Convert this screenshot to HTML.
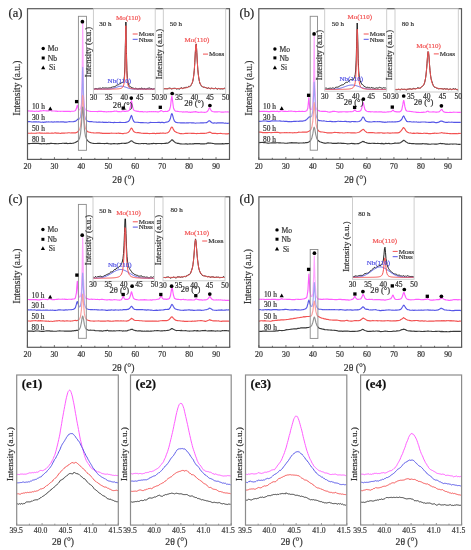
<!DOCTYPE html><html><head><meta charset="utf-8"><style>html,body{margin:0;padding:0;background:#fff;width:471px;height:550px;overflow:hidden}svg{display:block;will-change:transform}text{font-family:"Liberation Serif",serif}</style></head><body><svg width="471" height="550" viewBox="0 0 471 550"><clipPath id="ca"><rect x="27.50" y="8.70" width="202.00" height="150.70"/></clipPath><path d="M27.50 111.20 28.50 110.90 29.50 111.03 30.50 111.12 31.50 111.16 32.50 111.06 33.50 111.26 34.50 111.37 35.50 111.21 36.50 111.19 37.50 111.22 38.50 111.34 39.50 111.12 40.50 110.93 41.50 110.94 42.50 110.75 43.50 110.45 44.50 110.72 45.50 110.77 46.50 110.87 47.50 110.91 48.50 111.00 49.50 110.55 49.62 110.47 50.12 110.23 50.50 110.35 50.62 110.32 51.50 110.96 52.50 111.03 53.50 110.97 54.50 110.99 55.50 111.17 56.50 111.14 57.50 111.42 58.50 111.30 59.50 111.27 60.50 111.36 61.50 111.29 62.50 111.29 63.50 111.34 64.50 111.35 65.50 111.27 66.50 111.32 67.50 111.24 68.50 111.35 69.50 111.37 70.50 111.57 71.50 111.28 72.50 111.27 73.50 111.30 74.50 111.02 75.50 110.48 76.50 108.29 76.83 106.91 77.33 105.21 77.50 105.38 77.83 106.53 78.50 109.17 79.50 109.82 80.50 108.51 81.50 103.16 82.21 73.83 82.50 39.12 82.71 22.39 83.21 74.05 83.50 93.21 84.50 107.68 85.50 109.63 86.50 110.22 87.50 110.64 88.50 111.01 89.50 111.27 90.50 111.43 91.50 111.46 92.50 111.46 93.50 111.47 94.50 111.46 95.50 111.54 96.50 111.54 97.50 111.58 98.50 111.44 99.50 111.41 100.50 111.34 101.50 111.37 102.50 111.45 103.50 111.64 104.50 111.64 105.50 111.80 106.50 111.87 107.50 111.75 108.50 111.68 109.50 111.79 110.50 111.61 111.50 111.61 112.50 111.46 113.50 111.38 114.50 111.16 115.50 111.20 116.50 111.13 117.50 111.57 118.50 111.57 119.50 111.54 120.50 111.77 121.50 111.57 122.50 111.08 122.61 111.09 123.11 110.91 123.50 111.09 123.61 111.11 124.50 111.37 125.50 111.44 126.50 111.18 127.50 111.11 128.50 110.91 129.50 110.03 130.50 106.09 130.96 102.92 131.46 100.70 131.50 100.83 131.96 102.69 132.50 106.35 133.50 109.89 134.50 110.58 135.50 110.99 136.50 111.17 137.50 111.41 138.50 111.39 139.50 111.78 140.50 111.66 141.50 111.67 142.50 111.62 143.50 111.97 144.50 111.76 145.50 111.76 146.50 112.04 147.50 111.84 148.50 111.76 149.50 111.62 150.50 111.73 151.50 111.66 152.50 111.78 153.50 111.67 154.50 111.70 155.50 111.63 156.50 111.75 157.50 111.86 158.50 111.87 159.50 111.54 160.50 110.98 160.59 110.72 161.09 110.51 161.50 110.77 161.59 110.76 162.50 111.25 163.50 111.60 164.50 111.53 165.50 111.40 166.50 111.46 167.50 111.41 168.50 110.76 169.50 109.99 170.50 106.41 171.36 98.93 171.50 97.76 171.86 96.19 172.36 98.96 172.50 100.30 173.50 108.02 174.50 110.35 175.50 111.14 176.50 111.30 177.50 111.34 178.50 111.54 179.50 111.72 180.50 111.78 181.50 111.77 182.50 112.07 183.50 111.88 184.50 112.05 185.50 111.90 186.50 111.91 187.50 111.91 188.50 112.30 189.50 112.14 190.50 112.32 191.50 112.14 192.50 112.07 193.50 111.91 194.50 111.93 195.33 111.67 195.50 111.56 195.83 111.82 196.33 111.92 196.50 111.91 197.50 112.19 198.50 112.33 199.50 112.20 200.50 112.17 201.50 112.11 202.50 112.26 203.50 112.22 204.50 112.41 205.50 112.24 206.50 111.95 207.50 111.32 208.50 109.76 209.07 108.40 209.50 108.03 209.57 108.14 210.07 108.34 210.50 109.48 211.50 110.91 212.50 111.46 213.50 111.76 214.50 111.93 215.50 111.91 216.50 111.88 217.50 111.89 218.50 111.72 219.50 111.79 220.50 111.99 221.50 112.07 222.50 112.13 223.50 112.11 224.50 112.04 225.50 111.87 226.50 112.01 227.50 111.92 228.50 111.97 229.50 112.21" fill="none" stroke="#ff5cff" stroke-width="1.15" stroke-linejoin="round" clip-path="url(#ca)"/><path d="M27.50 121.79 28.50 121.66 29.50 121.68 30.50 121.74 31.50 121.86 32.50 121.95 33.50 121.82 34.50 121.85 35.50 121.85 36.50 121.84 37.50 121.96 38.50 121.84 39.50 122.00 40.50 122.18 41.50 122.20 42.50 122.05 43.50 122.34 44.50 122.19 45.50 122.09 46.50 121.92 47.50 121.97 48.50 121.86 49.50 121.95 50.50 122.01 51.50 121.81 52.50 122.06 53.50 122.06 54.50 121.81 55.50 121.95 56.50 121.91 57.50 121.94 58.50 121.87 59.50 122.01 60.50 121.87 61.50 121.86 62.50 121.90 63.50 121.93 64.50 122.14 65.50 122.12 66.50 122.09 67.50 121.99 68.50 121.78 69.50 121.67 70.50 121.75 71.50 121.75 72.50 121.75 73.50 121.66 74.50 121.42 75.50 121.26 76.50 120.38 77.10 119.85 77.50 119.54 77.60 119.34 78.10 119.09 78.50 119.13 79.50 118.88 80.50 116.90 81.50 108.59 82.21 85.71 82.50 71.88 82.71 67.27 83.21 85.59 83.50 97.79 84.50 115.15 85.50 118.99 86.50 120.44 87.50 121.04 88.50 121.45 89.50 121.56 90.50 121.66 91.50 121.67 92.50 121.73 93.50 121.95 94.50 121.97 95.50 122.03 96.50 122.09 97.50 122.27 98.50 122.09 99.50 122.13 100.50 122.18 101.50 122.20 102.50 122.13 103.50 122.33 104.50 122.24 105.50 122.33 106.50 122.26 107.50 122.53 108.50 122.17 109.50 122.28 110.50 122.33 111.50 122.47 112.50 122.46 113.50 122.60 114.50 122.35 115.50 122.54 116.50 122.49 117.50 122.45 118.50 122.46 119.50 122.43 120.50 122.39 121.50 122.54 122.50 122.46 123.50 122.49 124.50 122.55 125.50 122.39 126.50 122.09 127.50 121.83 128.50 121.37 129.50 120.14 130.50 117.43 130.96 116.19 131.46 115.42 131.50 115.50 131.96 116.47 132.50 118.62 133.50 121.00 134.50 122.07 135.50 122.29 136.50 122.29 137.50 122.26 138.50 122.44 139.50 122.46 140.50 122.67 141.50 122.69 142.50 122.55 143.50 122.68 144.50 122.72 145.50 122.77 146.50 122.77 147.50 122.95 148.50 122.83 149.50 122.63 150.50 122.38 151.50 122.49 152.50 122.53 153.50 122.49 154.50 122.49 155.50 122.54 156.50 122.52 157.50 122.38 158.50 122.21 159.50 122.38 160.50 122.57 161.50 122.41 162.50 122.44 163.50 122.56 164.50 122.71 165.50 122.21 166.50 122.09 167.50 121.99 168.50 121.53 169.50 120.41 170.50 117.94 171.36 114.46 171.50 114.08 171.86 113.66 172.36 114.42 172.50 114.79 173.50 118.64 174.50 121.17 175.50 122.10 176.50 122.50 177.50 122.68 178.50 122.78 179.50 122.79 180.50 122.91 181.50 122.84 182.50 122.86 183.50 122.91 184.50 122.92 185.50 122.96 186.50 122.83 187.50 122.87 188.50 122.83 189.50 122.75 190.50 122.72 191.50 122.82 192.50 122.87 193.50 122.91 194.50 122.96 195.50 123.23 196.50 123.02 197.50 122.99 198.50 122.97 199.50 122.96 200.50 122.89 201.50 122.92 202.50 122.81 203.50 122.91 204.50 122.74 205.50 122.75 206.50 122.64 207.50 122.09 208.50 121.15 209.07 120.71 209.50 120.74 209.57 120.78 210.07 121.09 210.50 121.53 211.50 122.48 212.50 122.98 213.50 123.10 214.50 122.94 215.50 123.04 216.50 123.08 217.50 122.86 218.50 122.83 219.50 122.86 220.50 122.81 221.50 122.77 222.50 122.89 223.50 122.94 224.50 123.20 225.50 123.05 226.50 123.30 227.50 123.32 228.50 123.26 229.50 122.99" fill="none" stroke="#5555e6" stroke-width="1.15" stroke-linejoin="round" clip-path="url(#ca)"/><path d="M27.50 133.11 28.50 133.29 29.50 133.20 30.50 133.25 31.50 133.16 32.50 133.21 33.50 133.20 34.50 133.21 35.50 133.22 36.50 133.12 37.50 133.04 38.50 132.95 39.50 132.88 40.50 133.06 41.50 133.11 42.50 133.13 43.50 133.26 44.50 133.19 45.50 133.24 46.50 133.12 47.50 133.19 48.50 133.06 49.50 133.28 50.50 133.22 51.50 133.07 52.50 133.09 53.50 133.21 54.50 132.93 55.50 132.93 56.50 133.16 57.50 133.09 58.50 133.11 59.50 133.25 60.50 133.48 61.50 133.14 62.50 133.12 63.50 133.14 64.50 133.09 65.50 133.02 66.50 132.96 67.50 132.90 68.50 132.78 69.50 132.80 70.50 132.98 71.50 132.91 72.50 132.84 73.50 132.93 74.50 132.91 75.50 132.85 76.50 132.42 77.50 131.99 78.50 131.00 79.50 129.64 80.50 126.33 81.50 116.53 82.21 101.99 82.50 96.81 82.71 95.25 83.21 101.88 83.50 108.56 84.50 123.33 85.50 128.52 86.50 130.44 87.50 131.59 88.50 131.93 89.50 132.30 90.50 132.44 91.50 132.70 92.50 132.73 93.50 132.83 94.50 132.97 95.50 133.04 96.50 132.93 97.50 132.87 98.50 132.87 99.50 132.90 100.50 133.14 101.50 133.08 102.50 133.40 103.50 133.37 104.50 133.34 105.50 133.23 106.50 133.39 107.50 133.34 108.50 133.38 109.50 133.39 110.50 133.29 111.50 133.13 112.50 133.20 113.50 133.27 114.50 133.28 115.50 133.26 116.50 133.43 117.50 133.27 118.50 133.17 119.50 133.33 120.50 133.38 121.50 133.49 122.50 133.68 123.50 133.56 124.50 133.22 125.50 133.29 126.50 133.08 127.50 132.69 128.50 132.20 129.50 131.05 130.50 129.31 130.96 128.41 131.46 128.12 131.50 128.09 131.96 128.52 132.50 129.42 133.50 131.27 134.50 132.01 135.50 132.49 136.50 132.70 137.50 132.62 138.50 132.67 139.50 132.88 140.50 132.94 141.50 133.25 142.50 133.27 143.50 133.36 144.50 133.27 145.50 133.36 146.50 133.32 147.50 133.40 148.50 133.51 149.50 133.56 150.50 133.46 151.50 133.54 152.50 133.44 153.50 133.39 154.50 133.33 155.50 133.74 156.50 133.38 157.50 133.32 158.50 133.41 159.50 133.39 160.50 133.10 161.50 133.31 162.50 133.11 163.50 132.98 164.50 133.21 165.50 133.32 166.50 133.02 167.50 132.85 168.50 132.21 169.50 131.14 170.50 128.86 171.36 127.33 171.50 127.21 171.86 127.10 172.36 127.42 172.50 127.62 173.50 129.65 174.50 131.18 175.50 131.83 176.50 132.39 177.50 132.73 178.50 133.03 179.50 133.37 180.50 133.64 181.50 133.57 182.50 133.75 183.50 133.75 184.50 133.46 185.50 133.32 186.50 133.40 187.50 133.41 188.50 133.29 189.50 133.30 190.50 133.25 191.50 133.32 192.50 133.39 193.50 133.22 194.50 133.43 195.50 133.52 196.50 133.64 197.50 133.44 198.50 133.46 199.50 133.48 200.50 133.29 201.50 133.33 202.50 133.34 203.50 133.33 204.50 133.44 205.50 133.30 206.50 133.08 207.50 132.80 208.50 132.70 209.07 132.17 209.50 132.16 209.57 132.39 210.07 132.20 210.50 132.33 211.50 133.00 212.50 133.42 213.50 133.35 214.50 133.36 215.50 133.36 216.50 133.56 217.50 133.62 218.50 133.45 219.50 133.49 220.50 133.28 221.50 133.46 222.50 133.71 223.50 133.71 224.50 133.80 225.50 133.86 226.50 133.79 227.50 133.85 228.50 133.63 229.50 133.72" fill="none" stroke="#f25252" stroke-width="1.15" stroke-linejoin="round" clip-path="url(#ca)"/><path d="M27.50 143.69 28.50 143.58 29.50 143.69 30.50 143.53 31.50 143.50 32.50 143.39 33.50 143.36 34.50 143.29 35.50 143.32 36.50 143.28 37.50 143.32 38.50 143.38 39.50 143.63 40.50 143.59 41.50 143.82 42.50 143.74 43.50 143.62 44.50 143.51 45.50 143.80 46.50 143.82 47.50 143.62 48.50 143.51 49.50 143.60 50.50 143.39 51.50 143.34 52.50 143.48 53.50 143.52 54.50 143.59 55.50 143.57 56.50 143.66 57.50 143.72 58.50 143.69 59.50 143.53 60.50 143.52 61.50 143.50 62.50 143.28 63.50 143.28 64.50 143.39 65.50 143.43 66.50 143.18 67.50 143.59 68.50 143.48 69.50 143.43 70.50 143.27 71.50 143.49 72.50 143.23 73.50 143.10 74.50 142.80 75.50 142.51 76.50 141.73 77.50 141.33 78.50 140.44 79.50 138.29 80.50 133.82 81.50 123.77 82.21 111.50 82.50 107.98 82.71 106.99 83.21 111.50 83.50 116.11 84.50 130.12 85.50 136.29 86.50 139.14 87.50 140.61 88.50 141.43 89.50 142.14 90.50 142.64 91.50 143.02 92.50 143.26 93.50 143.40 94.50 143.50 95.50 143.51 96.50 143.46 97.50 143.36 98.50 143.33 99.50 143.27 100.50 143.41 101.50 143.51 102.50 143.46 103.50 143.55 104.50 143.67 105.50 143.50 106.50 143.35 107.50 143.44 108.50 143.60 109.50 143.72 110.50 143.93 111.50 143.90 112.50 143.77 113.50 143.67 114.50 143.68 115.50 143.80 116.50 143.76 117.50 143.86 118.50 143.66 119.50 143.59 120.50 143.46 121.50 143.33 122.50 143.22 123.50 143.24 124.50 143.33 125.50 143.32 126.50 143.10 127.50 143.05 128.50 142.58 129.50 141.94 130.50 141.13 130.96 140.95 131.46 140.88 131.50 140.93 131.96 140.95 132.50 141.42 133.50 142.20 134.50 142.67 135.50 143.11 136.50 143.49 137.50 143.47 138.50 143.66 139.50 143.73 140.50 143.75 141.50 143.52 142.50 143.47 143.50 143.58 144.50 143.48 145.50 143.54 146.50 143.68 147.50 143.95 148.50 143.88 149.50 143.87 150.50 143.70 151.50 143.46 152.50 143.56 153.50 143.42 154.50 143.48 155.50 143.62 156.50 143.58 157.50 143.45 158.50 143.49 159.50 143.47 160.50 143.55 161.50 143.64 162.50 143.50 163.50 143.45 164.50 143.44 165.50 143.38 166.50 143.10 167.50 143.27 168.50 142.81 169.50 142.02 170.50 141.12 171.36 140.32 171.50 139.97 171.86 139.82 172.36 139.88 172.50 140.01 173.50 141.02 174.50 141.91 175.50 142.72 176.50 142.99 177.50 143.35 178.50 143.40 179.50 143.66 180.50 143.85 181.50 143.94 182.50 143.96 183.50 143.98 184.50 144.05 185.50 143.77 186.50 143.90 187.50 144.09 188.50 143.98 189.50 143.91 190.50 143.93 191.50 144.00 192.50 143.83 193.50 143.84 194.50 143.57 195.50 143.60 196.50 143.58 197.50 143.63 198.50 143.61 199.50 143.57 200.50 143.93 201.50 143.82 202.50 143.85 203.50 143.80 204.50 143.81 205.50 143.77 206.50 143.63 207.50 143.11 208.50 142.89 209.07 143.18 209.50 142.98 209.57 143.00 210.07 143.20 210.50 143.09 211.50 143.25 212.50 143.43 213.50 143.51 214.50 143.82 215.50 143.75 216.50 143.84 217.50 143.81 218.50 143.73 219.50 143.84 220.50 143.86 221.50 143.87 222.50 143.67 223.50 143.86 224.50 143.81 225.50 143.57 226.50 143.50 227.50 143.63 228.50 143.49 229.50 143.53" fill="none" stroke="#3a3a3a" stroke-width="1.15" stroke-linejoin="round" clip-path="url(#ca)"/><rect x="78.40" y="16.30" width="8.10" height="134.00" fill="#fff" fill-opacity="0.45" stroke="#8a8a8a" stroke-width="0.9"/><line x1="27.50" y1="159.40" x2="27.50" y2="157.20" stroke="#5a5a5a" stroke-width="0.9"/><text x="27.50" y="169.30" font-size="7.80" fill="#333" stroke="#333" stroke-width="0.20" text-anchor="middle" font-weight="normal" font-family="Liberation Serif">20</text><line x1="40.97" y1="159.40" x2="40.97" y2="157.90" stroke="#5a5a5a" stroke-width="0.9"/><line x1="54.43" y1="159.40" x2="54.43" y2="157.20" stroke="#5a5a5a" stroke-width="0.9"/><text x="54.43" y="169.30" font-size="7.80" fill="#333" stroke="#333" stroke-width="0.20" text-anchor="middle" font-weight="normal" font-family="Liberation Serif">30</text><line x1="67.90" y1="159.40" x2="67.90" y2="157.90" stroke="#5a5a5a" stroke-width="0.9"/><line x1="81.37" y1="159.40" x2="81.37" y2="157.20" stroke="#5a5a5a" stroke-width="0.9"/><text x="81.37" y="169.30" font-size="7.80" fill="#333" stroke="#333" stroke-width="0.20" text-anchor="middle" font-weight="normal" font-family="Liberation Serif">40</text><line x1="94.83" y1="159.40" x2="94.83" y2="157.90" stroke="#5a5a5a" stroke-width="0.9"/><line x1="108.30" y1="159.40" x2="108.30" y2="157.20" stroke="#5a5a5a" stroke-width="0.9"/><text x="108.30" y="169.30" font-size="7.80" fill="#333" stroke="#333" stroke-width="0.20" text-anchor="middle" font-weight="normal" font-family="Liberation Serif">50</text><line x1="121.77" y1="159.40" x2="121.77" y2="157.90" stroke="#5a5a5a" stroke-width="0.9"/><line x1="135.23" y1="159.40" x2="135.23" y2="157.20" stroke="#5a5a5a" stroke-width="0.9"/><text x="135.23" y="169.30" font-size="7.80" fill="#333" stroke="#333" stroke-width="0.20" text-anchor="middle" font-weight="normal" font-family="Liberation Serif">60</text><line x1="148.70" y1="159.40" x2="148.70" y2="157.90" stroke="#5a5a5a" stroke-width="0.9"/><line x1="162.17" y1="159.40" x2="162.17" y2="157.20" stroke="#5a5a5a" stroke-width="0.9"/><text x="162.17" y="169.30" font-size="7.80" fill="#333" stroke="#333" stroke-width="0.20" text-anchor="middle" font-weight="normal" font-family="Liberation Serif">70</text><line x1="175.63" y1="159.40" x2="175.63" y2="157.90" stroke="#5a5a5a" stroke-width="0.9"/><line x1="189.10" y1="159.40" x2="189.10" y2="157.20" stroke="#5a5a5a" stroke-width="0.9"/><text x="189.10" y="169.30" font-size="7.80" fill="#333" stroke="#333" stroke-width="0.20" text-anchor="middle" font-weight="normal" font-family="Liberation Serif">80</text><line x1="202.57" y1="159.40" x2="202.57" y2="157.90" stroke="#5a5a5a" stroke-width="0.9"/><line x1="216.03" y1="159.40" x2="216.03" y2="157.20" stroke="#5a5a5a" stroke-width="0.9"/><text x="216.03" y="169.30" font-size="7.80" fill="#333" stroke="#333" stroke-width="0.20" text-anchor="middle" font-weight="normal" font-family="Liberation Serif">90</text><line x1="229.50" y1="159.40" x2="229.50" y2="157.90" stroke="#5a5a5a" stroke-width="0.9"/><rect x="27.50" y="8.70" width="202.00" height="150.70" fill="none" stroke="#5a5a5a" stroke-width="1.20"/><text x="8.60" y="16.50" font-size="12.50" fill="#222" stroke="#222" stroke-width="0.20" text-anchor="start" font-weight="normal" font-family="Liberation Serif">(a)</text><text x="123.40" y="182.90" font-size="9.70" fill="#333" stroke="#333" stroke-width="0.20" text-anchor="middle" font-weight="normal" font-family="Liberation Serif">2θ (°)</text><text x="19.50" y="88.00" font-size="9.40" fill="#333" stroke="#333" stroke-width="0.20" text-anchor="middle" font-weight="normal" font-family="Liberation Serif" transform="rotate(-90 19.50 88.00)">Intensity (a.u.)</text><circle cx="43.20" cy="48.50" r="1.70" fill="#000"/><text x="47.80" y="51.10" font-size="7.60" fill="#333" stroke="#333" stroke-width="0.20" text-anchor="start" font-weight="normal" font-family="Liberation Serif">Mo</text><rect x="41.70" y="56.50" width="3.00" height="3.00" fill="#000"/><text x="47.80" y="60.60" font-size="7.60" fill="#333" stroke="#333" stroke-width="0.20" text-anchor="start" font-weight="normal" font-family="Liberation Serif">Nb</text><path d="M43.20 65.44L45.29 69.22L41.11 69.22Z" fill="#000"/><text x="49.10" y="70.20" font-size="7.60" fill="#333" stroke="#333" stroke-width="0.20" text-anchor="start" font-weight="normal" font-family="Liberation Serif">Si</text><text x="31.90" y="109.20" font-size="7.40" fill="#333" stroke="#333" stroke-width="0.20" text-anchor="start" font-weight="normal" font-family="Liberation Serif">10 h</text><text x="31.90" y="120.00" font-size="7.40" fill="#333" stroke="#333" stroke-width="0.20" text-anchor="start" font-weight="normal" font-family="Liberation Serif">30 h</text><text x="31.90" y="130.90" font-size="7.40" fill="#333" stroke="#333" stroke-width="0.20" text-anchor="start" font-weight="normal" font-family="Liberation Serif">50 h</text><text x="31.90" y="141.70" font-size="7.40" fill="#333" stroke="#333" stroke-width="0.20" text-anchor="start" font-weight="normal" font-family="Liberation Serif">80 h</text><rect x="93.40" y="8.80" width="61.80" height="85.20" fill="#fff"/><clipPath id="ia1"><rect x="93.40" y="8.80" width="61.80" height="85.20"/></clipPath><path d="M93.40 88.40 93.90 88.51 94.40 89.00 94.90 88.96 95.40 88.61 95.90 88.45 96.40 88.55 96.90 88.80 97.40 88.96 97.90 88.72 98.40 88.39 98.90 88.41 99.40 88.25 99.90 88.30 100.40 88.23 100.90 88.19 101.40 88.48 101.90 88.24 102.40 87.90 102.90 87.67 103.40 87.90 103.90 88.20 104.40 88.08 104.90 88.10 105.40 88.01 105.90 87.87 106.40 87.99 106.90 87.97 107.40 88.14 107.90 88.07 108.40 87.88 108.90 88.26 109.40 87.89 109.90 87.97 110.40 87.81 110.90 87.73 111.40 87.35 111.90 87.49 112.40 86.96 112.90 86.82 113.40 86.82 113.90 86.79 114.40 86.81 114.90 86.77 115.40 86.16 115.90 85.95 116.40 85.39 116.90 84.96 117.40 84.94 117.90 84.90 118.40 84.71 118.90 84.36 119.40 83.91 119.90 83.82 120.40 83.64 120.90 83.48 121.40 82.75 121.90 82.87 122.40 82.34 122.90 82.14 123.40 81.58 123.90 79.88 124.40 76.34 124.90 66.92 125.40 43.17 125.90 22.01 126.40 49.72 126.90 70.52 127.40 78.52 127.90 82.01 128.40 83.74 128.90 85.36 129.40 86.23 129.90 86.50 130.40 86.73 130.90 86.77 131.40 87.21 131.90 87.92 132.40 87.92 132.90 88.11 133.40 88.23 133.90 88.37 134.40 88.61 134.90 88.48 135.40 88.25 135.90 88.38 136.40 88.62 136.90 88.49 137.40 88.97 137.90 88.73 138.40 88.83 138.90 88.55 139.40 88.41 139.90 88.80 140.40 88.76 140.90 88.86 141.40 88.05 141.90 87.82 142.40 88.65 142.90 88.92 143.40 89.02 143.90 88.46 144.40 88.55 144.90 88.58 145.40 89.07 145.90 88.79 146.40 88.96 146.90 88.53 147.40 88.47 147.90 88.26 148.40 88.22 148.90 88.13 149.40 88.00 149.90 88.33 150.40 88.78 150.90 88.29 151.40 88.54 151.90 88.52 152.40 89.25 152.90 89.21 153.40 88.97 153.90 88.71 154.40 88.47 154.90 88.78" fill="none" stroke="#151515" stroke-width="0.95" clip-path="url(#ia1)"/><path d="M93.40 89.20 93.90 89.20 94.40 89.20 94.90 89.20 95.40 89.20 95.90 89.20 96.40 89.20 96.90 89.20 97.40 89.20 97.90 89.20 98.40 89.20 98.90 89.20 99.40 89.20 99.90 89.20 100.40 89.20 100.90 89.20 101.40 89.20 101.90 89.20 102.40 89.20 102.90 89.20 103.40 89.19 103.90 89.19 104.40 89.19 104.90 89.19 105.40 89.18 105.90 89.17 106.40 89.16 106.90 89.15 107.40 89.14 107.90 89.11 108.40 89.09 108.90 89.06 109.40 89.02 109.90 88.97 110.40 88.91 110.90 88.85 111.40 88.77 111.90 88.67 112.40 88.57 112.90 88.45 113.40 88.32 113.90 88.18 114.40 88.02 114.90 87.85 115.40 87.68 115.90 87.50 116.40 87.32 116.90 87.14 117.40 86.96 117.90 86.79 118.40 86.64 118.90 86.51 119.40 86.39 119.90 86.30 120.40 86.24 120.90 86.21 121.40 86.20 121.90 86.23 122.40 86.28 122.90 86.37 123.40 86.48 123.90 86.61 124.40 86.76 124.90 86.92 125.40 87.09 125.90 87.27 126.40 87.45 126.90 87.64 127.40 87.81 127.90 87.98 128.40 88.14 128.90 88.29 129.40 88.42 129.90 88.54 130.40 88.65 130.90 88.75 131.40 88.83 131.90 88.90 132.40 88.96 132.90 89.01 133.40 89.05 133.90 89.08 134.40 89.11 134.90 89.13 135.40 89.15 135.90 89.16 136.40 89.17 136.90 89.18 137.40 89.18 137.90 89.19 138.40 89.19 138.90 89.19 139.40 89.20 139.90 89.20 140.40 89.20 140.90 89.20 141.40 89.20 141.90 89.20 142.40 89.20 142.90 89.20 143.40 89.20 143.90 89.20 144.40 89.20 144.90 89.20 145.40 89.20 145.90 89.20 146.40 89.20 146.90 89.20 147.40 89.20 147.90 89.20 148.40 89.20 148.90 89.20 149.40 89.20 149.90 89.20 150.40 89.20 150.90 89.20 151.40 89.20 151.90 89.20 152.40 89.20 152.90 89.20 153.40 89.20 153.90 89.20 154.40 89.20 154.90 89.20" fill="none" stroke="#5555e6" stroke-width="0.9" clip-path="url(#ia1)"/><path d="M93.40 89.18 93.90 89.18 94.40 89.18 94.90 89.18 95.40 89.18 95.90 89.18 96.40 89.18 96.90 89.18 97.40 89.17 97.90 89.17 98.40 89.17 98.90 89.17 99.40 89.17 99.90 89.17 100.40 89.17 100.90 89.17 101.40 89.17 101.90 89.16 102.40 89.16 102.90 89.16 103.40 89.16 103.90 89.16 104.40 89.15 104.90 89.15 105.40 89.15 105.90 89.15 106.40 89.15 106.90 89.14 107.40 89.14 107.90 89.14 108.40 89.13 108.90 89.13 109.40 89.12 109.90 89.12 110.40 89.11 110.90 89.11 111.40 89.10 111.90 89.09 112.40 89.09 112.90 89.08 113.40 89.07 113.90 89.05 114.40 89.04 114.90 89.03 115.40 89.01 115.90 88.99 116.40 88.97 116.90 88.94 117.40 88.91 117.90 88.87 118.40 88.83 118.90 88.77 119.40 88.70 119.90 88.62 120.40 88.51 120.90 88.36 121.40 88.17 121.90 87.90 122.40 87.50 122.90 86.91 123.40 85.93 123.90 84.20 124.40 80.57 124.90 71.01 125.40 46.67 125.90 25.68 126.40 53.60 126.90 74.03 127.40 81.66 127.90 84.68 128.40 86.19 128.90 87.06 129.40 87.60 129.90 87.97 130.40 88.22 130.90 88.40 131.40 88.53 131.90 88.64 132.40 88.72 132.90 88.79 133.40 88.84 133.90 88.88 134.40 88.92 134.90 88.95 135.40 88.97 135.90 89.00 136.40 89.01 136.90 89.03 137.40 89.04 137.90 89.06 138.40 89.07 138.90 89.08 139.40 89.09 139.90 89.10 140.40 89.10 140.90 89.11 141.40 89.11 141.90 89.12 142.40 89.12 142.90 89.13 143.40 89.13 143.90 89.14 144.40 89.14 144.90 89.14 145.40 89.15 145.90 89.15 146.40 89.15 146.90 89.15 147.40 89.16 147.90 89.16 148.40 89.16 148.90 89.16 149.40 89.16 149.90 89.16 150.40 89.17 150.90 89.17 151.40 89.17 151.90 89.17 152.40 89.17 152.90 89.17 153.40 89.17 153.90 89.17 154.40 89.17 154.90 89.18" fill="none" stroke="#f25252" stroke-width="1.0" clip-path="url(#ia1)"/><rect x="93.40" y="8.80" width="61.80" height="85.20" fill="none" stroke="#c8c8c8" stroke-width="0.90"/><text x="93.40" y="99.80" font-size="7.50" fill="#333" stroke="#333" stroke-width="0.20" text-anchor="middle" font-weight="normal" font-family="Liberation Serif">30</text><text x="108.85" y="99.80" font-size="7.50" fill="#333" stroke="#333" stroke-width="0.20" text-anchor="middle" font-weight="normal" font-family="Liberation Serif">35</text><text x="124.30" y="99.80" font-size="7.50" fill="#333" stroke="#333" stroke-width="0.20" text-anchor="middle" font-weight="normal" font-family="Liberation Serif">40</text><text x="139.75" y="99.80" font-size="7.50" fill="#333" stroke="#333" stroke-width="0.20" text-anchor="middle" font-weight="normal" font-family="Liberation Serif">45</text><text x="155.20" y="99.80" font-size="7.50" fill="#333" stroke="#333" stroke-width="0.20" text-anchor="middle" font-weight="normal" font-family="Liberation Serif">50</text><text x="122.70" y="108.30" font-size="8.60" fill="#333" stroke="#333" stroke-width="0.20" text-anchor="middle" font-weight="normal" font-family="Liberation Serif">2θ (°)</text><text x="90.80" y="52.00" font-size="8.60" fill="#333" stroke="#333" stroke-width="0.20" text-anchor="middle" font-weight="normal" font-family="Liberation Serif" transform="rotate(-90 90.80 52.00)">Intensity (a.u.)</text><text x="99.20" y="26.30" font-size="7.00" fill="#333" stroke="#333" stroke-width="0.20" text-anchor="start" font-weight="normal" font-family="Liberation Serif">30 h</text><text x="116.00" y="20.40" font-size="7.00" fill="#f25252" stroke="#f25252" stroke-width="0.20" text-anchor="start" font-weight="normal" font-family="Liberation Serif">Mo(110)</text><line x1="132.70" y1="34.00" x2="137.70" y2="34.00" stroke="#f25252" stroke-width="1"/><text x="138.70" y="36.30" font-size="7.00" fill="#333" stroke="#333" stroke-width="0.20" text-anchor="start" font-weight="normal" font-family="Liberation Serif">Moss</text><line x1="132.70" y1="39.30" x2="137.70" y2="39.30" stroke="#5555e6" stroke-width="1"/><text x="138.70" y="41.60" font-size="7.00" fill="#333" stroke="#333" stroke-width="0.20" text-anchor="start" font-weight="normal" font-family="Liberation Serif">Nbss</text><text x="107.60" y="83.30" font-size="7.00" fill="#5555e6" stroke="#5555e6" stroke-width="0.20" text-anchor="start" font-weight="normal" font-family="Liberation Serif">Nb(110)</text><rect x="163.30" y="8.80" width="62.40" height="85.20" fill="#fff"/><clipPath id="ia2"><rect x="163.30" y="8.80" width="62.40" height="85.20"/></clipPath><path d="M163.30 89.21 163.80 88.94 164.30 88.86 164.80 88.60 165.30 88.79 165.80 88.64 166.30 88.71 166.80 88.92 167.30 88.96 167.80 88.64 168.30 88.03 168.80 88.48 169.30 88.10 169.80 88.18 170.30 88.26 170.80 88.53 171.30 88.95 171.80 88.90 172.30 88.97 172.80 88.35 173.30 88.43 173.80 88.29 174.30 88.28 174.80 88.31 175.30 88.35 175.80 88.56 176.30 88.89 176.80 89.19 177.30 88.93 177.80 88.70 178.30 88.94 178.80 88.74 179.30 89.11 179.80 88.80 180.30 88.59 180.80 87.82 181.30 87.76 181.80 87.91 182.30 88.40 182.80 88.57 183.30 88.25 183.80 87.94 184.30 87.79 184.80 87.56 185.30 87.72 185.80 87.21 186.30 87.40 186.80 87.23 187.30 87.50 187.80 86.91 188.30 86.43 188.80 86.68 189.30 86.34 189.80 86.80 190.30 86.37 190.80 85.63 191.30 84.63 191.80 83.73 192.30 82.77 192.80 81.21 193.30 78.52 193.80 74.80 194.30 70.12 194.80 62.62 195.30 53.01 195.80 45.06 196.30 44.12 196.80 52.52 197.30 61.93 197.80 69.29 198.30 74.18 198.80 77.92 199.30 80.89 199.80 82.96 200.30 84.32 200.80 84.83 201.30 85.91 201.80 86.16 202.30 86.82 202.80 86.87 203.30 87.12 203.80 87.33 204.30 87.22 204.80 87.33 205.30 87.49 205.80 87.52 206.30 88.06 206.80 88.00 207.30 88.33 207.80 88.30 208.30 87.78 208.80 87.96 209.30 88.33 209.80 88.70 210.30 88.94 210.80 88.52 211.30 88.42 211.80 87.97 212.30 88.42 212.80 88.21 213.30 88.72 213.80 88.82 214.30 88.79 214.80 88.39 215.30 88.20 215.80 87.87 216.30 88.37 216.80 89.11 217.30 89.14 217.80 88.91 218.30 88.47 218.80 88.61 219.30 88.65 219.80 88.89 220.30 88.71 220.80 89.17 221.30 88.79 221.80 88.90 222.30 88.89 222.80 89.03 223.30 88.84 223.80 88.52 224.30 88.13 224.80 88.32 225.30 88.82" fill="none" stroke="#151515" stroke-width="0.95" clip-path="url(#ia2)"/><path d="M163.30 88.71 163.80 88.70 164.30 88.70 164.80 88.70 165.30 88.69 165.80 88.69 166.30 88.69 166.80 88.68 167.30 88.68 167.80 88.67 168.30 88.67 168.80 88.66 169.30 88.66 169.80 88.65 170.30 88.65 170.80 88.64 171.30 88.63 171.80 88.63 172.30 88.62 172.80 88.61 173.30 88.60 173.80 88.59 174.30 88.59 174.80 88.58 175.30 88.56 175.80 88.55 176.30 88.54 176.80 88.53 177.30 88.51 177.80 88.50 178.30 88.48 178.80 88.46 179.30 88.44 179.80 88.42 180.30 88.39 180.80 88.37 181.30 88.34 181.80 88.30 182.30 88.27 182.80 88.23 183.30 88.18 183.80 88.13 184.30 88.07 184.80 88.01 185.30 87.94 185.80 87.85 186.30 87.75 186.80 87.64 187.30 87.51 187.80 87.35 188.30 87.17 188.80 86.94 189.30 86.67 189.80 86.34 190.30 85.92 190.80 85.39 191.30 84.70 191.80 83.80 192.30 82.57 192.80 80.87 193.30 78.45 193.80 74.92 194.30 69.69 194.80 62.16 195.30 52.62 195.80 44.63 196.30 44.44 196.80 52.23 197.30 61.81 197.80 69.44 198.30 74.74 198.80 78.33 199.30 80.79 199.80 82.51 200.30 83.75 200.80 84.67 201.30 85.36 201.80 85.90 202.30 86.32 202.80 86.66 203.30 86.93 203.80 87.16 204.30 87.35 204.80 87.50 205.30 87.64 205.80 87.75 206.30 87.85 206.80 87.93 207.30 88.01 207.80 88.07 208.30 88.13 208.80 88.18 209.30 88.23 209.80 88.27 210.30 88.30 210.80 88.34 211.30 88.36 211.80 88.39 212.30 88.42 212.80 88.44 213.30 88.46 213.80 88.48 214.30 88.50 214.80 88.51 215.30 88.53 215.80 88.54 216.30 88.55 216.80 88.56 217.30 88.57 217.80 88.59 218.30 88.59 218.80 88.60 219.30 88.61 219.80 88.62 220.30 88.63 220.80 88.63 221.30 88.64 221.80 88.65 222.30 88.65 222.80 88.66 223.30 88.66 223.80 88.67 224.30 88.67 224.80 88.68 225.30 88.68" fill="none" stroke="#f25252" stroke-width="1.0" clip-path="url(#ia2)"/><rect x="163.30" y="8.80" width="62.40" height="85.20" fill="none" stroke="#c8c8c8" stroke-width="0.90"/><text x="163.30" y="99.80" font-size="7.50" fill="#333" stroke="#333" stroke-width="0.20" text-anchor="middle" font-weight="normal" font-family="Liberation Serif">30</text><text x="178.90" y="99.80" font-size="7.50" fill="#333" stroke="#333" stroke-width="0.20" text-anchor="middle" font-weight="normal" font-family="Liberation Serif">35</text><text x="194.50" y="99.80" font-size="7.50" fill="#333" stroke="#333" stroke-width="0.20" text-anchor="middle" font-weight="normal" font-family="Liberation Serif">40</text><text x="210.10" y="99.80" font-size="7.50" fill="#333" stroke="#333" stroke-width="0.20" text-anchor="middle" font-weight="normal" font-family="Liberation Serif">45</text><text x="225.70" y="99.80" font-size="7.50" fill="#333" stroke="#333" stroke-width="0.20" text-anchor="middle" font-weight="normal" font-family="Liberation Serif">50</text><text x="194.00" y="106.00" font-size="8.60" fill="#333" stroke="#333" stroke-width="0.20" text-anchor="middle" font-weight="normal" font-family="Liberation Serif">2θ (°)</text><text x="161.50" y="54.00" font-size="8.60" fill="#333" stroke="#333" stroke-width="0.20" text-anchor="middle" font-weight="normal" font-family="Liberation Serif" transform="rotate(-90 161.50 54.00)">Intensity (a.u.)</text><text x="169.70" y="25.80" font-size="7.00" fill="#333" stroke="#333" stroke-width="0.20" text-anchor="start" font-weight="normal" font-family="Liberation Serif">50 h</text><text x="184.60" y="41.70" font-size="7.00" fill="#f25252" stroke="#f25252" stroke-width="0.20" text-anchor="start" font-weight="normal" font-family="Liberation Serif">Mo(110)</text><line x1="203.00" y1="54.10" x2="208.00" y2="54.10" stroke="#f25252" stroke-width="1"/><text x="209.00" y="56.40" font-size="7.00" fill="#333" stroke="#333" stroke-width="0.20" text-anchor="start" font-weight="normal" font-family="Liberation Serif">Moss</text><circle cx="82.40" cy="21.70" r="1.85" fill="#000"/><circle cx="131.30" cy="98.10" r="1.85" fill="#000"/><circle cx="172.20" cy="93.50" r="1.85" fill="#000"/><circle cx="209.90" cy="105.50" r="1.85" fill="#000"/><rect x="74.95" y="99.95" width="3.30" height="3.30" fill="#000"/><rect x="121.55" y="106.45" width="3.30" height="3.30" fill="#000"/><rect x="158.65" y="105.65" width="3.30" height="3.30" fill="#000"/><path d="M50.30 106.54L52.39 110.32L48.21 110.32Z" fill="#000"/><clipPath id="cb"><rect x="258.80" y="8.70" width="202.70" height="150.60"/></clipPath><path d="M258.80 111.31 259.80 111.26 260.80 111.47 261.80 111.43 262.80 111.44 263.80 111.20 264.80 111.34 265.80 111.50 266.80 111.32 267.80 111.63 268.80 111.45 269.80 111.63 270.80 111.43 271.80 111.36 272.80 111.31 273.80 111.36 274.80 111.39 275.80 111.52 276.80 111.33 277.80 111.39 278.80 111.73 279.80 111.41 280.80 111.10 281.00 111.06 281.50 110.72 281.80 110.73 282.00 110.89 282.80 111.19 283.80 111.36 284.80 111.39 285.80 111.34 286.80 111.47 287.80 111.47 288.80 111.14 289.80 111.22 290.80 110.99 291.80 111.14 292.80 111.23 293.80 111.51 294.80 111.38 295.80 111.61 296.80 111.52 297.80 111.48 298.80 111.35 299.80 111.25 300.80 111.45 301.80 111.42 302.80 111.42 303.80 111.50 304.80 111.39 305.80 111.09 306.80 110.69 307.80 108.27 308.30 103.30 308.80 97.70 308.80 97.76 309.30 103.23 309.80 107.88 310.80 109.74 311.80 109.04 312.80 105.20 313.70 74.90 313.80 66.39 314.20 36.10 314.70 75.02 314.80 82.04 315.80 106.72 316.80 109.67 317.80 110.38 318.80 110.64 319.80 111.11 320.80 111.23 321.80 111.33 322.80 111.40 323.80 111.43 324.80 111.21 325.80 111.39 326.80 111.49 327.80 111.86 328.80 112.06 329.80 112.10 330.80 111.86 331.80 111.62 332.80 111.33 333.80 111.22 334.80 111.43 335.80 111.50 336.80 111.74 337.80 111.84 338.80 112.09 339.80 111.93 340.80 111.91 341.80 111.86 342.80 111.74 343.80 111.70 344.80 111.75 345.80 111.92 346.80 111.90 347.80 111.93 348.80 111.75 349.80 111.77 350.80 111.68 351.80 111.72 352.80 111.45 353.80 110.96 354.24 110.42 354.74 110.08 354.80 109.90 355.24 110.34 355.80 110.94 356.80 111.35 357.80 111.55 358.80 111.44 359.80 111.12 360.80 110.58 361.80 108.11 362.62 103.90 362.80 103.12 363.12 102.35 363.62 103.89 363.80 104.81 364.80 109.15 365.80 110.60 366.80 111.22 367.80 111.57 368.80 111.65 369.80 111.65 370.80 111.92 371.80 111.73 372.80 111.73 373.80 112.02 374.80 111.93 375.80 111.90 376.80 111.88 377.80 111.98 378.80 111.87 379.80 111.91 380.80 111.75 381.80 111.86 382.80 112.22 383.80 112.18 384.80 112.16 385.80 112.23 386.80 111.98 387.80 111.73 388.80 111.82 389.80 111.80 390.80 111.61 391.80 111.18 392.35 110.55 392.80 110.22 392.85 110.08 393.35 110.33 393.80 110.92 394.80 111.63 395.80 111.63 396.80 111.85 397.80 111.93 398.80 111.94 399.80 111.81 400.80 111.18 401.80 109.66 402.80 104.68 403.16 102.23 403.66 100.43 403.80 100.47 404.16 102.10 404.80 106.38 405.80 110.01 406.80 111.00 407.80 111.24 408.80 111.28 409.80 111.36 410.80 111.53 411.80 111.58 412.80 111.75 413.80 112.03 414.80 112.00 415.80 112.12 416.80 112.42 417.80 112.40 418.80 112.40 419.80 112.49 420.80 112.40 421.80 112.25 422.80 112.35 423.80 112.09 424.80 112.22 425.80 112.01 426.80 111.60 427.22 111.24 427.72 111.09 427.80 111.06 428.22 111.39 428.80 111.84 429.80 111.96 430.80 111.99 431.80 112.01 432.80 111.89 433.80 111.90 434.80 112.05 435.80 112.06 436.80 112.14 437.80 111.96 438.80 112.00 439.80 111.08 440.80 110.08 441.00 109.67 441.50 109.48 441.80 109.44 442.00 109.70 442.80 110.85 443.80 111.84 444.80 112.11 445.80 112.47 446.80 112.39 447.80 112.51 448.80 112.48 449.80 112.32 450.80 112.23 451.80 112.45 452.80 112.21 453.80 112.15 454.80 112.21 455.80 112.23 456.80 112.29 457.80 112.39 458.80 112.40 459.80 112.39 460.80 112.42" fill="none" stroke="#ff5cff" stroke-width="1.15" stroke-linejoin="round" clip-path="url(#cb)"/><path d="M258.80 121.38 259.80 121.39 260.80 121.28 261.80 121.22 262.80 121.00 263.80 120.91 264.80 120.96 265.80 121.05 266.80 121.07 267.80 121.34 268.80 121.36 269.80 121.33 270.80 121.11 271.80 120.93 272.80 120.84 273.80 120.97 274.80 120.93 275.80 120.90 276.80 120.97 277.80 121.00 278.80 120.97 279.80 120.92 280.80 121.10 281.80 121.29 282.80 121.20 283.80 121.19 284.80 121.42 285.80 121.35 286.80 121.29 287.80 121.59 288.80 121.68 289.80 121.44 290.80 121.69 291.80 121.63 292.80 121.49 293.80 121.28 294.80 121.44 295.80 121.43 296.80 121.20 297.80 121.26 298.80 121.32 299.80 121.17 300.80 121.17 301.80 121.07 302.80 121.09 303.80 120.78 304.80 120.62 305.80 120.12 306.80 119.44 307.80 118.25 308.57 117.61 308.80 117.31 309.07 117.09 309.57 116.77 309.80 117.03 310.80 116.94 311.80 115.94 312.80 111.16 313.70 92.65 313.80 89.77 314.20 82.15 314.70 92.93 314.80 95.88 315.80 113.66 316.80 117.79 317.80 119.69 318.80 120.62 319.80 120.69 320.80 120.77 321.80 120.92 322.80 120.95 323.80 120.71 324.80 120.99 325.80 121.21 326.80 121.36 327.80 121.45 328.80 121.45 329.80 121.35 330.80 121.36 331.80 121.60 332.80 121.67 333.80 121.73 334.80 121.67 335.80 121.63 336.80 121.47 337.80 121.26 338.80 121.20 339.80 121.51 340.80 121.40 341.80 121.55 342.80 121.48 343.80 121.47 344.80 121.40 345.80 121.37 346.80 121.57 347.80 121.75 348.80 121.66 349.80 121.83 350.80 121.87 351.80 121.53 352.80 121.45 353.80 121.64 354.80 121.55 355.80 121.69 356.80 121.77 357.80 121.74 358.80 121.54 359.80 121.10 360.80 120.46 361.80 118.85 362.62 117.27 362.80 117.04 363.12 117.03 363.62 117.36 363.80 117.46 364.80 119.57 365.80 120.91 366.80 121.35 367.80 121.69 368.80 121.92 369.80 121.89 370.80 122.01 371.80 122.00 372.80 121.80 373.80 121.69 374.80 121.68 375.80 121.71 376.80 121.72 377.80 121.68 378.80 121.73 379.80 121.48 380.80 121.83 381.80 121.85 382.80 122.17 383.80 122.07 384.80 122.37 385.80 122.17 386.80 122.24 387.80 121.91 388.80 122.02 389.80 121.91 390.80 122.01 391.80 121.93 392.80 121.86 393.80 121.97 394.80 121.88 395.80 121.91 396.80 121.73 397.80 121.58 398.80 121.53 399.80 121.01 400.80 120.25 401.80 119.25 402.80 117.03 403.16 116.39 403.66 115.96 403.80 116.19 404.16 116.64 404.80 118.10 405.80 119.83 406.80 121.39 407.80 121.61 408.80 121.74 409.80 121.67 410.80 121.79 411.80 121.99 412.80 122.02 413.80 121.90 414.80 122.04 415.80 121.96 416.80 121.94 417.80 122.22 418.80 122.09 419.80 122.22 420.80 122.07 421.80 121.97 422.80 122.03 423.80 122.03 424.80 122.04 425.80 122.08 426.80 122.28 427.80 122.30 428.80 122.40 429.80 122.35 430.80 122.37 431.80 122.16 432.80 122.19 433.80 122.17 434.80 122.42 435.80 122.56 436.80 122.57 437.80 122.44 438.80 122.14 439.80 121.53 440.80 121.10 441.00 121.19 441.50 121.04 441.80 121.06 442.00 121.13 442.80 121.45 443.80 121.84 444.80 122.26 445.80 122.33 446.80 122.30 447.80 122.30 448.80 122.13 449.80 122.22 450.80 122.20 451.80 122.10 452.80 122.25 453.80 122.33 454.80 122.27 455.80 122.37 456.80 122.26 457.80 122.40 458.80 122.21 459.80 122.35 460.80 122.32" fill="none" stroke="#5555e6" stroke-width="1.15" stroke-linejoin="round" clip-path="url(#cb)"/><path d="M258.80 132.19 259.80 132.03 260.80 132.11 261.80 132.34 262.80 132.63 263.80 132.59 264.80 132.63 265.80 132.61 266.80 132.45 267.80 132.56 268.80 132.50 269.80 132.47 270.80 132.76 271.80 132.62 272.80 132.55 273.80 132.53 274.80 132.41 275.80 132.39 276.80 132.31 277.80 132.35 278.80 132.53 279.80 132.86 280.80 132.83 281.80 132.76 282.80 132.80 283.80 132.73 284.80 132.54 285.80 132.77 286.80 132.55 287.80 132.72 288.80 132.74 289.80 132.69 290.80 132.80 291.80 132.77 292.80 132.82 293.80 132.78 294.80 132.68 295.80 132.75 296.80 132.66 297.80 132.48 298.80 132.11 299.80 132.29 300.80 132.20 301.80 132.15 302.80 132.07 303.80 132.15 304.80 132.09 305.80 132.01 306.80 132.17 307.80 131.68 308.80 131.28 309.80 130.80 310.80 129.71 311.80 127.33 312.80 121.47 313.70 108.04 313.80 106.43 314.20 102.66 314.70 107.80 314.80 109.37 315.80 122.83 316.80 127.89 317.80 129.99 318.80 130.98 319.80 131.63 320.80 131.94 321.80 131.97 322.80 132.03 323.80 132.24 324.80 132.40 325.80 132.46 326.80 132.82 327.80 132.85 328.80 132.83 329.80 132.78 330.80 132.89 331.80 132.85 332.80 132.79 333.80 132.51 334.80 132.33 335.80 132.54 336.80 132.51 337.80 132.58 338.80 132.50 339.80 132.91 340.80 132.76 341.80 132.77 342.80 132.89 343.80 132.98 344.80 132.90 345.80 132.70 346.80 132.79 347.80 132.68 348.80 132.71 349.80 132.79 350.80 132.87 351.80 132.94 352.80 132.77 353.80 132.93 354.80 132.73 355.80 132.97 356.80 132.79 357.80 132.56 358.80 132.26 359.80 131.90 360.80 131.05 361.80 130.23 362.62 129.64 362.80 129.51 363.12 129.39 363.62 129.55 363.80 129.68 364.80 130.83 365.80 131.66 366.80 132.47 367.80 132.72 368.80 132.65 369.80 132.56 370.80 132.45 371.80 132.59 372.80 132.51 373.80 132.72 374.80 132.91 375.80 133.04 376.80 132.96 377.80 132.85 378.80 132.84 379.80 132.90 380.80 132.76 381.80 132.80 382.80 133.12 383.80 133.05 384.80 133.10 385.80 132.98 386.80 132.97 387.80 132.76 388.80 133.06 389.80 133.11 390.80 133.07 391.80 132.96 392.80 132.94 393.80 133.04 394.80 132.91 395.80 132.93 396.80 132.94 397.80 132.88 398.80 132.65 399.80 132.13 400.80 131.17 401.80 129.94 402.80 128.39 403.16 127.86 403.66 127.59 403.80 127.69 404.16 128.15 404.80 128.81 405.80 130.60 406.80 131.74 407.80 132.36 408.80 132.78 409.80 133.04 410.80 132.93 411.80 133.24 412.80 133.31 413.80 133.18 414.80 133.36 415.80 133.25 416.80 133.06 417.80 133.14 418.80 133.42 419.80 133.41 420.80 133.44 421.80 133.54 422.80 133.53 423.80 133.18 424.80 133.29 425.80 133.33 426.80 133.36 427.80 133.44 428.80 133.64 429.80 133.62 430.80 133.59 431.80 133.49 432.80 133.34 433.80 133.39 434.80 133.12 435.80 133.20 436.80 133.36 437.80 133.26 438.80 133.23 439.80 133.05 440.80 132.87 441.00 132.79 441.50 132.77 441.80 132.61 442.00 132.65 442.80 133.04 443.80 133.17 444.80 133.14 445.80 133.27 446.80 133.32 447.80 133.42 448.80 133.47 449.80 133.63 450.80 133.49 451.80 133.77 452.80 133.60 453.80 133.66 454.80 133.48 455.80 133.56 456.80 133.48 457.80 133.69 458.80 133.38 459.80 133.53 460.80 133.40" fill="none" stroke="#f25252" stroke-width="1.15" stroke-linejoin="round" clip-path="url(#cb)"/><path d="M258.80 142.42 259.80 142.64 260.80 142.44 261.80 142.52 262.80 142.44 263.80 142.64 264.80 142.57 265.80 142.75 266.80 143.03 267.80 143.10 268.80 143.20 269.80 143.05 270.80 143.00 271.80 142.89 272.80 142.83 273.80 142.77 274.80 142.83 275.80 142.93 276.80 142.79 277.80 142.76 278.80 142.88 279.80 142.76 280.80 142.93 281.80 142.97 282.80 142.97 283.80 143.05 284.80 143.25 285.80 143.26 286.80 143.26 287.80 143.07 288.80 142.99 289.80 142.87 290.80 142.86 291.80 142.67 292.80 142.82 293.80 142.75 294.80 142.87 295.80 142.91 296.80 142.89 297.80 142.99 298.80 143.17 299.80 142.98 300.80 143.04 301.80 142.96 302.80 142.93 303.80 142.87 304.80 142.97 305.80 142.55 306.80 142.66 307.80 142.36 308.80 141.99 309.80 141.31 310.80 140.31 311.80 138.01 312.80 133.92 313.70 128.24 313.80 127.94 314.20 127.15 314.70 128.56 314.80 129.10 315.80 134.87 316.80 138.59 317.80 140.20 318.80 141.02 319.80 141.71 320.80 142.06 321.80 142.55 322.80 142.67 323.80 143.09 324.80 143.12 325.80 143.31 326.80 142.93 327.80 142.78 328.80 142.89 329.80 142.97 330.80 142.95 331.80 143.16 332.80 143.34 333.80 143.33 334.80 143.25 335.80 143.31 336.80 143.38 337.80 143.18 338.80 143.18 339.80 143.23 340.80 143.12 341.80 143.32 342.80 143.33 343.80 143.25 344.80 143.45 345.80 143.52 346.80 143.72 347.80 143.85 348.80 143.71 349.80 143.64 350.80 143.47 351.80 143.44 352.80 143.57 353.80 143.45 354.80 143.85 355.80 143.77 356.80 143.73 357.80 143.55 358.80 143.55 359.80 142.98 360.80 142.49 361.80 141.99 362.62 141.58 362.80 141.38 363.12 141.37 363.62 141.77 363.80 141.49 364.80 142.17 365.80 142.53 366.80 142.87 367.80 143.14 368.80 143.34 369.80 143.30 370.80 143.45 371.80 143.28 372.80 143.28 373.80 143.39 374.80 143.39 375.80 143.45 376.80 143.53 377.80 143.29 378.80 143.47 379.80 143.51 380.80 143.56 381.80 143.43 382.80 143.64 383.80 143.86 384.80 143.63 385.80 143.34 386.80 143.56 387.80 143.52 388.80 143.39 389.80 143.64 390.80 143.72 391.80 143.71 392.80 143.48 393.80 143.37 394.80 143.08 395.80 143.13 396.80 143.25 397.80 143.16 398.80 143.17 399.80 142.95 400.80 142.45 401.80 141.64 402.80 141.02 403.16 140.58 403.66 140.40 403.80 140.41 404.16 140.41 404.80 140.85 405.80 141.77 406.80 142.38 407.80 143.04 408.80 143.32 409.80 143.39 410.80 143.46 411.80 143.60 412.80 143.54 413.80 143.61 414.80 143.72 415.80 143.82 416.80 143.85 417.80 143.80 418.80 143.83 419.80 143.83 420.80 143.82 421.80 143.87 422.80 143.67 423.80 143.75 424.80 143.82 425.80 143.73 426.80 143.91 427.80 144.17 428.80 144.18 429.80 144.25 430.80 144.16 431.80 144.04 432.80 143.99 433.80 144.03 434.80 144.14 435.80 144.14 436.80 144.06 437.80 144.01 438.80 143.75 439.80 143.49 440.80 143.44 441.00 143.69 441.50 143.58 441.80 143.48 442.00 143.61 442.80 143.63 443.80 143.70 444.80 143.88 445.80 144.19 446.80 144.16 447.80 144.13 448.80 144.21 449.80 144.11 450.80 144.04 451.80 144.02 452.80 144.10 453.80 144.00 454.80 143.98 455.80 144.01 456.80 144.18 457.80 144.29 458.80 144.42 459.80 144.41 460.80 144.30" fill="none" stroke="#3a3a3a" stroke-width="1.15" stroke-linejoin="round" clip-path="url(#cb)"/><rect x="310.20" y="16.30" width="7.30" height="133.90" fill="#fff" fill-opacity="0.45" stroke="#8a8a8a" stroke-width="0.9"/><line x1="258.80" y1="159.30" x2="258.80" y2="157.10" stroke="#5a5a5a" stroke-width="0.9"/><text x="258.80" y="169.20" font-size="7.80" fill="#333" stroke="#333" stroke-width="0.20" text-anchor="middle" font-weight="normal" font-family="Liberation Serif">20</text><line x1="272.31" y1="159.30" x2="272.31" y2="157.80" stroke="#5a5a5a" stroke-width="0.9"/><line x1="285.83" y1="159.30" x2="285.83" y2="157.10" stroke="#5a5a5a" stroke-width="0.9"/><text x="285.83" y="169.20" font-size="7.80" fill="#333" stroke="#333" stroke-width="0.20" text-anchor="middle" font-weight="normal" font-family="Liberation Serif">30</text><line x1="299.34" y1="159.30" x2="299.34" y2="157.80" stroke="#5a5a5a" stroke-width="0.9"/><line x1="312.85" y1="159.30" x2="312.85" y2="157.10" stroke="#5a5a5a" stroke-width="0.9"/><text x="312.85" y="169.20" font-size="7.80" fill="#333" stroke="#333" stroke-width="0.20" text-anchor="middle" font-weight="normal" font-family="Liberation Serif">40</text><line x1="326.37" y1="159.30" x2="326.37" y2="157.80" stroke="#5a5a5a" stroke-width="0.9"/><line x1="339.88" y1="159.30" x2="339.88" y2="157.10" stroke="#5a5a5a" stroke-width="0.9"/><text x="339.88" y="169.20" font-size="7.80" fill="#333" stroke="#333" stroke-width="0.20" text-anchor="middle" font-weight="normal" font-family="Liberation Serif">50</text><line x1="353.39" y1="159.30" x2="353.39" y2="157.80" stroke="#5a5a5a" stroke-width="0.9"/><line x1="366.91" y1="159.30" x2="366.91" y2="157.10" stroke="#5a5a5a" stroke-width="0.9"/><text x="366.91" y="169.20" font-size="7.80" fill="#333" stroke="#333" stroke-width="0.20" text-anchor="middle" font-weight="normal" font-family="Liberation Serif">60</text><line x1="380.42" y1="159.30" x2="380.42" y2="157.80" stroke="#5a5a5a" stroke-width="0.9"/><line x1="393.93" y1="159.30" x2="393.93" y2="157.10" stroke="#5a5a5a" stroke-width="0.9"/><text x="393.93" y="169.20" font-size="7.80" fill="#333" stroke="#333" stroke-width="0.20" text-anchor="middle" font-weight="normal" font-family="Liberation Serif">70</text><line x1="407.45" y1="159.30" x2="407.45" y2="157.80" stroke="#5a5a5a" stroke-width="0.9"/><line x1="420.96" y1="159.30" x2="420.96" y2="157.10" stroke="#5a5a5a" stroke-width="0.9"/><text x="420.96" y="169.20" font-size="7.80" fill="#333" stroke="#333" stroke-width="0.20" text-anchor="middle" font-weight="normal" font-family="Liberation Serif">80</text><line x1="434.47" y1="159.30" x2="434.47" y2="157.80" stroke="#5a5a5a" stroke-width="0.9"/><line x1="447.99" y1="159.30" x2="447.99" y2="157.10" stroke="#5a5a5a" stroke-width="0.9"/><text x="447.99" y="169.20" font-size="7.80" fill="#333" stroke="#333" stroke-width="0.20" text-anchor="middle" font-weight="normal" font-family="Liberation Serif">90</text><line x1="461.50" y1="159.30" x2="461.50" y2="157.80" stroke="#5a5a5a" stroke-width="0.9"/><rect x="258.80" y="8.70" width="202.70" height="150.60" fill="none" stroke="#5a5a5a" stroke-width="1.20"/><text x="239.60" y="16.80" font-size="12.50" fill="#222" stroke="#222" stroke-width="0.20" text-anchor="start" font-weight="normal" font-family="Liberation Serif">(b)</text><text x="355.30" y="182.70" font-size="9.70" fill="#333" stroke="#333" stroke-width="0.20" text-anchor="middle" font-weight="normal" font-family="Liberation Serif">2θ (°)</text><text x="252.40" y="88.00" font-size="9.40" fill="#333" stroke="#333" stroke-width="0.20" text-anchor="middle" font-weight="normal" font-family="Liberation Serif" transform="rotate(-90 252.40 88.00)">Intensity (a.u.)</text><circle cx="274.90" cy="49.00" r="1.70" fill="#000"/><text x="279.50" y="51.60" font-size="7.60" fill="#333" stroke="#333" stroke-width="0.20" text-anchor="start" font-weight="normal" font-family="Liberation Serif">Mo</text><rect x="273.40" y="56.40" width="3.00" height="3.00" fill="#000"/><text x="279.50" y="60.50" font-size="7.60" fill="#333" stroke="#333" stroke-width="0.20" text-anchor="start" font-weight="normal" font-family="Liberation Serif">Nb</text><path d="M274.90 65.54L276.99 69.32L272.81 69.32Z" fill="#000"/><text x="280.80" y="70.30" font-size="7.60" fill="#333" stroke="#333" stroke-width="0.20" text-anchor="start" font-weight="normal" font-family="Liberation Serif">Si</text><text x="263.00" y="109.20" font-size="7.40" fill="#333" stroke="#333" stroke-width="0.20" text-anchor="start" font-weight="normal" font-family="Liberation Serif">10 h</text><text x="263.00" y="119.80" font-size="7.40" fill="#333" stroke="#333" stroke-width="0.20" text-anchor="start" font-weight="normal" font-family="Liberation Serif">30 h</text><text x="263.00" y="131.10" font-size="7.40" fill="#333" stroke="#333" stroke-width="0.20" text-anchor="start" font-weight="normal" font-family="Liberation Serif">50 h</text><text x="263.00" y="142.10" font-size="7.40" fill="#333" stroke="#333" stroke-width="0.20" text-anchor="start" font-weight="normal" font-family="Liberation Serif">80 h</text><rect x="324.70" y="8.80" width="62.00" height="82.40" fill="#fff"/><clipPath id="ib1"><rect x="324.70" y="8.80" width="62.00" height="82.40"/></clipPath><path d="M324.70 88.40 325.20 88.13 325.70 88.09 326.20 87.91 326.70 88.37 327.20 88.69 327.70 88.87 328.20 88.67 328.70 88.32 329.20 88.25 329.70 88.30 330.20 88.34 330.70 88.05 331.20 88.17 331.70 88.52 332.20 88.20 332.70 87.85 333.20 87.80 333.70 88.12 334.20 88.67 334.70 88.48 335.20 87.55 335.70 87.32 336.20 86.97 336.70 87.37 337.20 86.99 337.70 87.30 338.20 87.08 338.70 86.71 339.20 86.55 339.70 85.83 340.20 85.80 340.70 85.38 341.20 85.10 341.70 85.13 342.20 84.95 342.70 84.78 343.20 84.73 343.70 84.45 344.20 84.07 344.70 83.31 345.20 82.79 345.70 82.66 346.20 82.35 346.70 82.30 347.20 82.38 347.70 82.21 348.20 81.76 348.70 81.39 349.20 80.75 349.70 79.98 350.20 79.63 350.70 79.76 351.20 79.72 351.70 79.59 352.20 79.78 352.70 79.73 353.20 79.81 353.70 78.85 354.20 77.93 354.70 76.58 355.20 74.66 355.70 70.05 356.20 60.10 356.70 41.12 357.20 23.01 357.70 36.88 358.20 58.85 358.70 70.74 359.20 75.99 359.70 79.36 360.20 80.68 360.70 82.26 361.20 83.09 361.70 84.16 362.20 84.75 362.70 84.65 363.20 85.21 363.70 85.58 364.20 86.53 364.70 86.50 365.20 87.02 365.70 87.14 366.20 87.24 366.70 87.63 367.20 87.23 367.70 87.35 368.20 87.30 368.70 87.81 369.20 87.47 369.70 87.72 370.20 88.26 370.70 87.76 371.20 87.73 371.70 87.31 372.20 88.06 372.70 88.02 373.20 88.19 373.70 87.95 374.20 88.30 374.70 88.37 375.20 88.13 375.70 88.19 376.20 87.78 376.70 87.98 377.20 88.03 377.70 88.14 378.20 88.32 378.70 87.65 379.20 87.61 379.70 87.10 380.20 87.51 380.70 87.68 381.20 87.99 381.70 88.01 382.20 88.13 382.70 88.26 383.20 87.91 383.70 87.66 384.20 87.95 384.70 87.89 385.20 87.89 385.70 87.91 386.20 88.42 386.70 88.42" fill="none" stroke="#151515" stroke-width="0.95" clip-path="url(#ib1)"/><path d="M324.70 89.50 325.20 89.49 325.70 89.49 326.20 89.49 326.70 89.49 327.20 89.48 327.70 89.48 328.20 89.48 328.70 89.47 329.20 89.46 329.70 89.45 330.20 89.44 330.70 89.43 331.20 89.42 331.70 89.40 332.20 89.38 332.70 89.35 333.20 89.32 333.70 89.29 334.20 89.25 334.70 89.21 335.20 89.16 335.70 89.11 336.20 89.04 336.70 88.97 337.20 88.90 337.70 88.81 338.20 88.72 338.70 88.61 339.20 88.50 339.70 88.38 340.20 88.24 340.70 88.10 341.20 87.95 341.70 87.80 342.20 87.63 342.70 87.46 343.20 87.29 343.70 87.10 344.20 86.92 344.70 86.74 345.20 86.55 345.70 86.37 346.20 86.19 346.70 86.02 347.20 85.85 347.70 85.70 348.20 85.55 348.70 85.42 349.20 85.31 349.70 85.21 350.20 85.13 350.70 85.07 351.20 85.03 351.70 85.00 352.20 85.00 352.70 85.02 353.20 85.06 353.70 85.12 354.20 85.20 354.70 85.30 355.20 85.41 355.70 85.54 356.20 85.68 356.70 85.83 357.20 86.00 357.70 86.17 358.20 86.35 358.70 86.53 359.20 86.71 359.70 86.90 360.20 87.08 360.70 87.26 361.20 87.44 361.70 87.61 362.20 87.78 362.70 87.94 363.20 88.09 363.70 88.23 364.20 88.36 364.70 88.48 365.20 88.60 365.70 88.70 366.20 88.80 366.70 88.89 367.20 88.97 367.70 89.04 368.20 89.10 368.70 89.16 369.20 89.21 369.70 89.25 370.20 89.29 370.70 89.32 371.20 89.35 371.70 89.37 372.20 89.40 372.70 89.41 373.20 89.43 373.70 89.44 374.20 89.45 374.70 89.46 375.20 89.47 375.70 89.47 376.20 89.48 376.70 89.48 377.20 89.49 377.70 89.49 378.20 89.49 378.70 89.49 379.20 89.50 379.70 89.50 380.20 89.50 380.70 89.50 381.20 89.50 381.70 89.50 382.20 89.50 382.70 89.50 383.20 89.50 383.70 89.50 384.20 89.50 384.70 89.50 385.20 89.50 385.70 89.50 386.20 89.50 386.70 89.50" fill="none" stroke="#5555e6" stroke-width="0.9" clip-path="url(#ib1)"/><path d="M324.70 89.47 325.20 89.47 325.70 89.47 326.20 89.47 326.70 89.46 327.20 89.46 327.70 89.46 328.20 89.46 328.70 89.46 329.20 89.46 329.70 89.46 330.20 89.45 330.70 89.45 331.20 89.45 331.70 89.45 332.20 89.45 332.70 89.44 333.20 89.44 333.70 89.44 334.20 89.44 334.70 89.43 335.20 89.43 335.70 89.43 336.20 89.42 336.70 89.42 337.20 89.42 337.70 89.41 338.20 89.41 338.70 89.40 339.20 89.40 339.70 89.39 340.20 89.39 340.70 89.38 341.20 89.37 341.70 89.36 342.20 89.35 342.70 89.34 343.20 89.33 343.70 89.32 344.20 89.30 344.70 89.29 345.20 89.27 345.70 89.25 346.20 89.23 346.70 89.20 347.20 89.17 347.70 89.14 348.20 89.10 348.70 89.05 349.20 88.99 349.70 88.92 350.20 88.84 350.70 88.73 351.20 88.60 351.70 88.44 352.20 88.22 352.70 87.94 353.20 87.54 353.70 86.98 354.20 86.14 354.70 84.82 355.20 82.51 355.70 77.86 356.20 67.63 356.70 47.84 357.20 29.22 357.70 42.98 358.20 64.51 358.70 76.40 359.20 81.84 359.70 84.46 360.20 85.93 360.70 86.84 361.20 87.44 361.70 87.87 362.20 88.17 362.70 88.40 363.20 88.57 363.70 88.71 364.20 88.82 364.70 88.91 365.20 88.98 365.70 89.04 366.20 89.09 366.70 89.13 367.20 89.16 367.70 89.20 368.20 89.22 368.70 89.25 369.20 89.27 369.70 89.29 370.20 89.30 370.70 89.32 371.20 89.33 371.70 89.34 372.20 89.35 372.70 89.36 373.20 89.37 373.70 89.38 374.20 89.38 374.70 89.39 375.20 89.40 375.70 89.40 376.20 89.41 376.70 89.41 377.20 89.42 377.70 89.42 378.20 89.42 378.70 89.43 379.20 89.43 379.70 89.43 380.20 89.44 380.70 89.44 381.20 89.44 381.70 89.44 382.20 89.45 382.70 89.45 383.20 89.45 383.70 89.45 384.20 89.45 384.70 89.46 385.20 89.46 385.70 89.46 386.20 89.46 386.70 89.46" fill="none" stroke="#f25252" stroke-width="1.0" clip-path="url(#ib1)"/><rect x="324.70" y="8.80" width="62.00" height="82.40" fill="none" stroke="#c8c8c8" stroke-width="0.90"/><text x="324.70" y="98.70" font-size="7.50" fill="#333" stroke="#333" stroke-width="0.20" text-anchor="middle" font-weight="normal" font-family="Liberation Serif">30</text><text x="340.20" y="98.70" font-size="7.50" fill="#333" stroke="#333" stroke-width="0.20" text-anchor="middle" font-weight="normal" font-family="Liberation Serif">35</text><text x="355.70" y="98.70" font-size="7.50" fill="#333" stroke="#333" stroke-width="0.20" text-anchor="middle" font-weight="normal" font-family="Liberation Serif">40</text><text x="371.20" y="98.70" font-size="7.50" fill="#333" stroke="#333" stroke-width="0.20" text-anchor="middle" font-weight="normal" font-family="Liberation Serif">45</text><text x="386.70" y="98.70" font-size="7.50" fill="#333" stroke="#333" stroke-width="0.20" text-anchor="middle" font-weight="normal" font-family="Liberation Serif">50</text><text x="353.50" y="104.50" font-size="8.60" fill="#333" stroke="#333" stroke-width="0.20" text-anchor="middle" font-weight="normal" font-family="Liberation Serif">2θ (°)</text><text x="321.60" y="55.00" font-size="8.60" fill="#333" stroke="#333" stroke-width="0.20" text-anchor="middle" font-weight="normal" font-family="Liberation Serif" transform="rotate(-90 321.60 55.00)">Intensity (a.u.)</text><text x="331.80" y="26.30" font-size="7.00" fill="#333" stroke="#333" stroke-width="0.20" text-anchor="start" font-weight="normal" font-family="Liberation Serif">50 h</text><text x="347.50" y="18.60" font-size="7.00" fill="#f25252" stroke="#f25252" stroke-width="0.20" text-anchor="start" font-weight="normal" font-family="Liberation Serif">Mo(110)</text><line x1="363.70" y1="34.00" x2="368.70" y2="34.00" stroke="#f25252" stroke-width="1"/><text x="369.70" y="36.30" font-size="7.00" fill="#333" stroke="#333" stroke-width="0.20" text-anchor="start" font-weight="normal" font-family="Liberation Serif">Moss</text><line x1="363.70" y1="39.30" x2="368.70" y2="39.30" stroke="#5555e6" stroke-width="1"/><text x="369.70" y="41.60" font-size="7.00" fill="#333" stroke="#333" stroke-width="0.20" text-anchor="start" font-weight="normal" font-family="Liberation Serif">Nbss</text><text x="339.50" y="81.40" font-size="7.00" fill="#5555e6" stroke="#5555e6" stroke-width="0.20" text-anchor="start" font-weight="normal" font-family="Liberation Serif">Nb(110)</text><rect x="395.00" y="8.80" width="63.30" height="83.20" fill="#fff"/><clipPath id="ib2"><rect x="395.00" y="8.80" width="63.30" height="83.20"/></clipPath><path d="M395.00 89.52 395.50 89.58 396.00 89.71 396.50 89.69 397.00 89.56 397.50 89.62 398.00 89.50 398.50 89.25 399.00 89.28 399.50 89.77 400.00 89.72 400.50 89.76 401.00 89.37 401.50 88.86 402.00 89.05 402.50 89.43 403.00 89.46 403.50 89.41 404.00 89.51 404.50 89.34 405.00 89.27 405.50 89.58 406.00 89.79 406.50 89.92 407.00 89.92 407.50 89.09 408.00 89.10 408.50 89.11 409.00 89.20 409.50 88.85 410.00 89.18 410.50 88.87 411.00 89.04 411.50 89.31 412.00 89.33 412.50 88.91 413.00 88.55 413.50 88.39 414.00 88.33 414.50 88.59 415.00 88.67 415.50 88.83 416.00 88.58 416.50 88.51 417.00 88.17 417.50 87.79 418.00 87.66 418.50 88.04 419.00 87.82 419.50 88.32 420.00 87.90 420.50 87.94 421.00 87.54 421.50 86.81 422.00 86.57 422.50 86.33 423.00 85.78 423.50 85.22 424.00 84.32 424.50 83.17 425.00 80.96 425.50 78.51 426.00 74.92 426.50 69.82 427.00 63.75 427.50 56.61 428.00 51.65 428.50 52.26 429.00 57.03 429.50 64.36 430.00 70.42 430.50 74.79 431.00 78.24 431.50 80.14 432.00 81.89 432.50 83.34 433.00 84.86 433.50 86.03 434.00 86.60 434.50 87.28 435.00 87.60 435.50 87.43 436.00 87.82 436.50 88.04 437.00 88.25 437.50 88.22 438.00 88.81 438.50 88.82 439.00 88.73 439.50 88.67 440.00 88.80 440.50 88.55 441.00 88.51 441.50 88.62 442.00 88.54 442.50 88.85 443.00 89.34 443.50 89.13 444.00 88.92 444.50 88.38 445.00 88.92 445.50 89.06 446.00 89.19 446.50 88.91 447.00 88.79 447.50 88.92 448.00 89.27 448.50 89.76 449.00 89.20 449.50 89.21 450.00 88.89 450.50 88.96 451.00 89.14 451.50 89.61 452.00 89.38 452.50 89.23 453.00 89.01 453.50 88.59 454.00 88.86 454.50 89.17 455.00 89.16 455.50 88.73 456.00 88.94 456.50 89.66 457.00 89.78 457.50 90.07 458.00 89.17" fill="none" stroke="#151515" stroke-width="0.95" clip-path="url(#ib2)"/><path d="M395.00 89.39 395.50 89.39 396.00 89.39 396.50 89.38 397.00 89.38 397.50 89.38 398.00 89.37 398.50 89.37 399.00 89.36 399.50 89.36 400.00 89.35 400.50 89.35 401.00 89.34 401.50 89.34 402.00 89.33 402.50 89.32 403.00 89.32 403.50 89.31 404.00 89.30 404.50 89.29 405.00 89.29 405.50 89.28 406.00 89.27 406.50 89.25 407.00 89.24 407.50 89.23 408.00 89.22 408.50 89.20 409.00 89.19 409.50 89.17 410.00 89.15 410.50 89.13 411.00 89.11 411.50 89.09 412.00 89.06 412.50 89.03 413.00 89.00 413.50 88.97 414.00 88.93 414.50 88.89 415.00 88.85 415.50 88.79 416.00 88.74 416.50 88.67 417.00 88.60 417.50 88.51 418.00 88.42 418.50 88.31 419.00 88.18 419.50 88.03 420.00 87.85 420.50 87.64 421.00 87.39 421.50 87.09 422.00 86.71 422.50 86.25 423.00 85.66 423.50 84.91 424.00 83.93 424.50 82.62 425.00 80.84 425.50 78.39 426.00 74.94 426.50 70.16 427.00 63.86 427.50 56.79 428.00 51.67 428.50 51.89 429.00 57.27 429.50 64.34 430.00 70.54 430.50 75.22 431.00 78.59 431.50 80.99 432.00 82.73 432.50 84.01 433.00 84.97 433.50 85.71 434.00 86.29 434.50 86.74 435.00 87.11 435.50 87.41 436.00 87.66 436.50 87.87 437.00 88.04 437.50 88.19 438.00 88.31 438.50 88.42 439.00 88.52 439.50 88.60 440.00 88.68 440.50 88.74 441.00 88.80 441.50 88.85 442.00 88.89 442.50 88.94 443.00 88.97 443.50 89.01 444.00 89.04 444.50 89.06 445.00 89.09 445.50 89.11 446.00 89.13 446.50 89.15 447.00 89.17 447.50 89.19 448.00 89.20 448.50 89.22 449.00 89.23 449.50 89.24 450.00 89.26 450.50 89.27 451.00 89.28 451.50 89.29 452.00 89.29 452.50 89.30 453.00 89.31 453.50 89.32 454.00 89.33 454.50 89.33 455.00 89.34 455.50 89.34 456.00 89.35 456.50 89.35 457.00 89.36 457.50 89.36 458.00 89.37" fill="none" stroke="#f25252" stroke-width="1.0" clip-path="url(#ib2)"/><rect x="395.00" y="8.80" width="63.30" height="83.20" fill="none" stroke="#c8c8c8" stroke-width="0.90"/><text x="395.00" y="98.70" font-size="7.50" fill="#333" stroke="#333" stroke-width="0.20" text-anchor="middle" font-weight="normal" font-family="Liberation Serif">30</text><text x="410.82" y="98.70" font-size="7.50" fill="#333" stroke="#333" stroke-width="0.20" text-anchor="middle" font-weight="normal" font-family="Liberation Serif">35</text><text x="426.65" y="98.70" font-size="7.50" fill="#333" stroke="#333" stroke-width="0.20" text-anchor="middle" font-weight="normal" font-family="Liberation Serif">40</text><text x="442.48" y="98.70" font-size="7.50" fill="#333" stroke="#333" stroke-width="0.20" text-anchor="middle" font-weight="normal" font-family="Liberation Serif">45</text><text x="458.30" y="98.70" font-size="7.50" fill="#333" stroke="#333" stroke-width="0.20" text-anchor="middle" font-weight="normal" font-family="Liberation Serif">50</text><text x="423.50" y="104.50" font-size="8.60" fill="#333" stroke="#333" stroke-width="0.20" text-anchor="middle" font-weight="normal" font-family="Liberation Serif">2θ (°)</text><text x="391.80" y="55.00" font-size="8.60" fill="#333" stroke="#333" stroke-width="0.20" text-anchor="middle" font-weight="normal" font-family="Liberation Serif" transform="rotate(-90 391.80 55.00)">Intensity (a.u.)</text><text x="401.80" y="26.40" font-size="7.00" fill="#333" stroke="#333" stroke-width="0.20" text-anchor="start" font-weight="normal" font-family="Liberation Serif">80 h</text><text x="416.20" y="48.20" font-size="7.00" fill="#f25252" stroke="#f25252" stroke-width="0.20" text-anchor="start" font-weight="normal" font-family="Liberation Serif">Mo(110)</text><line x1="433.80" y1="53.90" x2="438.80" y2="53.90" stroke="#f25252" stroke-width="1"/><text x="439.80" y="56.20" font-size="7.00" fill="#333" stroke="#333" stroke-width="0.20" text-anchor="start" font-weight="normal" font-family="Liberation Serif">Moss</text><circle cx="314.10" cy="33.90" r="1.85" fill="#000"/><circle cx="363.40" cy="99.10" r="1.85" fill="#000"/><circle cx="403.70" cy="96.00" r="1.85" fill="#000"/><circle cx="441.40" cy="105.80" r="1.85" fill="#000"/><rect x="306.95" y="93.65" width="3.30" height="3.30" fill="#000"/><rect x="352.95" y="105.75" width="3.30" height="3.30" fill="#000"/><rect x="390.65" y="105.45" width="3.30" height="3.30" fill="#000"/><path d="M281.70 106.34L283.79 110.12L279.61 110.12Z" fill="#000"/><clipPath id="cc"><rect x="27.40" y="196.80" width="202.30" height="150.50"/></clipPath><path d="M27.40 299.37 28.40 299.51 29.40 299.62 30.40 299.50 31.40 299.58 32.40 299.58 33.40 299.56 34.40 299.61 35.40 299.68 36.40 299.67 37.40 299.84 38.40 299.89 39.40 299.87 40.40 299.65 41.40 299.56 42.40 299.31 43.40 299.23 44.40 299.24 45.40 299.41 46.40 299.55 47.40 299.60 48.40 299.36 49.40 298.86 49.56 298.85 50.06 298.58 50.40 298.84 50.56 298.93 51.40 299.41 52.40 299.79 53.40 299.66 54.40 299.63 55.40 299.47 56.40 299.21 57.40 299.34 58.40 299.04 59.40 299.28 60.40 299.30 61.40 299.21 62.40 299.16 63.40 299.24 64.40 299.11 65.40 299.41 66.40 299.26 67.40 299.46 68.40 299.24 69.40 299.30 70.40 299.22 71.40 299.34 72.40 299.17 73.40 299.03 74.40 298.86 75.40 297.95 76.40 292.90 76.80 287.21 77.30 281.24 77.40 281.49 77.80 286.90 78.40 294.21 79.40 297.21 80.40 296.54 81.40 291.89 82.20 266.11 82.40 251.39 82.70 237.56 83.20 266.17 83.40 277.61 84.40 294.81 85.40 297.74 86.40 298.67 87.40 298.62 88.40 299.07 89.40 299.34 90.40 299.24 91.40 299.17 92.40 299.38 93.40 299.27 94.40 299.24 95.40 299.41 96.40 299.46 97.40 299.43 98.40 299.50 99.40 299.66 100.40 299.54 101.40 299.42 102.40 299.44 103.40 299.47 104.40 299.68 105.40 299.72 106.40 299.94 107.40 299.83 108.40 299.70 109.40 299.65 110.40 299.83 111.40 299.72 112.40 300.00 113.40 299.75 114.40 299.67 115.40 299.71 116.40 299.71 117.40 300.00 118.40 300.00 119.40 300.10 120.40 299.97 121.40 299.72 122.40 297.97 122.66 297.30 123.16 296.55 123.40 296.75 123.66 297.10 124.40 298.86 125.40 299.40 126.40 299.42 127.40 299.37 128.40 298.97 129.40 298.24 130.40 295.83 131.02 293.03 131.40 291.97 131.52 291.80 132.02 293.24 132.40 295.01 133.40 298.08 134.40 298.95 135.40 299.55 136.40 299.57 137.40 299.76 138.40 299.99 139.40 300.01 140.40 299.76 141.40 299.86 142.40 299.89 143.40 299.86 144.40 299.67 145.40 299.85 146.40 299.83 147.40 299.99 148.40 299.96 149.40 299.96 150.40 299.86 151.40 300.13 152.40 299.89 153.40 299.78 154.40 299.79 155.40 299.70 156.40 299.52 157.40 299.30 158.40 299.09 159.40 298.70 160.40 296.94 160.69 296.37 161.19 295.52 161.40 295.83 161.69 296.57 162.40 298.37 163.40 299.08 164.40 299.13 165.40 299.15 166.40 299.32 167.40 299.07 168.40 299.06 169.40 298.43 170.40 296.07 171.40 290.22 171.48 289.47 171.98 287.76 172.40 288.98 172.48 289.30 173.40 295.02 174.40 298.17 175.40 298.86 176.40 299.17 177.40 299.39 178.40 299.44 179.40 299.53 180.40 299.57 181.40 299.63 182.40 299.47 183.40 299.35 184.40 299.73 185.40 299.59 186.40 299.71 187.40 300.00 188.40 299.82 189.40 299.80 190.40 299.86 191.40 299.89 192.40 299.98 193.40 299.97 194.40 299.95 195.40 299.37 195.48 299.24 195.98 298.87 196.40 298.87 196.48 299.00 197.40 299.47 198.40 299.67 199.40 299.89 200.40 299.88 201.40 299.91 202.40 300.08 203.40 300.01 204.40 299.94 205.40 299.85 206.40 299.72 207.40 299.33 208.40 298.35 209.24 297.08 209.40 296.82 209.74 296.48 210.24 296.80 210.40 297.03 211.40 298.70 212.40 299.47 213.40 299.88 214.40 300.02 215.40 299.97 216.40 299.80 217.40 299.95 218.40 299.91 219.40 300.00 220.40 299.94 221.40 300.03 222.40 300.07 223.40 300.21 224.40 300.04 225.40 300.33 226.40 300.27 227.40 300.43 228.40 300.31 229.40 300.22" fill="none" stroke="#ff5cff" stroke-width="1.15" stroke-linejoin="round" clip-path="url(#cc)"/><path d="M27.40 309.97 28.40 309.75 29.40 309.95 30.40 309.88 31.40 309.86 32.40 310.02 33.40 310.05 34.40 309.89 35.40 310.02 36.40 310.32 37.40 310.15 38.40 310.16 39.40 310.14 40.40 310.19 41.40 310.22 42.40 310.25 43.40 310.04 44.40 310.28 45.40 310.12 46.40 309.97 47.40 310.10 48.40 310.23 49.40 310.23 50.40 310.19 51.40 310.25 52.40 310.18 53.40 310.20 54.40 310.42 55.40 310.34 56.40 310.25 57.40 310.14 58.40 309.92 59.40 309.91 60.40 309.90 61.40 309.99 62.40 310.01 63.40 310.07 64.40 310.14 65.40 309.89 66.40 309.84 67.40 310.06 68.40 309.70 69.40 309.72 70.40 309.77 71.40 309.69 72.40 309.50 73.40 309.34 74.40 308.83 75.40 307.60 76.40 304.16 76.80 302.53 77.30 301.52 77.40 301.66 77.80 302.53 78.40 304.67 79.40 306.97 80.40 306.19 81.40 300.25 82.20 282.98 82.40 277.11 82.70 273.02 83.20 282.85 83.40 288.63 84.40 304.04 85.40 307.26 86.40 308.57 87.40 309.01 88.40 309.32 89.40 309.48 90.40 309.60 91.40 309.67 92.40 309.68 93.40 309.70 94.40 309.64 95.40 309.72 96.40 309.69 97.40 309.91 98.40 309.91 99.40 309.97 100.40 309.99 101.40 309.90 102.40 309.89 103.40 310.04 104.40 310.02 105.40 310.16 106.40 310.38 107.40 310.41 108.40 310.12 109.40 310.06 110.40 310.17 111.40 309.87 112.40 309.98 113.40 310.06 114.40 310.13 115.40 309.84 116.40 309.97 117.40 309.95 118.40 310.06 119.40 309.96 120.40 309.77 121.40 309.99 122.40 309.89 123.40 309.67 124.40 309.56 125.40 309.66 126.40 309.58 127.40 309.40 128.40 309.32 129.40 308.58 130.40 307.42 131.02 306.45 131.40 306.42 131.52 306.27 132.02 306.73 132.40 307.13 133.40 308.59 134.40 309.37 135.40 309.53 136.40 309.68 137.40 309.67 138.40 309.56 139.40 309.48 140.40 309.68 141.40 309.65 142.40 309.66 143.40 309.79 144.40 309.83 145.40 309.83 146.40 310.08 147.40 309.86 148.40 309.75 149.40 310.01 150.40 310.13 151.40 310.18 152.40 310.22 153.40 310.50 154.40 310.42 155.40 310.31 156.40 310.17 157.40 310.39 158.40 310.22 159.40 310.04 160.40 310.15 161.40 310.02 162.40 309.99 163.40 309.83 164.40 309.63 165.40 309.44 166.40 309.50 167.40 309.44 168.40 309.42 169.40 308.70 170.40 307.37 171.40 305.06 171.48 304.89 171.98 304.40 172.40 304.74 172.48 304.77 173.40 306.49 174.40 308.16 175.40 308.93 176.40 309.28 177.40 309.69 178.40 309.70 179.40 309.95 180.40 310.18 181.40 310.30 182.40 310.20 183.40 310.33 184.40 310.10 185.40 310.01 186.40 310.06 187.40 310.00 188.40 309.89 189.40 309.76 190.40 310.11 191.40 310.17 192.40 310.16 193.40 310.34 194.40 310.34 195.40 310.27 196.40 310.25 197.40 310.09 198.40 310.17 199.40 310.09 200.40 310.17 201.40 310.38 202.40 310.24 203.40 310.21 204.40 309.99 205.40 309.78 206.40 309.77 207.40 309.34 208.40 308.91 209.24 308.31 209.40 308.15 209.74 308.21 210.24 308.34 210.40 308.58 211.40 309.06 212.40 309.82 213.40 310.06 214.40 310.26 215.40 310.25 216.40 310.32 217.40 310.24 218.40 310.05 219.40 310.07 220.40 310.06 221.40 309.93 222.40 310.07 223.40 310.21 224.40 310.04 225.40 310.08 226.40 309.81 227.40 309.96 228.40 309.83 229.40 310.02" fill="none" stroke="#5555e6" stroke-width="1.15" stroke-linejoin="round" clip-path="url(#cc)"/><path d="M27.40 320.87 28.40 321.02 29.40 321.04 30.40 321.16 31.40 320.94 32.40 320.81 33.40 320.74 34.40 320.70 35.40 320.65 36.40 320.78 37.40 320.95 38.40 320.64 39.40 320.85 40.40 320.65 41.40 320.82 42.40 320.82 43.40 320.97 44.40 321.03 45.40 321.06 46.40 321.14 47.40 321.23 48.40 321.11 49.40 321.45 50.40 321.30 51.40 321.27 52.40 321.45 53.40 321.28 54.40 321.09 55.40 321.01 56.40 320.80 57.40 320.88 58.40 320.70 59.40 320.55 60.40 320.95 61.40 321.00 62.40 320.91 63.40 320.92 64.40 321.07 65.40 321.02 66.40 320.88 67.40 320.76 68.40 321.03 69.40 321.01 70.40 321.10 71.40 320.98 72.40 320.92 73.40 320.79 74.40 320.50 75.40 320.37 76.40 320.76 77.40 320.39 78.40 319.98 79.40 319.21 80.40 317.08 81.40 310.17 82.20 298.52 82.40 295.77 82.70 294.12 83.20 298.56 83.40 301.85 84.40 313.91 85.40 317.98 86.40 319.35 87.40 320.06 88.40 320.39 89.40 320.59 90.40 320.84 91.40 320.98 92.40 320.98 93.40 321.17 94.40 321.18 95.40 320.96 96.40 320.95 97.40 320.95 98.40 320.92 99.40 321.00 100.40 321.17 101.40 320.98 102.40 321.07 103.40 321.08 104.40 321.06 105.40 321.08 106.40 320.97 107.40 320.88 108.40 320.88 109.40 321.15 110.40 321.07 111.40 321.22 112.40 321.19 113.40 321.12 114.40 320.96 115.40 320.84 116.40 320.80 117.40 320.91 118.40 320.93 119.40 320.98 120.40 320.93 121.40 320.89 122.40 321.03 123.40 320.86 124.40 320.96 125.40 321.00 126.40 321.11 127.40 320.88 128.40 320.68 129.40 320.07 130.40 319.25 131.02 318.73 131.40 318.40 131.52 318.29 132.02 318.74 132.40 318.80 133.40 319.48 134.40 320.27 135.40 320.47 136.40 320.52 137.40 320.55 138.40 320.53 139.40 320.66 140.40 320.70 141.40 320.80 142.40 320.94 143.40 320.98 144.40 320.97 145.40 321.08 146.40 321.08 147.40 321.00 148.40 321.09 149.40 320.96 150.40 321.07 151.40 321.17 152.40 320.94 153.40 321.17 154.40 321.09 155.40 320.98 156.40 321.11 157.40 321.24 158.40 321.07 159.40 321.00 160.40 320.77 161.40 320.70 162.40 320.61 163.40 320.63 164.40 320.61 165.40 320.61 166.40 320.59 167.40 320.37 168.40 319.94 169.40 319.30 170.40 318.10 171.40 317.01 171.48 317.04 171.98 316.85 172.40 317.03 172.48 317.14 173.40 318.30 174.40 319.27 175.40 320.14 176.40 320.38 177.40 320.57 178.40 320.80 179.40 320.71 180.40 320.89 181.40 320.97 182.40 321.19 183.40 321.18 184.40 321.31 185.40 321.35 186.40 321.39 187.40 321.43 188.40 321.20 189.40 321.24 190.40 321.20 191.40 321.35 192.40 321.18 193.40 321.29 194.40 321.16 195.40 321.18 196.40 320.98 197.40 320.81 198.40 320.74 199.40 320.70 200.40 320.62 201.40 320.65 202.40 320.77 203.40 321.03 204.40 321.11 205.40 321.37 206.40 321.09 207.40 320.69 208.40 320.28 209.24 319.91 209.40 319.70 209.74 319.71 210.24 319.84 210.40 320.16 211.40 320.31 212.40 320.73 213.40 320.83 214.40 320.88 215.40 320.81 216.40 320.82 217.40 321.00 218.40 320.82 219.40 321.11 220.40 321.23 221.40 321.41 222.40 321.09 223.40 321.04 224.40 321.17 225.40 321.10 226.40 320.99 227.40 321.13 228.40 321.19 229.40 321.23" fill="none" stroke="#f25252" stroke-width="1.15" stroke-linejoin="round" clip-path="url(#cc)"/><path d="M27.40 331.18 28.40 331.07 29.40 331.16 30.40 331.13 31.40 331.19 32.40 331.17 33.40 331.39 34.40 331.27 35.40 330.90 36.40 331.05 37.40 331.02 38.40 331.02 39.40 331.10 40.40 331.20 41.40 331.33 42.40 331.23 43.40 331.42 44.40 331.24 45.40 331.00 46.40 330.81 47.40 330.79 48.40 330.82 49.40 330.86 50.40 331.13 51.40 331.17 52.40 331.18 53.40 331.27 54.40 331.25 55.40 331.20 56.40 331.23 57.40 331.05 58.40 331.01 59.40 330.79 60.40 330.93 61.40 330.95 62.40 331.03 63.40 331.03 64.40 331.11 65.40 331.06 66.40 331.03 67.40 331.11 68.40 331.07 69.40 331.12 70.40 331.17 71.40 331.14 72.40 330.79 73.40 330.93 74.40 330.55 75.40 330.58 76.40 330.38 77.40 330.34 78.40 329.99 79.40 329.22 80.40 327.13 81.40 322.58 82.20 317.45 82.40 316.63 82.70 315.99 83.20 317.53 83.40 318.52 84.40 324.70 85.40 328.02 86.40 329.30 87.40 329.83 88.40 330.25 89.40 330.30 90.40 330.16 91.40 330.23 92.40 330.26 93.40 330.27 94.40 330.41 95.40 330.71 96.40 330.76 97.40 330.78 98.40 330.73 99.40 330.89 100.40 330.87 101.40 330.88 102.40 331.19 103.40 330.83 104.40 330.73 105.40 330.60 106.40 330.65 107.40 330.32 108.40 330.85 109.40 330.92 110.40 330.85 111.40 330.82 112.40 331.06 113.40 330.86 114.40 330.90 115.40 330.98 116.40 330.73 117.40 330.70 118.40 330.73 119.40 330.59 120.40 330.71 121.40 330.70 122.40 331.08 123.40 330.91 124.40 331.03 125.40 330.90 126.40 331.02 127.40 330.64 128.40 330.27 129.40 330.00 130.40 329.72 131.02 329.34 131.40 329.33 131.52 329.43 132.02 329.54 132.40 329.33 133.40 329.93 134.40 330.28 135.40 330.65 136.40 330.69 137.40 330.96 138.40 330.84 139.40 330.84 140.40 330.82 141.40 331.10 142.40 331.03 143.40 331.27 144.40 331.12 145.40 331.23 146.40 331.05 147.40 331.17 148.40 331.10 149.40 331.22 150.40 331.12 151.40 331.08 152.40 330.98 153.40 331.00 154.40 330.69 155.40 330.77 156.40 330.68 157.40 330.55 158.40 330.69 159.40 330.70 160.40 330.98 161.40 330.71 162.40 330.88 163.40 330.77 164.40 330.67 165.40 330.71 166.40 330.49 167.40 330.43 168.40 330.33 169.40 329.98 170.40 329.45 171.40 328.70 171.48 328.75 171.98 328.48 172.40 328.50 172.48 328.65 173.40 329.24 174.40 329.74 175.40 330.21 176.40 330.58 177.40 330.52 178.40 330.51 179.40 330.47 180.40 330.59 181.40 330.39 182.40 330.76 183.40 330.71 184.40 330.72 185.40 330.61 186.40 330.76 187.40 330.99 188.40 331.03 189.40 331.09 190.40 331.01 191.40 331.05 192.40 331.00 193.40 330.82 194.40 330.66 195.40 330.75 196.40 330.92 197.40 330.62 198.40 330.88 199.40 331.05 200.40 330.92 201.40 330.73 202.40 330.57 203.40 330.61 204.40 330.59 205.40 330.42 206.40 330.77 207.40 330.95 208.40 330.87 209.40 330.79 210.40 330.84 211.40 330.66 212.40 330.83 213.40 330.80 214.40 331.00 215.40 331.06 216.40 331.01 217.40 330.92 218.40 330.99 219.40 330.98 220.40 331.11 221.40 331.05 222.40 330.51 223.40 330.78 224.40 330.60 225.40 330.59 226.40 330.64 227.40 330.76 228.40 330.94 229.40 330.89" fill="none" stroke="#3a3a3a" stroke-width="1.15" stroke-linejoin="round" clip-path="url(#cc)"/><rect x="78.40" y="204.40" width="7.90" height="133.90" fill="#fff" fill-opacity="0.45" stroke="#8a8a8a" stroke-width="0.9"/><line x1="27.40" y1="347.30" x2="27.40" y2="345.10" stroke="#5a5a5a" stroke-width="0.9"/><text x="27.40" y="357.20" font-size="7.80" fill="#333" stroke="#333" stroke-width="0.20" text-anchor="middle" font-weight="normal" font-family="Liberation Serif">20</text><line x1="40.89" y1="347.30" x2="40.89" y2="345.80" stroke="#5a5a5a" stroke-width="0.9"/><line x1="54.37" y1="347.30" x2="54.37" y2="345.10" stroke="#5a5a5a" stroke-width="0.9"/><text x="54.37" y="357.20" font-size="7.80" fill="#333" stroke="#333" stroke-width="0.20" text-anchor="middle" font-weight="normal" font-family="Liberation Serif">30</text><line x1="67.86" y1="347.30" x2="67.86" y2="345.80" stroke="#5a5a5a" stroke-width="0.9"/><line x1="81.35" y1="347.30" x2="81.35" y2="345.10" stroke="#5a5a5a" stroke-width="0.9"/><text x="81.35" y="357.20" font-size="7.80" fill="#333" stroke="#333" stroke-width="0.20" text-anchor="middle" font-weight="normal" font-family="Liberation Serif">40</text><line x1="94.83" y1="347.30" x2="94.83" y2="345.80" stroke="#5a5a5a" stroke-width="0.9"/><line x1="108.32" y1="347.30" x2="108.32" y2="345.10" stroke="#5a5a5a" stroke-width="0.9"/><text x="108.32" y="357.20" font-size="7.80" fill="#333" stroke="#333" stroke-width="0.20" text-anchor="middle" font-weight="normal" font-family="Liberation Serif">50</text><line x1="121.81" y1="347.30" x2="121.81" y2="345.80" stroke="#5a5a5a" stroke-width="0.9"/><line x1="135.29" y1="347.30" x2="135.29" y2="345.10" stroke="#5a5a5a" stroke-width="0.9"/><text x="135.29" y="357.20" font-size="7.80" fill="#333" stroke="#333" stroke-width="0.20" text-anchor="middle" font-weight="normal" font-family="Liberation Serif">60</text><line x1="148.78" y1="347.30" x2="148.78" y2="345.80" stroke="#5a5a5a" stroke-width="0.9"/><line x1="162.27" y1="347.30" x2="162.27" y2="345.10" stroke="#5a5a5a" stroke-width="0.9"/><text x="162.27" y="357.20" font-size="7.80" fill="#333" stroke="#333" stroke-width="0.20" text-anchor="middle" font-weight="normal" font-family="Liberation Serif">70</text><line x1="175.75" y1="347.30" x2="175.75" y2="345.80" stroke="#5a5a5a" stroke-width="0.9"/><line x1="189.24" y1="347.30" x2="189.24" y2="345.10" stroke="#5a5a5a" stroke-width="0.9"/><text x="189.24" y="357.20" font-size="7.80" fill="#333" stroke="#333" stroke-width="0.20" text-anchor="middle" font-weight="normal" font-family="Liberation Serif">80</text><line x1="202.73" y1="347.30" x2="202.73" y2="345.80" stroke="#5a5a5a" stroke-width="0.9"/><line x1="216.21" y1="347.30" x2="216.21" y2="345.10" stroke="#5a5a5a" stroke-width="0.9"/><text x="216.21" y="357.20" font-size="7.80" fill="#333" stroke="#333" stroke-width="0.20" text-anchor="middle" font-weight="normal" font-family="Liberation Serif">90</text><line x1="229.70" y1="347.30" x2="229.70" y2="345.80" stroke="#5a5a5a" stroke-width="0.9"/><rect x="27.40" y="196.80" width="202.30" height="150.50" fill="none" stroke="#5a5a5a" stroke-width="1.20"/><text x="8.60" y="203.40" font-size="12.50" fill="#222" stroke="#222" stroke-width="0.20" text-anchor="start" font-weight="normal" font-family="Liberation Serif">(c)</text><text x="123.30" y="371.00" font-size="9.70" fill="#333" stroke="#333" stroke-width="0.20" text-anchor="middle" font-weight="normal" font-family="Liberation Serif">2θ (°)</text><text x="19.50" y="276.00" font-size="9.40" fill="#333" stroke="#333" stroke-width="0.20" text-anchor="middle" font-weight="normal" font-family="Liberation Serif" transform="rotate(-90 19.50 276.00)">Intensity (a.u.)</text><circle cx="42.90" cy="229.50" r="1.70" fill="#000"/><text x="47.50" y="232.10" font-size="7.60" fill="#333" stroke="#333" stroke-width="0.20" text-anchor="start" font-weight="normal" font-family="Liberation Serif">Mo</text><rect x="41.40" y="237.80" width="3.00" height="3.00" fill="#000"/><text x="47.50" y="241.90" font-size="7.60" fill="#333" stroke="#333" stroke-width="0.20" text-anchor="start" font-weight="normal" font-family="Liberation Serif">Nb</text><path d="M42.90 246.24L44.99 250.02L40.81 250.02Z" fill="#000"/><text x="48.80" y="251.00" font-size="7.60" fill="#333" stroke="#333" stroke-width="0.20" text-anchor="start" font-weight="normal" font-family="Liberation Serif">Si</text><text x="31.50" y="297.70" font-size="7.40" fill="#333" stroke="#333" stroke-width="0.20" text-anchor="start" font-weight="normal" font-family="Liberation Serif">10 h</text><text x="31.50" y="307.90" font-size="7.40" fill="#333" stroke="#333" stroke-width="0.20" text-anchor="start" font-weight="normal" font-family="Liberation Serif">30 h</text><text x="31.50" y="318.80" font-size="7.40" fill="#333" stroke="#333" stroke-width="0.20" text-anchor="start" font-weight="normal" font-family="Liberation Serif">50 h</text><text x="31.50" y="330.30" font-size="7.40" fill="#333" stroke="#333" stroke-width="0.20" text-anchor="start" font-weight="normal" font-family="Liberation Serif">80 h</text><rect x="93.00" y="196.90" width="61.40" height="84.40" fill="#fff"/><clipPath id="ic1"><rect x="93.00" y="196.90" width="61.40" height="84.40"/></clipPath><path d="M93.00 277.43 93.50 277.23 94.00 277.24 94.50 277.44 95.00 276.91 95.50 276.62 96.00 276.70 96.50 277.26 97.00 277.14 97.50 276.63 98.00 276.54 98.50 276.52 99.00 276.88 99.50 276.29 100.00 276.17 100.50 276.20 101.00 276.02 101.50 276.67 102.00 277.03 102.50 276.76 103.00 276.55 103.50 276.29 104.00 276.04 104.50 275.50 105.00 275.48 105.50 275.32 106.00 275.14 106.50 274.59 107.00 274.53 107.50 274.24 108.00 274.20 108.50 273.94 109.00 273.92 109.50 273.18 110.00 272.56 110.50 272.09 111.00 271.95 111.50 271.94 112.00 272.00 112.50 272.04 113.00 271.19 113.50 270.55 114.00 269.87 114.50 269.57 115.00 269.17 115.50 269.49 116.00 269.09 116.50 268.00 117.00 267.96 117.50 267.80 118.00 267.72 118.50 267.33 119.00 267.07 119.50 266.26 120.00 265.87 120.50 265.59 121.00 264.88 121.50 263.62 122.00 262.49 122.50 261.00 123.00 258.42 123.50 253.61 124.00 245.83 124.50 232.63 125.00 218.74 125.50 219.00 126.00 233.54 126.50 246.92 127.00 256.33 127.50 261.06 128.00 263.96 128.50 265.55 129.00 267.69 129.50 268.65 130.00 269.76 130.50 270.22 131.00 270.77 131.50 271.60 132.00 272.40 132.50 273.07 133.00 273.12 133.50 273.48 134.00 274.05 134.50 274.42 135.00 274.68 135.50 274.74 136.00 274.98 136.50 275.21 137.00 275.00 137.50 275.24 138.00 275.87 138.50 276.15 139.00 276.34 139.50 276.17 140.00 276.18 140.50 276.03 141.00 276.00 141.50 275.89 142.00 276.20 142.50 276.85 143.00 276.62 143.50 276.86 144.00 276.46 144.50 276.86 145.00 277.21 145.50 277.27 146.00 277.07 146.50 277.08 147.00 277.16 147.50 277.22 148.00 277.46 148.50 277.83 149.00 277.53 149.50 277.80 150.00 277.46 150.50 277.02 151.00 277.15 151.50 277.05 152.00 277.50 152.50 277.43 153.00 277.19 153.50 276.69 154.00 276.92" fill="none" stroke="#151515" stroke-width="0.95" clip-path="url(#ic1)"/><path d="M93.00 278.25 93.50 278.24 94.00 278.23 94.50 278.21 95.00 278.20 95.50 278.18 96.00 278.15 96.50 278.13 97.00 278.10 97.50 278.06 98.00 278.02 98.50 277.98 99.00 277.93 99.50 277.87 100.00 277.80 100.50 277.73 101.00 277.65 101.50 277.56 102.00 277.46 102.50 277.34 103.00 277.22 103.50 277.09 104.00 276.94 104.50 276.78 105.00 276.61 105.50 276.42 106.00 276.23 106.50 276.01 107.00 275.79 107.50 275.55 108.00 275.30 108.50 275.04 109.00 274.77 109.50 274.49 110.00 274.20 110.50 273.90 111.00 273.60 111.50 273.29 112.00 272.98 112.50 272.67 113.00 272.36 113.50 272.06 114.00 271.76 114.50 271.47 115.00 271.20 115.50 270.93 116.00 270.69 116.50 270.46 117.00 270.25 117.50 270.06 118.00 269.90 118.50 269.77 119.00 269.66 119.50 269.58 120.00 269.52 120.50 269.50 121.00 269.51 121.50 269.54 122.00 269.61 122.50 269.71 123.00 269.83 123.50 269.98 124.00 270.15 124.50 270.35 125.00 270.56 125.50 270.80 126.00 271.06 126.50 271.33 127.00 271.61 127.50 271.90 128.00 272.20 128.50 272.51 129.00 272.82 129.50 273.13 130.00 273.44 130.50 273.74 131.00 274.04 131.50 274.34 132.00 274.62 132.50 274.90 133.00 275.17 133.50 275.42 134.00 275.67 134.50 275.90 135.00 276.12 135.50 276.32 136.00 276.51 136.50 276.69 137.00 276.86 137.50 277.01 138.00 277.15 138.50 277.28 139.00 277.40 139.50 277.51 140.00 277.60 140.50 277.69 141.00 277.77 141.50 277.84 142.00 277.90 142.50 277.95 143.00 278.00 143.50 278.04 144.00 278.08 144.50 278.11 145.00 278.14 145.50 278.16 146.00 278.19 146.50 278.20 147.00 278.22 147.50 278.23 148.00 278.24 148.50 278.25 149.00 278.26 149.50 278.27 150.00 278.27 150.50 278.28 151.00 278.28 151.50 278.29 152.00 278.29 152.50 278.29 153.00 278.29 153.50 278.29 154.00 278.30" fill="none" stroke="#5555e6" stroke-width="0.9" clip-path="url(#ic1)"/><path d="M93.00 278.24 93.50 278.24 94.00 278.23 94.50 278.23 95.00 278.23 95.50 278.23 96.00 278.22 96.50 278.22 97.00 278.22 97.50 278.22 98.00 278.21 98.50 278.21 99.00 278.21 99.50 278.20 100.00 278.20 100.50 278.19 101.00 278.19 101.50 278.19 102.00 278.18 102.50 278.18 103.00 278.17 103.50 278.16 104.00 278.16 104.50 278.15 105.00 278.14 105.50 278.13 106.00 278.13 106.50 278.12 107.00 278.11 107.50 278.09 108.00 278.08 108.50 278.07 109.00 278.06 109.50 278.04 110.00 278.02 110.50 278.00 111.00 277.98 111.50 277.96 112.00 277.93 112.50 277.90 113.00 277.87 113.50 277.83 114.00 277.79 114.50 277.74 115.00 277.69 115.50 277.63 116.00 277.55 116.50 277.46 117.00 277.36 117.50 277.24 118.00 277.09 118.50 276.91 119.00 276.69 119.50 276.40 120.00 276.04 120.50 275.56 121.00 274.92 121.50 274.03 122.00 272.76 122.50 270.86 123.00 267.89 123.50 263.00 124.00 254.73 124.50 241.55 125.00 227.59 125.50 228.18 126.00 242.47 126.50 255.36 127.00 263.37 127.50 268.11 128.00 271.00 128.50 272.85 129.00 274.10 129.50 274.97 130.00 275.59 130.50 276.06 131.00 276.42 131.50 276.70 132.00 276.92 132.50 277.10 133.00 277.25 133.50 277.37 134.00 277.47 134.50 277.56 135.00 277.63 135.50 277.69 136.00 277.75 136.50 277.79 137.00 277.84 137.50 277.87 138.00 277.91 138.50 277.93 139.00 277.96 139.50 277.98 140.00 278.00 140.50 278.02 141.00 278.04 141.50 278.06 142.00 278.07 142.50 278.08 143.00 278.10 143.50 278.11 144.00 278.12 144.50 278.13 145.00 278.13 145.50 278.14 146.00 278.15 146.50 278.16 147.00 278.16 147.50 278.17 148.00 278.18 148.50 278.18 149.00 278.19 149.50 278.19 150.00 278.19 150.50 278.20 151.00 278.20 151.50 278.21 152.00 278.21 152.50 278.21 153.00 278.22 153.50 278.22 154.00 278.22" fill="none" stroke="#f25252" stroke-width="1.0" clip-path="url(#ic1)"/><rect x="93.00" y="196.90" width="61.40" height="84.40" fill="none" stroke="#c8c8c8" stroke-width="0.90"/><text x="93.00" y="286.70" font-size="7.50" fill="#333" stroke="#333" stroke-width="0.20" text-anchor="middle" font-weight="normal" font-family="Liberation Serif">30</text><text x="108.35" y="286.70" font-size="7.50" fill="#333" stroke="#333" stroke-width="0.20" text-anchor="middle" font-weight="normal" font-family="Liberation Serif">35</text><text x="123.70" y="286.70" font-size="7.50" fill="#333" stroke="#333" stroke-width="0.20" text-anchor="middle" font-weight="normal" font-family="Liberation Serif">40</text><text x="139.05" y="286.70" font-size="7.50" fill="#333" stroke="#333" stroke-width="0.20" text-anchor="middle" font-weight="normal" font-family="Liberation Serif">45</text><text x="154.40" y="286.70" font-size="7.50" fill="#333" stroke="#333" stroke-width="0.20" text-anchor="middle" font-weight="normal" font-family="Liberation Serif">50</text><text x="119.30" y="293.20" font-size="8.60" fill="#333" stroke="#333" stroke-width="0.20" text-anchor="middle" font-weight="normal" font-family="Liberation Serif">2θ (°)</text><text x="90.80" y="240.00" font-size="8.60" fill="#333" stroke="#333" stroke-width="0.20" text-anchor="middle" font-weight="normal" font-family="Liberation Serif" transform="rotate(-90 90.80 240.00)">Intensity (a.u.)</text><text x="99.30" y="212.80" font-size="7.00" fill="#333" stroke="#333" stroke-width="0.20" text-anchor="start" font-weight="normal" font-family="Liberation Serif">50 h</text><text x="116.20" y="214.80" font-size="7.00" fill="#f25252" stroke="#f25252" stroke-width="0.20" text-anchor="start" font-weight="normal" font-family="Liberation Serif">Mo(110)</text><line x1="132.80" y1="221.80" x2="137.80" y2="221.80" stroke="#f25252" stroke-width="1"/><text x="138.80" y="224.10" font-size="7.00" fill="#333" stroke="#333" stroke-width="0.20" text-anchor="start" font-weight="normal" font-family="Liberation Serif">Moss</text><line x1="132.80" y1="227.10" x2="137.80" y2="227.10" stroke="#5555e6" stroke-width="1"/><text x="138.80" y="229.40" font-size="7.00" fill="#333" stroke="#333" stroke-width="0.20" text-anchor="start" font-weight="normal" font-family="Liberation Serif">Nbss</text><text x="108.00" y="267.20" font-size="7.00" fill="#5555e6" stroke="#5555e6" stroke-width="0.20" text-anchor="start" font-weight="normal" font-family="Liberation Serif">Nb(110)</text><rect x="163.00" y="196.90" width="62.00" height="83.90" fill="#fff"/><clipPath id="ic2"><rect x="163.00" y="196.90" width="62.00" height="83.90"/></clipPath><path d="M163.00 277.48 163.50 277.46 164.00 277.53 164.50 277.52 165.00 277.74 165.50 277.64 166.00 277.38 166.50 277.23 167.00 277.39 167.50 276.85 168.00 276.92 168.50 276.82 169.00 277.43 169.50 277.57 170.00 278.14 170.50 278.05 171.00 277.70 171.50 277.66 172.00 277.41 172.50 277.59 173.00 277.09 173.50 277.05 174.00 277.17 174.50 277.40 175.00 277.69 175.50 277.87 176.00 278.01 176.50 277.94 177.00 277.38 177.50 276.71 178.00 276.90 178.50 276.87 179.00 277.29 179.50 276.91 180.00 277.36 180.50 277.36 181.00 277.29 181.50 276.96 182.00 276.65 182.50 277.12 183.00 276.77 183.50 276.88 184.00 276.34 184.50 276.42 185.00 276.60 185.50 276.89 186.00 276.38 186.50 276.00 187.00 275.86 187.50 275.29 188.00 274.83 188.50 274.69 189.00 274.95 189.50 274.62 190.00 274.12 190.50 273.41 191.00 271.95 191.50 270.38 192.00 269.10 192.50 267.19 193.00 264.45 193.50 260.29 194.00 255.10 194.50 248.18 195.00 242.30 195.50 238.90 196.00 241.23 196.50 247.39 197.00 253.78 197.50 259.08 198.00 262.95 198.50 266.62 199.00 269.05 199.50 270.68 200.00 272.06 200.50 272.92 201.00 274.03 201.50 274.44 202.00 275.24 202.50 275.48 203.00 275.46 203.50 276.01 204.00 276.00 204.50 275.86 205.00 276.11 205.50 276.11 206.00 276.16 206.50 276.38 207.00 276.74 207.50 276.78 208.00 276.84 208.50 276.46 209.00 276.64 209.50 276.74 210.00 277.32 210.50 277.26 211.00 277.19 211.50 276.90 212.00 276.72 212.50 276.82 213.00 276.92 213.50 277.06 214.00 276.85 214.50 277.68 215.00 277.18 215.50 277.39 216.00 276.84 216.50 277.20 217.00 277.11 217.50 277.24 218.00 277.09 218.50 277.17 219.00 277.29 219.50 277.70 220.00 277.82 220.50 277.57 221.00 277.45 221.50 277.51 222.00 277.70 222.50 277.45 223.00 277.37 223.50 276.47 224.00 276.84 224.50 277.17 225.00 278.03" fill="none" stroke="#151515" stroke-width="0.95" clip-path="url(#ic2)"/><path d="M163.00 277.48 163.50 277.47 164.00 277.47 164.50 277.46 165.00 277.46 165.50 277.45 166.00 277.45 166.50 277.44 167.00 277.44 167.50 277.43 168.00 277.43 168.50 277.42 169.00 277.41 169.50 277.41 170.00 277.40 170.50 277.39 171.00 277.38 171.50 277.37 172.00 277.36 172.50 277.35 173.00 277.34 173.50 277.33 174.00 277.32 174.50 277.31 175.00 277.29 175.50 277.28 176.00 277.26 176.50 277.24 177.00 277.22 177.50 277.20 178.00 277.18 178.50 277.15 179.00 277.13 179.50 277.10 180.00 277.06 180.50 277.03 181.00 276.99 181.50 276.95 182.00 276.90 182.50 276.84 183.00 276.78 183.50 276.72 184.00 276.64 184.50 276.55 185.00 276.45 185.50 276.34 186.00 276.21 186.50 276.06 187.00 275.88 187.50 275.67 188.00 275.43 188.50 275.13 189.00 274.76 189.50 274.32 190.00 273.76 190.50 273.06 191.00 272.16 191.50 270.98 192.00 269.42 192.50 267.30 193.00 264.40 193.50 260.44 194.00 255.17 194.50 248.78 195.00 242.66 195.50 239.63 196.00 241.70 196.50 247.46 197.00 253.96 197.50 259.50 198.00 263.71 198.50 266.79 199.00 269.04 199.50 270.70 200.00 271.95 200.50 272.90 201.00 273.64 201.50 274.22 202.00 274.68 202.50 275.06 203.00 275.37 203.50 275.63 204.00 275.84 204.50 276.03 205.00 276.18 205.50 276.32 206.00 276.43 206.50 276.53 207.00 276.62 207.50 276.70 208.00 276.77 208.50 276.83 209.00 276.89 209.50 276.94 210.00 276.98 210.50 277.02 211.00 277.06 211.50 277.09 212.00 277.12 212.50 277.15 213.00 277.17 213.50 277.20 214.00 277.22 214.50 277.24 215.00 277.26 215.50 277.27 216.00 277.29 216.50 277.30 217.00 277.32 217.50 277.33 218.00 277.34 218.50 277.35 219.00 277.36 219.50 277.37 220.00 277.38 220.50 277.39 221.00 277.40 221.50 277.41 222.00 277.41 222.50 277.42 223.00 277.43 223.50 277.43 224.00 277.44 224.50 277.44 225.00 277.45" fill="none" stroke="#f25252" stroke-width="1.0" clip-path="url(#ic2)"/><rect x="163.00" y="196.90" width="62.00" height="83.90" fill="none" stroke="#c8c8c8" stroke-width="0.90"/><text x="163.00" y="287.50" font-size="7.50" fill="#333" stroke="#333" stroke-width="0.20" text-anchor="middle" font-weight="normal" font-family="Liberation Serif">30</text><text x="178.50" y="287.50" font-size="7.50" fill="#333" stroke="#333" stroke-width="0.20" text-anchor="middle" font-weight="normal" font-family="Liberation Serif">35</text><text x="194.00" y="287.50" font-size="7.50" fill="#333" stroke="#333" stroke-width="0.20" text-anchor="middle" font-weight="normal" font-family="Liberation Serif">40</text><text x="209.50" y="287.50" font-size="7.50" fill="#333" stroke="#333" stroke-width="0.20" text-anchor="middle" font-weight="normal" font-family="Liberation Serif">45</text><text x="225.00" y="287.50" font-size="7.50" fill="#333" stroke="#333" stroke-width="0.20" text-anchor="middle" font-weight="normal" font-family="Liberation Serif">50</text><text x="190.50" y="292.30" font-size="8.60" fill="#333" stroke="#333" stroke-width="0.20" text-anchor="middle" font-weight="normal" font-family="Liberation Serif">2θ (°)</text><text x="160.80" y="240.00" font-size="8.60" fill="#333" stroke="#333" stroke-width="0.20" text-anchor="middle" font-weight="normal" font-family="Liberation Serif" transform="rotate(-90 160.80 240.00)">Intensity (a.u.)</text><text x="170.40" y="212.20" font-size="7.00" fill="#333" stroke="#333" stroke-width="0.20" text-anchor="start" font-weight="normal" font-family="Liberation Serif">80 h</text><text x="184.40" y="235.40" font-size="7.00" fill="#f25252" stroke="#f25252" stroke-width="0.20" text-anchor="start" font-weight="normal" font-family="Liberation Serif">Mo(110)</text><line x1="202.20" y1="241.00" x2="207.20" y2="241.00" stroke="#f25252" stroke-width="1"/><text x="208.20" y="243.30" font-size="7.00" fill="#333" stroke="#333" stroke-width="0.20" text-anchor="start" font-weight="normal" font-family="Liberation Serif">Moss</text><circle cx="82.20" cy="235.20" r="1.85" fill="#000"/><circle cx="132.10" cy="286.20" r="1.85" fill="#000"/><circle cx="171.60" cy="286.20" r="1.85" fill="#000"/><circle cx="209.80" cy="294.10" r="1.85" fill="#000"/><rect x="75.25" y="273.45" width="3.30" height="3.30" fill="#000"/><rect x="121.55" y="292.85" width="3.30" height="3.30" fill="#000"/><rect x="159.15" y="292.85" width="3.30" height="3.30" fill="#000"/><rect x="194.15" y="294.05" width="3.30" height="3.30" fill="#000"/><path d="M50.20 294.64L52.29 298.42L48.11 298.42Z" fill="#000"/><clipPath id="cd"><rect x="258.90" y="196.80" width="202.70" height="150.50"/></clipPath><path d="M258.90 299.37 259.90 299.23 260.90 299.30 261.90 299.30 262.90 299.25 263.90 299.33 264.90 299.59 265.90 299.51 266.90 299.32 267.90 299.55 268.90 299.36 269.90 299.51 270.90 299.41 271.90 299.23 272.90 299.31 273.90 299.31 274.90 299.31 275.90 299.41 276.90 299.73 277.90 299.41 278.90 299.56 279.90 299.39 280.90 298.96 281.10 298.95 281.60 298.63 281.90 298.58 282.10 298.87 282.90 299.20 283.90 299.29 284.90 299.26 285.90 299.28 286.90 299.36 287.90 299.44 288.90 299.41 289.90 299.31 290.90 299.54 291.90 299.65 292.90 299.62 293.90 299.53 294.90 299.57 295.90 299.30 296.90 299.25 297.90 299.33 298.90 299.30 299.90 299.45 300.90 299.34 301.90 299.24 302.90 299.00 303.90 298.88 304.90 298.45 305.90 298.11 306.90 297.01 307.90 290.69 308.40 281.67 308.90 274.13 308.90 274.18 309.40 281.39 309.90 290.54 310.90 296.34 311.90 296.44 312.90 293.55 313.80 273.74 313.90 269.43 314.30 256.08 314.80 273.85 314.90 277.90 315.90 295.23 316.90 297.71 317.90 298.78 318.90 299.23 319.90 299.19 320.90 299.37 321.90 299.28 322.90 299.32 323.90 299.19 324.90 299.22 325.90 299.06 326.90 299.11 327.90 299.17 328.90 299.33 329.90 299.29 330.90 299.41 331.90 299.29 332.90 299.55 333.90 299.50 334.90 299.63 335.90 299.48 336.90 299.56 337.90 299.45 338.90 299.35 339.90 299.32 340.90 299.43 341.90 299.63 342.90 299.54 343.90 299.64 344.90 299.65 345.90 299.82 346.90 299.86 347.90 299.83 348.90 300.07 349.90 299.96 350.90 299.78 351.90 299.40 352.90 299.09 353.90 297.98 354.34 296.97 354.84 296.52 354.90 296.48 355.34 296.92 355.90 298.09 356.90 299.14 357.90 299.32 358.90 299.24 359.90 299.05 360.90 298.83 361.90 297.10 362.72 295.09 362.90 294.59 363.22 294.64 363.72 295.33 363.90 295.65 364.90 298.07 365.90 299.08 366.90 299.34 367.90 299.53 368.90 299.41 369.90 299.38 370.90 299.54 371.90 299.31 372.90 299.61 373.90 299.72 374.90 299.61 375.90 299.55 376.90 299.58 377.90 299.52 378.90 299.63 379.90 299.66 380.90 299.82 381.90 299.81 382.90 299.90 383.90 299.91 384.90 300.21 385.90 299.86 386.90 299.80 387.90 299.47 388.90 299.33 389.90 298.97 390.90 298.67 391.90 297.06 392.45 295.68 392.90 295.05 392.95 295.16 393.45 295.85 393.90 297.31 394.90 298.96 395.90 299.39 396.90 299.51 397.90 299.51 398.90 299.36 399.90 299.23 400.90 298.82 401.90 297.63 402.90 294.77 403.26 293.31 403.76 292.46 403.90 292.36 404.26 292.98 404.90 295.32 405.90 297.76 406.90 299.00 407.90 299.42 408.90 299.60 409.90 299.78 410.90 299.89 411.90 299.77 412.90 299.73 413.90 299.74 414.90 299.54 415.90 299.32 416.90 299.38 417.90 299.43 418.90 299.31 419.90 299.53 420.90 299.63 421.90 299.72 422.90 299.59 423.90 299.61 424.90 299.28 425.90 299.44 426.90 299.18 427.32 298.62 427.82 298.68 427.90 298.89 428.32 299.20 428.90 299.42 429.90 299.88 430.90 300.07 431.90 300.14 432.90 300.14 433.90 299.92 434.90 299.97 435.90 299.80 436.90 299.63 437.90 299.51 438.90 299.63 439.90 299.14 440.90 298.24 441.10 298.13 441.60 297.98 441.90 297.98 442.10 297.84 442.90 298.60 443.90 299.30 444.90 299.68 445.90 299.88 446.90 300.01 447.90 300.12 448.90 300.39 449.90 300.31 450.90 300.14 451.90 300.11 452.90 299.79 453.90 299.68 454.90 299.61 455.90 299.67 456.90 299.63 457.90 299.89 458.90 299.64 459.90 299.79 460.90 300.07" fill="none" stroke="#ff5cff" stroke-width="1.15" stroke-linejoin="round" clip-path="url(#cd)"/><path d="M258.90 309.68 259.90 309.59 260.90 309.80 261.90 309.97 262.90 309.89 263.90 309.84 264.90 309.78 265.90 309.64 266.90 309.82 267.90 309.64 268.90 309.59 269.90 309.84 270.90 309.79 271.90 309.81 272.90 309.66 273.90 309.51 274.90 309.65 275.90 309.53 276.90 309.58 277.90 309.87 278.90 309.89 279.90 309.85 280.90 309.75 281.90 309.73 282.90 309.54 283.90 309.59 284.90 309.34 285.90 309.37 286.90 309.55 287.90 309.62 288.90 309.72 289.90 309.97 290.90 309.93 291.90 309.92 292.90 309.73 293.90 309.84 294.90 309.67 295.90 309.69 296.90 309.83 297.90 309.89 298.90 309.90 299.90 310.00 300.90 310.03 301.90 309.73 302.90 309.61 303.90 309.36 304.90 309.07 305.90 308.63 306.90 307.28 307.90 303.63 308.40 301.42 308.90 300.13 308.90 300.01 309.40 301.33 309.90 303.57 310.90 306.20 311.90 306.53 312.90 303.08 313.80 289.89 313.90 287.75 314.30 282.48 314.80 289.74 314.90 291.83 315.90 304.67 316.90 307.48 317.90 308.67 318.90 309.11 319.90 309.24 320.90 309.29 321.90 309.56 322.90 309.49 323.90 309.73 324.90 309.62 325.90 309.73 326.90 309.69 327.90 309.72 328.90 309.59 329.90 309.58 330.90 309.71 331.90 309.57 332.90 309.78 333.90 309.63 334.90 309.69 335.90 309.71 336.90 309.74 337.90 309.76 338.90 309.85 339.90 309.63 340.90 309.60 341.90 309.78 342.90 309.86 343.90 310.00 344.90 310.16 345.90 310.08 346.90 309.89 347.90 309.93 348.90 309.96 349.90 309.92 350.90 309.90 351.90 310.16 352.90 310.18 353.90 310.05 354.90 309.84 355.90 309.94 356.90 309.69 357.90 309.81 358.90 309.63 359.90 309.29 360.90 308.68 361.90 307.77 362.72 306.86 362.90 306.83 363.22 306.76 363.72 307.35 363.90 307.31 364.90 308.64 365.90 309.15 366.90 309.40 367.90 309.40 368.90 309.76 369.90 309.96 370.90 309.91 371.90 310.01 372.90 309.82 373.90 309.80 374.90 309.70 375.90 309.69 376.90 310.03 377.90 310.29 378.90 310.21 379.90 310.60 380.90 310.64 381.90 310.38 382.90 310.31 383.90 310.33 384.90 310.29 385.90 310.12 386.90 310.05 387.90 309.97 388.90 309.83 389.90 310.00 390.90 309.95 391.90 310.28 392.90 310.19 393.90 310.22 394.90 310.18 395.90 310.10 396.90 310.17 397.90 309.96 398.90 309.89 399.90 309.65 400.90 309.18 401.90 307.82 402.90 306.21 403.26 305.60 403.76 305.17 403.90 305.26 404.26 305.62 404.90 306.48 405.90 308.17 406.90 309.23 407.90 309.79 408.90 309.75 409.90 310.27 410.90 310.27 411.90 310.27 412.90 310.12 413.90 310.46 414.90 310.13 415.90 310.25 416.90 310.25 417.90 310.23 418.90 310.12 419.90 310.27 420.90 310.12 421.90 310.15 422.90 310.22 423.90 310.11 424.90 310.03 425.90 310.00 426.90 309.98 427.90 309.91 428.90 310.06 429.90 310.02 430.90 310.10 431.90 310.27 432.90 310.14 433.90 310.22 434.90 310.33 435.90 310.29 436.90 310.09 437.90 309.89 438.90 309.63 439.90 308.99 440.90 308.33 441.10 308.30 441.60 308.20 441.90 308.64 442.10 308.58 442.90 309.00 443.90 309.59 444.90 309.97 445.90 310.01 446.90 310.16 447.90 310.20 448.90 310.23 449.90 310.33 450.90 310.54 451.90 310.79 452.90 310.61 453.90 310.61 454.90 310.37 455.90 310.37 456.90 310.39 457.90 310.26 458.90 310.32 459.90 310.43 460.90 310.66" fill="none" stroke="#5555e6" stroke-width="1.15" stroke-linejoin="round" clip-path="url(#cd)"/><path d="M258.90 321.03 259.90 321.07 260.90 320.73 261.90 320.75 262.90 320.90 263.90 320.92 264.90 320.64 265.90 320.96 266.90 320.99 267.90 320.96 268.90 320.99 269.90 321.23 270.90 321.07 271.90 320.88 272.90 320.65 273.90 320.70 274.90 320.47 275.90 320.37 276.90 320.39 277.90 320.18 278.90 320.16 279.90 320.07 280.90 319.93 281.90 319.94 282.90 319.87 283.90 319.92 284.90 319.80 285.90 319.68 286.90 319.50 287.90 319.51 288.90 319.29 289.90 319.08 290.90 318.94 291.90 318.84 292.90 318.74 293.90 318.39 294.90 318.39 295.90 318.18 296.90 317.94 297.90 317.70 298.90 317.76 299.90 317.46 300.90 317.35 301.90 317.26 302.90 316.96 303.90 316.66 304.90 316.81 305.90 316.67 306.90 316.54 307.90 316.52 308.90 316.55 309.90 316.29 310.90 316.13 311.90 314.75 312.90 310.61 313.80 303.56 313.90 302.74 314.30 301.02 314.80 303.26 314.90 304.19 315.90 311.59 316.90 315.17 317.90 316.27 318.90 316.78 319.90 317.35 320.90 317.73 321.90 318.21 322.90 318.26 323.90 318.83 324.90 318.77 325.90 319.13 326.90 319.53 327.90 319.43 328.90 319.69 329.90 319.94 330.90 320.02 331.90 320.05 332.90 320.12 333.90 320.02 334.90 320.17 335.90 320.08 336.90 320.09 337.90 320.23 338.90 320.46 339.90 320.60 340.90 320.84 341.90 320.93 342.90 320.78 343.90 320.85 344.90 320.81 345.90 320.47 346.90 320.34 347.90 320.63 348.90 320.84 349.90 321.00 350.90 321.17 351.90 321.06 352.90 320.97 353.90 320.77 354.90 320.60 355.90 320.69 356.90 320.65 357.90 320.74 358.90 320.58 359.90 320.53 360.90 319.69 361.90 318.98 362.72 318.27 362.90 318.38 363.22 318.02 363.72 318.36 363.90 318.39 364.90 319.07 365.90 319.62 366.90 320.41 367.90 320.56 368.90 320.63 369.90 320.87 370.90 320.92 371.90 320.80 372.90 320.43 373.90 320.80 374.90 320.79 375.90 320.72 376.90 320.68 377.90 320.91 378.90 320.80 379.90 320.75 380.90 320.88 381.90 320.84 382.90 321.03 383.90 320.88 384.90 320.81 385.90 320.76 386.90 320.79 387.90 320.64 388.90 320.79 389.90 320.88 390.90 320.84 391.90 320.98 392.90 320.87 393.90 320.81 394.90 320.86 395.90 320.92 396.90 320.63 397.90 320.68 398.90 320.54 399.90 320.31 400.90 319.56 401.90 319.01 402.90 318.18 403.26 317.83 403.76 317.67 403.90 317.95 404.26 318.17 404.90 318.56 405.90 319.30 406.90 319.72 407.90 320.11 408.90 320.28 409.90 320.61 410.90 320.69 411.90 320.89 412.90 320.75 413.90 320.58 414.90 320.59 415.90 320.55 416.90 320.50 417.90 320.56 418.90 320.82 419.90 321.06 420.90 320.94 421.90 320.93 422.90 320.88 423.90 321.21 424.90 320.91 425.90 320.96 426.90 321.20 427.90 321.24 428.90 321.04 429.90 321.07 430.90 321.14 431.90 321.06 432.90 321.11 433.90 321.10 434.90 320.99 435.90 320.90 436.90 320.93 437.90 320.77 438.90 320.94 439.90 320.84 440.90 320.84 441.90 320.67 442.90 320.82 443.90 320.69 444.90 320.85 445.90 320.83 446.90 320.66 447.90 320.74 448.90 320.69 449.90 320.85 450.90 320.66 451.90 320.91 452.90 320.82 453.90 320.88 454.90 321.04 455.90 321.10 456.90 321.12 457.90 321.51 458.90 321.17 459.90 321.17 460.90 321.16" fill="none" stroke="#f25252" stroke-width="1.15" stroke-linejoin="round" clip-path="url(#cd)"/><path d="M258.90 331.45 259.90 331.36 260.90 331.35 261.90 331.41 262.90 331.06 263.90 331.15 264.90 331.06 265.90 330.90 266.90 331.13 267.90 331.21 268.90 331.27 269.90 331.25 270.90 331.26 271.90 331.23 272.90 331.16 273.90 331.06 274.90 331.13 275.90 330.84 276.90 330.90 277.90 330.85 278.90 330.44 279.90 330.46 280.90 330.50 281.90 330.67 282.90 330.46 283.90 330.54 284.90 330.19 285.90 329.88 286.90 329.64 287.90 329.73 288.90 329.53 289.90 329.44 290.90 329.29 291.90 329.11 292.90 328.98 293.90 328.79 294.90 328.87 295.90 328.78 296.90 328.83 297.90 328.38 298.90 328.34 299.90 328.23 300.90 327.78 301.90 327.89 302.90 327.94 303.90 327.81 304.90 327.70 305.90 327.93 306.90 327.66 307.90 327.46 308.90 327.31 309.90 326.99 310.90 326.48 311.90 324.97 312.90 322.13 313.80 318.16 313.90 317.81 314.30 317.08 314.80 317.95 314.90 318.09 315.90 322.50 316.90 325.55 317.90 326.90 318.90 328.01 319.90 328.38 320.90 328.61 321.90 329.04 322.90 329.17 323.90 329.41 324.90 329.66 325.90 329.77 326.90 329.70 327.90 329.82 328.90 329.97 329.90 330.05 330.90 330.09 331.90 330.19 332.90 330.23 333.90 330.27 334.90 330.38 335.90 330.55 336.90 330.56 337.90 330.96 338.90 331.10 339.90 331.12 340.90 331.17 341.90 331.19 342.90 331.33 343.90 331.05 344.90 331.08 345.90 330.96 346.90 331.11 347.90 331.07 348.90 331.29 349.90 331.35 350.90 331.49 351.90 331.29 352.90 331.33 353.90 331.32 354.90 331.31 355.90 331.20 356.90 331.21 357.90 331.19 358.90 330.81 359.90 330.69 360.90 330.28 361.90 329.69 362.72 329.34 362.90 329.48 363.22 329.51 363.72 329.80 363.90 330.00 364.90 330.46 365.90 330.81 366.90 331.17 367.90 331.48 368.90 331.37 369.90 331.36 370.90 331.35 371.90 331.21 372.90 330.99 373.90 331.14 374.90 331.25 375.90 331.03 376.90 331.05 377.90 331.15 378.90 331.18 379.90 331.41 380.90 331.58 381.90 331.46 382.90 331.45 383.90 331.23 384.90 331.13 385.90 331.18 386.90 331.23 387.90 331.40 388.90 331.45 389.90 331.49 390.90 331.53 391.90 331.43 392.90 331.24 393.90 331.06 394.90 331.23 395.90 331.12 396.90 330.94 397.90 330.94 398.90 330.74 399.90 330.58 400.90 330.08 401.90 329.63 402.90 329.41 403.26 329.28 403.76 329.12 403.90 329.38 404.26 329.30 404.90 329.47 405.90 329.90 406.90 330.53 407.90 330.72 408.90 330.96 409.90 330.93 410.90 331.16 411.90 331.13 412.90 331.24 413.90 331.16 414.90 331.34 415.90 331.34 416.90 331.41 417.90 331.26 418.90 331.29 419.90 331.24 420.90 331.44 421.90 331.46 422.90 331.48 423.90 331.34 424.90 331.38 425.90 331.26 426.90 331.18 427.90 331.06 428.90 331.16 429.90 331.20 430.90 331.30 431.90 331.44 432.90 331.50 433.90 331.47 434.90 331.42 435.90 331.30 436.90 331.32 437.90 331.20 438.90 331.22 439.90 331.40 440.90 331.60 441.90 331.40 442.90 331.64 443.90 331.60 444.90 331.74 445.90 331.61 446.90 331.67 447.90 331.70 448.90 331.68 449.90 331.57 450.90 331.43 451.90 331.53 452.90 331.43 453.90 331.36 454.90 331.26 455.90 331.31 456.90 331.43 457.90 331.27 458.90 331.31 459.90 331.27 460.90 331.32" fill="none" stroke="#3a3a3a" stroke-width="1.15" stroke-linejoin="round" clip-path="url(#cd)"/><rect x="310.20" y="249.50" width="7.70" height="88.90" fill="#fff" fill-opacity="0.45" stroke="#8a8a8a" stroke-width="0.9"/><line x1="258.90" y1="347.30" x2="258.90" y2="345.10" stroke="#5a5a5a" stroke-width="0.9"/><text x="258.90" y="357.20" font-size="7.80" fill="#333" stroke="#333" stroke-width="0.20" text-anchor="middle" font-weight="normal" font-family="Liberation Serif">20</text><line x1="272.41" y1="347.30" x2="272.41" y2="345.80" stroke="#5a5a5a" stroke-width="0.9"/><line x1="285.93" y1="347.30" x2="285.93" y2="345.10" stroke="#5a5a5a" stroke-width="0.9"/><text x="285.93" y="357.20" font-size="7.80" fill="#333" stroke="#333" stroke-width="0.20" text-anchor="middle" font-weight="normal" font-family="Liberation Serif">30</text><line x1="299.44" y1="347.30" x2="299.44" y2="345.80" stroke="#5a5a5a" stroke-width="0.9"/><line x1="312.95" y1="347.30" x2="312.95" y2="345.10" stroke="#5a5a5a" stroke-width="0.9"/><text x="312.95" y="357.20" font-size="7.80" fill="#333" stroke="#333" stroke-width="0.20" text-anchor="middle" font-weight="normal" font-family="Liberation Serif">40</text><line x1="326.47" y1="347.30" x2="326.47" y2="345.80" stroke="#5a5a5a" stroke-width="0.9"/><line x1="339.98" y1="347.30" x2="339.98" y2="345.10" stroke="#5a5a5a" stroke-width="0.9"/><text x="339.98" y="357.20" font-size="7.80" fill="#333" stroke="#333" stroke-width="0.20" text-anchor="middle" font-weight="normal" font-family="Liberation Serif">50</text><line x1="353.49" y1="347.30" x2="353.49" y2="345.80" stroke="#5a5a5a" stroke-width="0.9"/><line x1="367.01" y1="347.30" x2="367.01" y2="345.10" stroke="#5a5a5a" stroke-width="0.9"/><text x="367.01" y="357.20" font-size="7.80" fill="#333" stroke="#333" stroke-width="0.20" text-anchor="middle" font-weight="normal" font-family="Liberation Serif">60</text><line x1="380.52" y1="347.30" x2="380.52" y2="345.80" stroke="#5a5a5a" stroke-width="0.9"/><line x1="394.03" y1="347.30" x2="394.03" y2="345.10" stroke="#5a5a5a" stroke-width="0.9"/><text x="394.03" y="357.20" font-size="7.80" fill="#333" stroke="#333" stroke-width="0.20" text-anchor="middle" font-weight="normal" font-family="Liberation Serif">70</text><line x1="407.55" y1="347.30" x2="407.55" y2="345.80" stroke="#5a5a5a" stroke-width="0.9"/><line x1="421.06" y1="347.30" x2="421.06" y2="345.10" stroke="#5a5a5a" stroke-width="0.9"/><text x="421.06" y="357.20" font-size="7.80" fill="#333" stroke="#333" stroke-width="0.20" text-anchor="middle" font-weight="normal" font-family="Liberation Serif">80</text><line x1="434.57" y1="347.30" x2="434.57" y2="345.80" stroke="#5a5a5a" stroke-width="0.9"/><line x1="448.09" y1="347.30" x2="448.09" y2="345.10" stroke="#5a5a5a" stroke-width="0.9"/><text x="448.09" y="357.20" font-size="7.80" fill="#333" stroke="#333" stroke-width="0.20" text-anchor="middle" font-weight="normal" font-family="Liberation Serif">90</text><line x1="461.60" y1="347.30" x2="461.60" y2="345.80" stroke="#5a5a5a" stroke-width="0.9"/><rect x="258.90" y="196.80" width="202.70" height="150.50" fill="none" stroke="#5a5a5a" stroke-width="1.20"/><text x="239.60" y="203.40" font-size="12.50" fill="#222" stroke="#222" stroke-width="0.20" text-anchor="start" font-weight="normal" font-family="Liberation Serif">(d)</text><text x="354.90" y="370.60" font-size="9.70" fill="#333" stroke="#333" stroke-width="0.20" text-anchor="middle" font-weight="normal" font-family="Liberation Serif">2θ (°)</text><text x="251.20" y="276.50" font-size="9.40" fill="#333" stroke="#333" stroke-width="0.20" text-anchor="middle" font-weight="normal" font-family="Liberation Serif" transform="rotate(-90 251.20 276.50)">Intensity (a.u.)</text><circle cx="277.00" cy="229.90" r="1.70" fill="#000"/><text x="281.60" y="232.50" font-size="7.60" fill="#333" stroke="#333" stroke-width="0.20" text-anchor="start" font-weight="normal" font-family="Liberation Serif">Mo</text><rect x="275.50" y="237.70" width="3.00" height="3.00" fill="#000"/><text x="281.60" y="241.80" font-size="7.60" fill="#333" stroke="#333" stroke-width="0.20" text-anchor="start" font-weight="normal" font-family="Liberation Serif">Nb</text><path d="M277.00 246.84L279.09 250.62L274.91 250.62Z" fill="#000"/><text x="282.90" y="251.60" font-size="7.60" fill="#333" stroke="#333" stroke-width="0.20" text-anchor="start" font-weight="normal" font-family="Liberation Serif">Si</text><text x="263.90" y="297.40" font-size="7.40" fill="#333" stroke="#333" stroke-width="0.20" text-anchor="start" font-weight="normal" font-family="Liberation Serif">10 h</text><text x="263.90" y="307.40" font-size="7.40" fill="#333" stroke="#333" stroke-width="0.20" text-anchor="start" font-weight="normal" font-family="Liberation Serif">30 h</text><text x="263.90" y="318.90" font-size="7.40" fill="#333" stroke="#333" stroke-width="0.20" text-anchor="start" font-weight="normal" font-family="Liberation Serif">50 h</text><text x="263.90" y="330.10" font-size="7.40" fill="#333" stroke="#333" stroke-width="0.20" text-anchor="start" font-weight="normal" font-family="Liberation Serif">80 h</text><rect x="352.50" y="197.00" width="61.60" height="82.30" fill="#fff"/><clipPath id="id1"><rect x="352.50" y="197.00" width="61.60" height="82.30"/></clipPath><path d="M352.50 276.63 353.00 276.60 353.50 276.83 354.00 276.26 354.50 276.63 355.00 275.64 355.50 276.04 356.00 275.76 356.50 276.09 357.00 276.34 357.50 276.19 358.00 276.20 358.50 275.74 359.00 275.76 359.50 275.48 360.00 275.75 360.50 275.38 361.00 275.80 361.50 275.40 362.00 275.53 362.50 275.40 363.00 275.35 363.50 274.74 364.00 274.47 364.50 273.65 365.00 273.91 365.50 273.53 366.00 273.65 366.50 273.11 367.00 273.35 367.50 273.26 368.00 273.01 368.50 273.05 369.00 272.20 369.50 272.08 370.00 271.43 370.50 270.62 371.00 270.69 371.50 270.29 372.00 269.69 372.50 269.21 373.00 268.51 373.50 268.25 374.00 267.74 374.50 267.39 375.00 267.69 375.50 268.23 376.00 267.62 376.50 267.07 377.00 266.55 377.50 266.48 378.00 266.40 378.50 266.16 379.00 265.52 379.50 265.56 380.00 265.79 380.50 265.87 381.00 264.62 381.50 264.24 382.00 263.85 382.50 263.37 383.00 261.74 383.50 258.94 384.00 254.19 384.50 248.40 385.00 247.25 385.50 252.30 386.00 258.57 386.50 262.39 387.00 264.81 387.50 266.03 388.00 267.25 388.50 268.40 389.00 269.21 389.50 270.03 390.00 270.72 390.50 271.09 391.00 271.52 391.50 271.75 392.00 272.55 392.50 272.65 393.00 273.19 393.50 273.49 394.00 273.90 394.50 273.99 395.00 274.10 395.50 274.09 396.00 274.01 396.50 274.36 397.00 274.80 397.50 275.18 398.00 275.32 398.50 275.33 399.00 274.77 399.50 275.35 400.00 275.61 400.50 275.89 401.00 275.82 401.50 275.96 402.00 276.17 402.50 276.21 403.00 275.76 403.50 275.59 404.00 276.25 404.50 276.34 405.00 276.45 405.50 275.94 406.00 276.07 406.50 276.33 407.00 276.16 407.50 275.71 408.00 275.89 408.50 276.15 409.00 276.41 409.50 276.39 410.00 276.68 410.50 276.49 411.00 276.35 411.50 276.46 412.00 276.52 412.50 276.48 413.00 276.63 413.50 276.75 414.00 276.41" fill="none" stroke="#151515" stroke-width="0.95" clip-path="url(#id1)"/><path d="M352.50 277.34 353.00 277.33 353.50 277.31 354.00 277.30 354.50 277.28 355.00 277.25 355.50 277.23 356.00 277.19 356.50 277.16 357.00 277.12 357.50 277.07 358.00 277.02 358.50 276.96 359.00 276.89 359.50 276.81 360.00 276.72 360.50 276.63 361.00 276.52 361.50 276.40 362.00 276.27 362.50 276.12 363.00 275.96 363.50 275.79 364.00 275.60 364.50 275.40 365.00 275.18 365.50 274.95 366.00 274.70 366.50 274.43 367.00 274.15 367.50 273.85 368.00 273.54 368.50 273.22 369.00 272.89 369.50 272.54 370.00 272.19 370.50 271.83 371.00 271.46 371.50 271.10 372.00 270.73 372.50 270.36 373.00 270.00 373.50 269.64 374.00 269.30 374.50 268.97 375.00 268.65 375.50 268.36 376.00 268.08 376.50 267.83 377.00 267.61 377.50 267.41 378.00 267.24 378.50 267.11 379.00 267.00 379.50 266.94 380.00 266.90 380.50 266.91 381.00 266.94 381.50 267.01 382.00 267.12 382.50 267.26 383.00 267.43 383.50 267.63 384.00 267.86 384.50 268.11 385.00 268.39 385.50 268.69 386.00 269.01 386.50 269.34 387.00 269.69 387.50 270.04 388.00 270.40 388.50 270.77 389.00 271.14 389.50 271.51 390.00 271.87 390.50 272.23 391.00 272.59 391.50 272.93 392.00 273.26 392.50 273.58 393.00 273.89 393.50 274.18 394.00 274.46 394.50 274.73 395.00 274.98 395.50 275.21 396.00 275.42 396.50 275.63 397.00 275.81 397.50 275.98 398.00 276.14 398.50 276.28 399.00 276.41 399.50 276.53 400.00 276.64 400.50 276.73 401.00 276.82 401.50 276.90 402.00 276.96 402.50 277.02 403.00 277.08 403.50 277.12 404.00 277.16 404.50 277.20 405.00 277.23 405.50 277.26 406.00 277.28 406.50 277.30 407.00 277.31 407.50 277.33 408.00 277.34 408.50 277.35 409.00 277.36 409.50 277.37 410.00 277.37 410.50 277.38 411.00 277.38 411.50 277.39 412.00 277.39 412.50 277.39 413.00 277.39 413.50 277.39 414.00 277.40" fill="none" stroke="#5555e6" stroke-width="0.9" clip-path="url(#id1)"/><path d="M352.50 277.38 353.00 277.38 353.50 277.38 354.00 277.38 354.50 277.38 355.00 277.38 355.50 277.38 356.00 277.37 356.50 277.37 357.00 277.37 357.50 277.37 358.00 277.37 358.50 277.37 359.00 277.37 359.50 277.37 360.00 277.37 360.50 277.36 361.00 277.36 361.50 277.36 362.00 277.36 362.50 277.36 363.00 277.36 363.50 277.35 364.00 277.35 364.50 277.35 365.00 277.35 365.50 277.34 366.00 277.34 366.50 277.34 367.00 277.33 367.50 277.33 368.00 277.33 368.50 277.32 369.00 277.32 369.50 277.31 370.00 277.31 370.50 277.30 371.00 277.29 371.50 277.28 372.00 277.27 372.50 277.26 373.00 277.25 373.50 277.24 374.00 277.22 374.50 277.21 375.00 277.19 375.50 277.16 376.00 277.14 376.50 277.10 377.00 277.07 377.50 277.02 378.00 276.96 378.50 276.90 379.00 276.81 379.50 276.70 380.00 276.55 380.50 276.36 381.00 276.09 381.50 275.71 382.00 275.12 382.50 274.15 383.00 272.43 383.50 269.40 384.00 264.58 384.50 259.05 385.00 257.79 385.50 262.50 386.00 267.88 386.50 271.52 387.00 273.64 387.50 274.83 388.00 275.53 388.50 275.97 389.00 276.27 389.50 276.49 390.00 276.65 390.50 276.77 391.00 276.87 391.50 276.94 392.00 277.00 392.50 277.05 393.00 277.09 393.50 277.13 394.00 277.15 394.50 277.18 395.00 277.20 395.50 277.22 396.00 277.23 396.50 277.25 397.00 277.26 397.50 277.27 398.00 277.28 398.50 277.29 399.00 277.30 399.50 277.30 400.00 277.31 400.50 277.32 401.00 277.32 401.50 277.33 402.00 277.33 402.50 277.33 403.00 277.34 403.50 277.34 404.00 277.34 404.50 277.35 405.00 277.35 405.50 277.35 406.00 277.35 406.50 277.36 407.00 277.36 407.50 277.36 408.00 277.36 408.50 277.36 409.00 277.36 409.50 277.37 410.00 277.37 410.50 277.37 411.00 277.37 411.50 277.37 412.00 277.37 412.50 277.37 413.00 277.37 413.50 277.37 414.00 277.38" fill="none" stroke="#f25252" stroke-width="1.0" clip-path="url(#id1)"/><rect x="352.50" y="197.00" width="61.60" height="82.30" fill="none" stroke="#c8c8c8" stroke-width="0.90"/><text x="352.50" y="287.40" font-size="7.50" fill="#333" stroke="#333" stroke-width="0.20" text-anchor="middle" font-weight="normal" font-family="Liberation Serif">30</text><text x="367.90" y="287.40" font-size="7.50" fill="#333" stroke="#333" stroke-width="0.20" text-anchor="middle" font-weight="normal" font-family="Liberation Serif">35</text><text x="383.30" y="287.40" font-size="7.50" fill="#333" stroke="#333" stroke-width="0.20" text-anchor="middle" font-weight="normal" font-family="Liberation Serif">40</text><text x="398.70" y="287.40" font-size="7.50" fill="#333" stroke="#333" stroke-width="0.20" text-anchor="middle" font-weight="normal" font-family="Liberation Serif">45</text><text x="414.10" y="287.40" font-size="7.50" fill="#333" stroke="#333" stroke-width="0.20" text-anchor="middle" font-weight="normal" font-family="Liberation Serif">50</text><text x="380.20" y="293.00" font-size="8.60" fill="#333" stroke="#333" stroke-width="0.20" text-anchor="middle" font-weight="normal" font-family="Liberation Serif">2θ (°)</text><text x="349.00" y="246.60" font-size="8.60" fill="#333" stroke="#333" stroke-width="0.20" text-anchor="middle" font-weight="normal" font-family="Liberation Serif" transform="rotate(-90 349.00 246.60)">Intensity (a.u.)</text><text x="358.30" y="215.60" font-size="7.00" fill="#333" stroke="#333" stroke-width="0.20" text-anchor="start" font-weight="normal" font-family="Liberation Serif">80 h</text><text x="372.40" y="243.30" font-size="7.00" fill="#f25252" stroke="#f25252" stroke-width="0.20" text-anchor="start" font-weight="normal" font-family="Liberation Serif">Mo(110)</text><line x1="392.70" y1="251.40" x2="397.70" y2="251.40" stroke="#f25252" stroke-width="1"/><text x="398.70" y="253.70" font-size="7.00" fill="#333" stroke="#333" stroke-width="0.20" text-anchor="start" font-weight="normal" font-family="Liberation Serif">Moss</text><line x1="392.70" y1="256.70" x2="397.70" y2="256.70" stroke="#5555e6" stroke-width="1"/><text x="398.70" y="259.00" font-size="7.00" fill="#333" stroke="#333" stroke-width="0.20" text-anchor="start" font-weight="normal" font-family="Liberation Serif">Nbss</text><text x="366.70" y="265.20" font-size="7.00" fill="#5555e6" stroke="#5555e6" stroke-width="0.20" text-anchor="start" font-weight="normal" font-family="Liberation Serif">Nb(110)</text><circle cx="314.40" cy="253.20" r="1.85" fill="#000"/><circle cx="362.90" cy="291.60" r="1.85" fill="#000"/><circle cx="404.30" cy="289.50" r="1.85" fill="#000"/><circle cx="441.40" cy="296.30" r="1.85" fill="#000"/><rect x="306.95" y="267.75" width="3.30" height="3.30" fill="#000"/><rect x="353.25" y="292.35" width="3.30" height="3.30" fill="#000"/><rect x="390.65" y="284.25" width="3.30" height="3.30" fill="#000"/><rect x="425.65" y="294.65" width="3.30" height="3.30" fill="#000"/><path d="M281.70 293.54L283.79 297.32L279.61 297.32Z" fill="#000"/><clipPath id="ce1"><rect x="16.70" y="375.00" width="101.60" height="150.10"/></clipPath><path d="M16.70 474.28 17.30 474.45 17.90 474.16 18.50 474.46 19.10 474.40 19.70 474.50 20.30 474.15 20.90 474.11 21.50 474.08 22.10 473.93 22.70 474.11 23.30 474.17 23.90 474.32 24.50 474.14 25.10 474.39 25.70 474.08 26.30 474.12 26.90 473.69 27.50 473.61 28.10 473.47 28.70 473.14 29.30 472.78 29.90 473.07 30.50 472.92 31.10 472.86 31.70 472.81 32.30 472.73 32.90 472.35 33.50 472.78 34.10 472.20 34.70 472.43 35.30 472.64 35.90 472.37 36.50 472.11 37.10 472.35 37.70 472.13 38.30 471.87 38.90 471.59 39.50 470.80 40.10 470.57 40.70 470.38 41.30 470.44 41.90 470.52 42.50 470.73 43.10 470.49 43.70 470.25 44.30 470.04 44.90 469.34 45.50 469.08 46.10 468.58 46.70 467.95 47.30 467.61 47.90 466.86 48.50 466.09 49.10 465.34 49.70 464.79 50.30 463.69 50.90 463.24 51.50 462.01 52.10 460.73 52.70 459.78 53.30 458.52 53.90 456.90 54.50 455.61 55.10 454.06 55.70 451.77 56.30 449.84 56.90 447.18 57.50 444.94 58.10 442.28 58.70 439.64 59.30 436.83 59.90 434.07 60.50 430.12 61.10 426.78 61.70 423.34 62.30 419.42 62.90 416.18 63.50 412.79 64.10 409.54 64.70 406.28 65.30 403.24 65.90 400.03 66.50 397.25 67.10 395.04 67.70 392.72 68.30 391.33 68.90 390.66 69.03 390.47 69.50 390.06 69.53 390.17 70.03 389.99 70.10 390.30 70.70 391.23 71.30 392.79 71.90 394.79 72.50 396.97 73.10 400.12 73.70 402.80 74.30 405.98 74.90 409.57 75.50 413.29 76.10 416.27 76.70 420.12 77.30 423.19 77.90 426.31 78.50 429.59 79.10 432.68 79.70 436.07 80.30 439.25 80.90 441.58 81.50 444.16 82.10 446.76 82.70 448.90 83.30 451.00 83.90 453.36 84.50 455.43 85.10 457.49 85.70 458.92 86.30 460.56 86.90 461.69 87.50 462.69 88.10 463.59 88.70 464.12 89.30 465.00 89.90 466.21 90.50 467.24 91.10 467.64 91.70 468.47 92.30 468.92 92.90 468.94 93.50 469.56 94.10 470.13 94.70 470.31 95.30 470.86 95.90 471.27 96.50 471.17 97.10 471.45 97.70 472.13 98.30 471.74 98.90 472.06 99.50 472.18 100.10 472.29 100.70 472.89 101.30 473.14 101.90 473.53 102.50 473.62 103.10 473.75 103.70 473.80 104.30 474.02 104.90 474.07 105.50 474.23 106.10 474.37 106.70 474.10 107.30 474.04 107.90 474.14 108.50 474.41 109.10 474.35 109.70 474.50 110.30 474.73 110.90 474.75 111.50 474.91 112.10 475.24 112.70 475.26 113.30 475.35 113.90 475.19 114.50 475.51 115.10 475.27 115.70 475.36 116.30 475.45 116.90 475.51 117.50 475.56 118.10 475.84" fill="none" stroke="#ff5cff" stroke-width="1.00" stroke-linejoin="round" clip-path="url(#ce1)"/><path d="M16.70 482.73 17.30 482.87 17.90 482.81 18.50 482.80 19.10 482.57 19.70 482.72 20.30 482.50 20.90 482.63 21.50 482.52 22.10 482.25 22.70 482.09 23.30 481.92 23.90 482.30 24.50 482.39 25.10 482.59 25.70 482.14 26.30 482.18 26.90 481.79 27.50 482.11 28.10 481.64 28.70 481.86 29.30 482.03 29.90 481.45 30.50 481.10 31.10 481.16 31.70 480.88 32.30 480.35 32.90 480.03 33.50 479.99 34.10 479.49 34.70 479.88 35.30 479.52 35.90 479.21 36.50 479.20 37.10 478.79 37.70 478.21 38.30 478.15 38.90 477.70 39.50 477.31 40.10 477.14 40.70 476.91 41.30 476.74 41.90 476.06 42.50 475.16 43.10 474.92 43.70 474.31 44.30 473.58 44.90 473.26 45.50 472.49 46.10 472.31 46.70 471.78 47.30 470.68 47.90 470.07 48.50 469.56 49.10 468.67 49.70 468.11 50.30 467.42 50.90 466.40 51.50 465.59 52.10 464.45 52.70 463.10 53.30 462.12 53.90 460.99 54.50 459.60 55.10 458.96 55.70 458.25 56.30 456.72 56.90 455.73 57.50 454.61 58.10 453.48 58.70 451.84 59.30 450.86 59.90 449.72 60.50 448.14 61.10 446.59 61.70 445.36 62.30 444.18 62.90 443.27 63.50 442.44 64.10 441.51 64.70 440.56 65.30 439.47 65.90 438.61 66.50 437.31 67.10 436.40 67.70 435.93 68.30 435.09 68.90 434.23 69.50 434.10 70.10 434.06 70.70 433.48 71.06 433.63 71.30 433.65 71.56 433.75 71.90 433.18 72.06 433.58 72.50 433.69 73.10 434.05 73.70 434.55 74.30 435.47 74.90 435.96 75.50 436.65 76.10 437.87 76.70 438.55 77.30 439.20 77.90 440.25 78.50 441.10 79.10 441.38 79.70 442.65 80.30 443.79 80.90 445.12 81.50 446.37 82.10 447.59 82.70 448.61 83.30 450.07 83.90 451.28 84.50 452.81 85.10 453.49 85.70 455.15 86.30 456.14 86.90 456.96 87.50 458.21 88.10 459.46 88.70 460.42 89.30 461.50 89.90 462.63 90.50 463.44 91.10 464.51 91.70 465.47 92.30 466.63 92.90 467.79 93.50 468.65 94.10 468.89 94.70 469.98 95.30 470.97 95.90 471.47 96.50 472.46 97.10 473.24 97.70 473.75 98.30 474.52 98.90 474.91 99.50 475.48 100.10 475.77 100.70 476.29 101.30 476.81 101.90 477.08 102.50 477.44 103.10 477.77 103.70 478.13 104.30 478.44 104.90 478.85 105.50 478.88 106.10 479.50 106.70 479.95 107.30 480.41 107.90 480.54 108.50 480.91 109.10 480.91 109.70 481.18 110.30 481.19 110.90 481.51 111.50 481.69 112.10 481.80 112.70 481.97 113.30 482.06 113.90 481.99 114.50 481.88 115.10 482.38 115.70 482.50 116.30 482.32 116.90 483.01 117.50 482.74 118.10 482.41" fill="none" stroke="#5555e6" stroke-width="1.00" stroke-linejoin="round" clip-path="url(#ce1)"/><path d="M16.70 494.09 17.30 493.88 17.90 493.70 18.50 493.79 19.10 494.17 19.70 494.09 20.30 494.14 20.90 493.98 21.50 493.42 22.10 493.49 22.70 493.27 23.30 493.02 23.90 493.05 24.50 493.06 25.10 492.52 25.70 492.61 26.30 492.81 26.90 492.50 27.50 492.32 28.10 492.46 28.70 492.54 29.30 492.21 29.90 492.58 30.50 492.24 31.10 492.35 31.70 492.08 32.30 491.76 32.90 491.67 33.50 491.83 34.10 491.39 34.70 491.20 35.30 491.30 35.90 491.34 36.50 490.97 37.10 490.91 37.70 490.89 38.30 490.28 38.90 489.97 39.50 489.64 40.10 489.40 40.70 488.84 41.30 488.97 41.90 488.67 42.50 488.54 43.10 488.07 43.70 488.27 44.30 487.82 44.90 486.92 45.50 486.47 46.10 486.23 46.70 485.58 47.30 485.43 47.90 485.11 48.50 484.33 49.10 483.73 49.70 483.34 50.30 482.79 50.90 482.32 51.50 482.11 52.10 481.41 52.70 481.02 53.30 479.82 53.90 479.30 54.50 478.70 55.10 478.38 55.70 477.85 56.30 477.47 56.90 476.39 57.50 475.81 58.10 474.97 58.70 473.85 59.30 473.18 59.90 472.78 60.50 472.27 61.10 471.25 61.70 470.63 62.30 470.00 62.90 469.45 63.50 469.03 64.10 468.31 64.70 467.91 65.30 467.09 65.90 466.66 66.50 466.34 67.10 466.14 67.70 465.84 68.30 464.84 68.90 464.78 69.50 464.37 70.10 463.70 70.70 463.57 71.30 462.89 71.90 462.58 72.50 462.61 73.10 462.26 73.10 462.57 73.60 463.10 73.70 463.34 74.10 463.05 74.30 463.09 74.90 462.92 75.50 462.31 76.10 462.52 76.70 462.79 77.30 463.34 77.90 463.81 78.50 464.28 79.10 464.95 79.70 465.59 80.30 466.01 80.90 466.45 81.50 467.25 82.10 467.71 82.70 468.17 83.30 468.89 83.90 469.40 84.50 469.74 85.10 470.78 85.70 471.20 86.30 471.75 86.90 472.42 87.50 473.41 88.10 473.47 88.70 474.12 89.30 474.80 89.90 474.86 90.50 475.68 91.10 476.36 91.70 477.24 92.30 477.77 92.90 478.62 93.50 479.14 94.10 480.15 94.70 480.50 95.30 481.34 95.90 481.32 96.50 481.90 97.10 482.49 97.70 482.67 98.30 483.02 98.90 483.82 99.50 484.11 100.10 484.51 100.70 484.98 101.30 485.29 101.90 485.71 102.50 485.77 103.10 486.63 103.70 486.63 104.30 487.04 104.90 487.02 105.50 487.06 106.10 487.03 106.70 487.51 107.30 488.15 107.90 488.22 108.50 488.34 109.10 488.84 109.70 489.12 110.30 489.23 110.90 489.67 111.50 489.98 112.10 490.08 112.70 490.57 113.30 490.63 113.90 490.55 114.50 490.54 115.10 490.47 115.70 490.37 116.30 490.12 116.90 490.55 117.50 490.56 118.10 491.02" fill="none" stroke="#f25252" stroke-width="1.00" stroke-linejoin="round" clip-path="url(#ce1)"/><path d="M16.70 504.17 17.30 503.95 17.90 503.74 18.50 504.21 19.10 503.90 19.70 503.66 20.30 504.00 20.90 504.18 21.50 503.44 22.10 503.86 22.70 504.04 23.30 503.92 23.90 503.29 24.50 503.57 25.10 502.85 25.70 502.55 26.30 501.96 26.90 502.12 27.50 501.92 28.10 501.81 28.70 501.92 29.30 501.94 29.90 501.78 30.50 501.71 31.10 501.25 31.70 501.11 32.30 501.28 32.90 500.65 33.50 500.41 34.10 500.07 34.70 500.06 35.30 499.85 35.90 499.89 36.50 499.77 37.10 499.84 37.70 499.69 38.30 499.35 38.90 498.67 39.50 498.69 40.10 498.02 40.70 497.59 41.30 497.48 41.90 496.88 42.50 496.47 43.10 496.05 43.70 495.85 44.30 495.40 44.90 494.97 45.50 494.43 46.10 494.04 46.70 493.74 47.30 492.76 47.90 492.31 48.50 492.13 49.10 491.39 49.70 490.72 50.30 490.41 50.90 490.10 51.50 489.10 52.10 489.03 52.70 488.38 53.30 487.76 53.90 487.22 54.50 486.92 55.10 486.42 55.70 485.59 56.30 485.32 56.90 484.69 57.50 483.87 58.10 483.38 58.70 482.82 59.30 482.20 59.90 481.03 60.50 480.21 61.10 480.08 61.70 479.98 62.30 479.21 62.90 479.05 63.50 478.80 64.10 477.84 64.70 477.23 65.30 476.80 65.90 476.53 66.50 476.11 67.10 475.42 67.70 475.01 68.30 474.43 68.90 474.10 69.50 473.61 70.10 473.77 70.70 473.44 71.30 473.67 71.90 473.76 72.50 473.83 73.10 473.61 73.10 473.19 73.60 472.90 73.70 472.59 74.10 472.44 74.30 472.47 74.90 472.73 75.50 473.15 76.10 473.62 76.70 473.56 77.30 473.85 77.90 473.59 78.50 474.23 79.10 474.51 79.70 475.13 80.30 475.61 80.90 476.14 81.50 476.67 82.10 476.86 82.70 477.65 83.30 478.39 83.90 478.85 84.50 478.65 85.10 479.55 85.70 479.80 86.30 480.58 86.90 481.56 87.50 482.22 88.10 482.67 88.70 483.40 89.30 483.81 89.90 484.23 90.50 484.85 91.10 485.08 91.70 485.65 92.30 486.17 92.90 486.97 93.50 487.69 94.10 488.75 94.70 489.35 95.30 489.64 95.90 489.93 96.50 490.57 97.10 490.75 97.70 491.57 98.30 492.32 98.90 492.67 99.50 493.13 100.10 493.52 100.70 493.76 101.30 494.32 101.90 494.87 102.50 495.26 103.10 495.85 103.70 495.86 104.30 496.10 104.90 496.43 105.50 497.08 106.10 497.28 106.70 497.80 107.30 498.63 107.90 498.88 108.50 498.94 109.10 499.10 109.70 499.37 110.30 499.17 110.90 499.34 111.50 499.97 112.10 500.13 112.70 500.20 113.30 500.46 113.90 500.63 114.50 501.11 115.10 500.96 115.70 501.47 116.30 501.61 116.90 501.81 117.50 501.78 118.10 502.08" fill="none" stroke="#3a3a3a" stroke-width="1.00" stroke-linejoin="round" clip-path="url(#ce1)"/><line x1="16.70" y1="525.10" x2="16.70" y2="523.10" stroke="#777" stroke-width="0.8"/><line x1="29.40" y1="525.10" x2="29.40" y2="523.70" stroke="#777" stroke-width="0.8"/><line x1="42.10" y1="525.10" x2="42.10" y2="523.10" stroke="#777" stroke-width="0.8"/><line x1="54.80" y1="525.10" x2="54.80" y2="523.70" stroke="#777" stroke-width="0.8"/><line x1="67.50" y1="525.10" x2="67.50" y2="523.10" stroke="#777" stroke-width="0.8"/><line x1="80.20" y1="525.10" x2="80.20" y2="523.70" stroke="#777" stroke-width="0.8"/><line x1="92.90" y1="525.10" x2="92.90" y2="523.10" stroke="#777" stroke-width="0.8"/><line x1="105.60" y1="525.10" x2="105.60" y2="523.70" stroke="#777" stroke-width="0.8"/><line x1="118.30" y1="525.10" x2="118.30" y2="523.10" stroke="#777" stroke-width="0.8"/><rect x="16.70" y="375.00" width="101.60" height="150.10" fill="none" stroke="#8c8c8c" stroke-width="1.20"/><text x="16.20" y="532.80" font-size="7.70" fill="#3a3a3a" stroke="#3a3a3a" stroke-width="0.20" text-anchor="middle" font-weight="normal" font-family="Liberation Serif">39.5</text><text x="40.60" y="532.80" font-size="7.70" fill="#3a3a3a" stroke="#3a3a3a" stroke-width="0.20" text-anchor="middle" font-weight="normal" font-family="Liberation Serif">40.0</text><text x="65.50" y="532.80" font-size="7.70" fill="#3a3a3a" stroke="#3a3a3a" stroke-width="0.20" text-anchor="middle" font-weight="normal" font-family="Liberation Serif">40.5</text><text x="90.40" y="532.80" font-size="7.70" fill="#3a3a3a" stroke="#3a3a3a" stroke-width="0.20" text-anchor="middle" font-weight="normal" font-family="Liberation Serif">41.0</text><text x="115.30" y="532.80" font-size="7.70" fill="#3a3a3a" stroke="#3a3a3a" stroke-width="0.20" text-anchor="middle" font-weight="normal" font-family="Liberation Serif">41.5</text><text x="63.00" y="544.60" font-size="9.60" fill="#333" stroke="#333" stroke-width="0.20" text-anchor="middle" font-weight="normal" font-family="Liberation Serif">2θ (°)</text><text x="12.70" y="454.00" font-size="9.20" fill="#333" stroke="#333" stroke-width="0.20" text-anchor="middle" font-weight="normal" font-family="Liberation Serif" transform="rotate(-90 12.70 454.00)">Intensity (a.u.)</text><text x="21.70" y="387.60" font-size="12.80" fill="#111" stroke="#111" stroke-width="0.20" text-anchor="start" font-weight="bold" font-family="Liberation Serif">(e1)</text><clipPath id="ce2"><rect x="130.50" y="375.00" width="100.70" height="150.10"/></clipPath><path d="M130.50 473.66 131.10 473.47 131.70 473.80 132.30 474.13 132.90 473.67 133.50 473.66 134.10 473.44 134.70 473.46 135.30 473.19 135.90 473.74 136.50 473.43 137.10 473.86 137.70 473.34 138.30 473.83 138.90 473.63 139.50 473.49 140.10 473.54 140.70 473.51 141.30 473.69 141.90 473.86 142.50 473.79 143.10 473.64 143.70 473.46 144.30 473.39 144.90 473.05 145.50 472.63 146.10 472.62 146.70 472.64 147.30 472.49 147.90 472.35 148.50 472.37 149.10 471.89 149.70 471.70 150.30 471.53 150.90 471.51 151.50 471.67 152.10 471.54 152.70 471.07 153.30 470.98 153.90 470.66 154.50 470.26 155.10 469.91 155.70 469.56 156.30 469.29 156.90 468.71 157.50 468.59 158.10 467.98 158.70 467.73 159.30 467.11 159.90 466.24 160.50 465.41 161.10 464.64 161.70 464.13 162.30 463.27 162.90 462.55 163.50 461.69 164.10 460.14 164.70 458.81 165.30 457.79 165.90 456.05 166.50 454.27 167.10 452.93 167.70 451.27 168.30 449.19 168.90 447.28 169.50 444.83 170.10 442.43 170.70 439.80 171.30 437.60 171.90 434.78 172.50 432.40 173.10 429.62 173.70 426.78 174.30 423.61 174.90 421.24 175.50 418.05 176.10 415.09 176.70 412.53 177.30 410.25 177.90 407.96 178.50 406.26 179.10 404.70 179.70 404.04 180.30 403.30 180.35 403.44 180.85 403.45 180.90 403.32 181.35 403.70 181.50 403.25 182.10 404.16 182.70 405.19 183.30 406.84 183.90 408.52 184.50 411.21 185.10 413.81 185.70 416.55 186.30 418.92 186.90 421.86 187.50 424.34 188.10 427.16 188.70 430.14 189.30 432.85 189.90 435.61 190.50 438.21 191.10 440.95 191.70 443.29 192.30 445.62 192.90 447.89 193.50 449.79 194.10 451.39 194.70 453.26 195.30 455.12 195.90 456.85 196.50 458.25 197.10 460.26 197.70 461.48 198.30 462.72 198.90 463.83 199.50 464.58 200.10 465.00 200.70 465.86 201.30 466.72 201.90 467.71 202.50 468.62 203.10 469.41 203.70 470.24 204.30 470.19 204.90 470.59 205.50 471.13 206.10 471.42 206.70 471.36 207.30 471.41 207.90 471.84 208.50 471.69 209.10 471.91 209.70 472.25 210.30 472.19 210.90 472.40 211.50 472.71 212.10 473.28 212.70 473.67 213.30 473.94 213.90 473.55 214.50 474.44 215.10 474.19 215.70 473.85 216.30 474.19 216.90 474.58 217.50 474.78 218.10 475.16 218.70 474.91 219.30 475.10 219.90 474.92 220.50 475.32 221.10 475.34 221.70 475.76 222.30 475.82 222.90 475.97 223.50 476.05 224.10 476.13 224.70 475.89 225.30 475.98 225.90 475.78 226.50 475.92 227.10 475.62 227.70 475.62 228.30 475.60 228.90 475.85 229.50 475.74 230.10 476.06 230.70 475.84" fill="none" stroke="#ff5cff" stroke-width="1.00" stroke-linejoin="round" clip-path="url(#ce2)"/><path d="M130.50 480.87 131.10 480.86 131.70 481.15 132.30 481.14 132.90 480.99 133.50 481.26 134.10 481.28 134.70 481.14 135.30 480.97 135.90 481.05 136.50 481.18 137.10 480.98 137.70 480.85 138.30 480.39 138.90 480.68 139.50 480.37 140.10 480.25 140.70 480.31 141.30 480.17 141.90 479.91 142.50 480.08 143.10 479.88 143.70 479.84 144.30 479.90 144.90 479.67 145.50 479.76 146.10 479.87 146.70 479.73 147.30 479.33 147.90 479.34 148.50 479.07 149.10 478.27 149.70 477.92 150.30 477.95 150.90 477.21 151.50 477.13 152.10 476.92 152.70 476.47 153.30 476.19 153.90 475.98 154.50 475.89 155.10 475.88 155.70 475.33 156.30 474.72 156.90 474.30 157.50 473.82 158.10 473.40 158.70 472.72 159.30 472.71 159.90 472.01 160.50 471.45 161.10 471.03 161.70 470.45 162.30 469.83 162.90 468.90 163.50 468.11 164.10 467.42 164.70 466.87 165.30 465.92 165.90 465.50 166.50 465.14 167.10 464.15 167.70 463.52 168.30 462.69 168.90 461.80 169.50 460.82 170.10 459.79 170.70 458.86 171.30 458.00 171.90 457.34 172.50 456.61 173.10 456.10 173.70 455.31 174.30 454.21 174.90 453.36 175.50 452.16 176.10 451.60 176.70 450.32 177.30 449.68 177.90 449.56 178.50 449.23 179.10 448.53 179.70 449.13 180.30 448.89 180.90 448.43 181.36 448.67 181.50 448.70 181.86 448.30 182.10 448.69 182.36 448.70 182.70 448.47 183.30 448.78 183.90 449.18 184.50 448.87 185.10 449.18 185.70 449.91 186.30 450.31 186.90 451.42 187.50 451.66 188.10 452.36 188.70 453.28 189.30 454.00 189.90 454.90 190.50 456.16 191.10 456.77 191.70 457.71 192.30 458.52 192.90 459.18 193.50 460.20 194.10 461.84 194.70 462.40 195.30 463.57 195.90 464.45 196.50 465.23 197.10 465.36 197.70 466.08 198.30 466.87 198.90 467.65 199.50 468.19 200.10 469.56 200.70 470.27 201.30 471.19 201.90 471.53 202.50 472.35 203.10 472.82 203.70 473.38 204.30 474.01 204.90 474.90 205.50 475.09 206.10 475.45 206.70 476.10 207.30 476.26 207.90 477.02 208.50 477.64 209.10 478.13 209.70 478.30 210.30 478.52 210.90 478.50 211.50 478.93 212.10 479.25 212.70 479.45 213.30 479.91 213.90 480.31 214.50 480.72 215.10 480.98 215.70 480.95 216.30 481.25 216.90 481.14 217.50 481.21 218.10 481.08 218.70 481.45 219.30 481.76 219.90 482.20 220.50 482.24 221.10 482.61 221.70 482.61 222.30 483.11 222.90 483.10 223.50 483.01 224.10 482.93 224.70 483.46 225.30 483.18 225.90 483.62 226.50 484.19 227.10 484.26 227.70 484.13 228.30 484.42 228.90 484.18 229.50 484.37 230.10 484.67 230.70 484.85" fill="none" stroke="#5555e6" stroke-width="1.00" stroke-linejoin="round" clip-path="url(#ce2)"/><path d="M130.50 491.06 131.10 491.36 131.70 491.28 132.30 491.40 132.90 491.33 133.50 491.25 134.10 491.16 134.70 491.18 135.30 491.08 135.90 491.21 136.50 491.29 137.10 490.92 137.70 490.87 138.30 490.48 138.90 490.17 139.50 490.03 140.10 489.97 140.70 489.95 141.30 490.12 141.90 490.57 142.50 490.59 143.10 490.36 143.70 490.52 144.30 489.94 144.90 490.00 145.50 489.81 146.10 489.65 146.70 489.19 147.30 489.34 147.90 488.66 148.50 488.63 149.10 488.62 149.70 488.40 150.30 488.23 150.90 488.55 151.50 488.72 152.10 488.46 152.70 488.20 153.30 487.25 153.90 487.00 154.50 486.90 155.10 486.56 155.70 486.42 156.30 486.14 156.90 485.81 157.50 485.74 158.10 485.41 158.70 485.39 159.30 484.71 159.90 484.50 160.50 483.90 161.10 483.66 161.70 483.50 162.30 483.16 162.90 482.59 163.50 482.58 164.10 482.18 164.70 481.41 165.30 481.15 165.90 480.87 166.50 480.13 167.10 479.53 167.70 478.94 168.30 478.34 168.90 477.95 169.50 477.74 170.10 477.48 170.70 476.93 171.30 476.85 171.90 476.30 172.50 475.55 173.10 475.04 173.70 474.64 174.30 474.00 174.90 473.68 175.50 473.25 176.10 472.86 176.70 472.48 177.30 472.19 177.90 472.06 178.50 471.79 179.10 471.53 179.70 471.38 180.30 471.36 180.90 470.82 181.50 470.70 182.10 470.67 182.70 470.36 182.87 470.42 183.30 470.62 183.37 470.50 183.87 470.29 183.90 470.69 184.50 471.10 185.10 470.58 185.70 470.63 186.30 470.74 186.90 470.43 187.50 471.02 188.10 471.64 188.70 472.12 189.30 472.85 189.90 473.61 190.50 473.52 191.10 474.02 191.70 474.77 192.30 474.76 192.90 474.65 193.50 474.81 194.10 475.56 194.70 475.89 195.30 476.26 195.90 477.31 196.50 477.60 197.10 478.26 197.70 478.60 198.30 479.34 198.90 479.46 199.50 480.07 200.10 480.48 200.70 480.69 201.30 480.95 201.90 481.78 202.50 482.36 203.10 482.77 203.70 483.34 204.30 483.73 204.90 483.78 205.50 483.95 206.10 484.54 206.70 485.15 207.30 485.98 207.90 486.43 208.50 487.03 209.10 487.53 209.70 487.46 210.30 487.32 210.90 487.72 211.50 488.01 212.10 488.50 212.70 488.88 213.30 489.11 213.90 489.27 214.50 489.33 215.10 489.21 215.70 489.67 216.30 489.77 216.90 489.96 217.50 490.48 218.10 491.08 218.70 491.23 219.30 491.52 219.90 491.54 220.50 491.53 221.10 491.71 221.70 491.98 222.30 491.98 222.90 492.41 223.50 492.66 224.10 492.50 224.70 492.84 225.30 492.95 225.90 493.03 226.50 492.96 227.10 493.41 227.70 493.01 228.30 493.36 228.90 493.18 229.50 493.40 230.10 493.52 230.70 493.79" fill="none" stroke="#f25252" stroke-width="1.00" stroke-linejoin="round" clip-path="url(#ce2)"/><path d="M130.50 502.27 131.10 502.00 131.70 501.91 132.30 502.32 132.90 501.82 133.50 501.96 134.10 501.97 134.70 501.73 135.30 501.62 135.90 501.45 136.50 501.60 137.10 501.10 137.70 501.37 138.30 501.48 138.90 501.39 139.50 501.24 140.10 500.76 140.70 500.49 141.30 500.51 141.90 500.22 142.50 500.61 143.10 500.58 143.70 500.46 144.30 499.76 144.90 499.91 145.50 500.03 146.10 499.89 146.70 499.76 147.30 499.34 147.90 499.00 148.50 498.18 149.10 498.21 149.70 497.88 150.30 497.91 150.90 498.12 151.50 498.13 152.10 497.75 152.70 497.96 153.30 497.52 153.90 497.42 154.50 496.99 155.10 497.06 155.70 497.01 156.30 496.63 156.90 496.25 157.50 495.90 158.10 495.79 158.70 495.36 159.30 495.18 159.90 495.41 160.50 495.90 161.10 496.18 161.70 496.24 162.30 496.33 162.90 495.99 163.50 495.41 164.10 495.36 164.70 495.02 165.30 494.66 165.90 494.48 166.50 494.68 167.10 494.21 167.70 494.31 168.30 494.09 168.90 493.93 169.50 493.64 170.10 493.60 170.70 493.46 171.30 493.21 171.90 493.22 172.50 493.31 173.10 493.53 173.70 493.59 174.30 493.91 174.81 493.84 174.90 493.73 175.31 493.68 175.50 493.46 175.81 493.24 176.10 493.23 176.70 493.25 177.30 493.45 177.90 493.53 178.50 493.69 179.10 493.92 179.70 493.82 180.30 493.69 180.90 493.99 181.50 493.86 182.10 494.33 182.70 494.24 183.30 494.57 183.90 494.45 184.50 494.60 185.10 494.49 185.70 494.63 186.30 494.51 186.90 494.61 187.50 494.82 188.10 495.19 188.70 495.65 189.30 496.02 189.90 495.84 190.50 496.17 191.10 496.13 191.70 495.90 192.30 495.94 192.90 496.25 193.50 496.75 194.10 496.89 194.70 497.22 195.30 497.54 195.90 497.46 196.50 497.56 197.10 498.10 197.70 498.56 198.30 498.35 198.90 498.96 199.50 498.84 200.10 499.13 200.70 499.28 201.30 499.84 201.90 499.73 202.50 499.63 203.10 499.64 203.70 500.14 204.30 500.27 204.90 500.36 205.50 500.47 206.10 500.81 206.70 500.82 207.30 500.84 207.90 501.14 208.50 501.26 209.10 501.37 209.70 501.51 210.30 501.68 210.90 501.67 211.50 502.18 212.10 502.27 212.70 502.65 213.30 502.34 213.90 502.55 214.50 502.25 215.10 502.61 215.70 502.54 216.30 502.67 216.90 502.58 217.50 502.85 218.10 502.43 218.70 502.77 219.30 502.53 219.90 502.93 220.50 503.22 221.10 503.46 221.70 503.73 222.30 503.87 222.90 503.77 223.50 503.50 224.10 503.81 224.70 503.93 225.30 504.27 225.90 504.00 226.50 504.34 227.10 504.33 227.70 504.50 228.30 504.09 228.90 504.16 229.50 504.18 230.10 504.29 230.70 504.22" fill="none" stroke="#3a3a3a" stroke-width="1.00" stroke-linejoin="round" clip-path="url(#ce2)"/><line x1="130.50" y1="525.10" x2="130.50" y2="523.10" stroke="#777" stroke-width="0.8"/><line x1="143.09" y1="525.10" x2="143.09" y2="523.70" stroke="#777" stroke-width="0.8"/><line x1="155.68" y1="525.10" x2="155.68" y2="523.10" stroke="#777" stroke-width="0.8"/><line x1="168.26" y1="525.10" x2="168.26" y2="523.70" stroke="#777" stroke-width="0.8"/><line x1="180.85" y1="525.10" x2="180.85" y2="523.10" stroke="#777" stroke-width="0.8"/><line x1="193.44" y1="525.10" x2="193.44" y2="523.70" stroke="#777" stroke-width="0.8"/><line x1="206.02" y1="525.10" x2="206.02" y2="523.10" stroke="#777" stroke-width="0.8"/><line x1="218.61" y1="525.10" x2="218.61" y2="523.70" stroke="#777" stroke-width="0.8"/><line x1="231.20" y1="525.10" x2="231.20" y2="523.10" stroke="#777" stroke-width="0.8"/><rect x="130.50" y="375.00" width="100.70" height="150.10" fill="none" stroke="#8c8c8c" stroke-width="1.20"/><text x="130.00" y="532.80" font-size="7.70" fill="#3a3a3a" stroke="#3a3a3a" stroke-width="0.20" text-anchor="middle" font-weight="normal" font-family="Liberation Serif">39.5</text><text x="154.18" y="532.80" font-size="7.70" fill="#3a3a3a" stroke="#3a3a3a" stroke-width="0.20" text-anchor="middle" font-weight="normal" font-family="Liberation Serif">40.0</text><text x="178.85" y="532.80" font-size="7.70" fill="#3a3a3a" stroke="#3a3a3a" stroke-width="0.20" text-anchor="middle" font-weight="normal" font-family="Liberation Serif">40.5</text><text x="203.52" y="532.80" font-size="7.70" fill="#3a3a3a" stroke="#3a3a3a" stroke-width="0.20" text-anchor="middle" font-weight="normal" font-family="Liberation Serif">41.0</text><text x="228.20" y="532.80" font-size="7.70" fill="#3a3a3a" stroke="#3a3a3a" stroke-width="0.20" text-anchor="middle" font-weight="normal" font-family="Liberation Serif">41.5</text><text x="176.35" y="544.60" font-size="9.60" fill="#333" stroke="#333" stroke-width="0.20" text-anchor="middle" font-weight="normal" font-family="Liberation Serif">2θ (°)</text><text x="126.50" y="454.00" font-size="9.20" fill="#333" stroke="#333" stroke-width="0.20" text-anchor="middle" font-weight="normal" font-family="Liberation Serif" transform="rotate(-90 126.50 454.00)">Intensity (a.u.)</text><text x="135.50" y="387.60" font-size="12.80" fill="#111" stroke="#111" stroke-width="0.20" text-anchor="start" font-weight="bold" font-family="Liberation Serif">(e2)</text><clipPath id="ce3"><rect x="245.50" y="375.00" width="101.30" height="150.10"/></clipPath><path d="M245.50 474.02 246.10 474.42 246.70 474.28 247.30 474.55 247.90 474.33 248.50 474.03 249.10 474.18 249.70 474.20 250.30 473.91 250.90 474.00 251.50 473.71 252.10 473.82 252.70 473.71 253.30 474.01 253.90 473.72 254.50 473.96 255.10 473.97 255.70 473.78 256.30 473.75 256.90 473.53 257.50 473.25 258.10 472.65 258.70 472.69 259.30 472.97 259.90 472.96 260.50 473.19 261.10 473.24 261.70 473.51 262.30 473.24 262.90 473.01 263.50 472.89 264.10 472.35 264.70 472.29 265.30 472.23 265.90 472.17 266.50 472.26 267.10 472.09 267.70 471.77 268.30 471.69 268.90 471.62 269.50 471.28 270.10 471.12 270.70 470.77 271.30 470.16 271.90 469.80 272.50 469.89 273.10 469.95 273.70 469.59 274.30 469.93 274.90 469.17 275.50 468.23 276.10 467.78 276.70 466.78 277.30 465.89 277.90 464.84 278.50 464.45 279.10 463.51 279.70 462.87 280.30 461.82 280.90 460.99 281.50 459.94 282.10 458.53 282.70 457.04 283.30 455.60 283.90 454.15 284.50 452.59 285.10 450.66 285.70 449.05 286.30 447.06 286.90 444.67 287.50 442.42 288.10 440.36 288.70 437.95 289.30 435.40 289.90 433.72 290.50 430.80 291.10 428.67 291.70 426.50 292.30 424.18 292.90 422.23 293.50 419.95 294.10 418.47 294.70 417.49 295.30 416.34 295.65 416.14 295.90 416.31 296.15 416.26 296.50 416.26 296.65 416.33 297.10 416.29 297.70 417.20 298.30 418.72 298.90 420.24 299.50 422.26 300.10 424.29 300.70 426.71 301.30 428.68 301.90 430.98 302.50 433.52 303.10 436.33 303.70 438.78 304.30 441.06 304.90 443.52 305.50 445.73 306.10 447.94 306.70 450.10 307.30 451.71 307.90 453.63 308.50 455.28 309.10 456.69 309.70 458.32 310.30 459.55 310.90 460.47 311.50 461.93 312.10 463.18 312.70 463.87 313.30 465.16 313.90 466.25 314.50 466.62 315.10 467.34 315.70 467.85 316.30 468.42 316.90 468.83 317.50 469.45 318.10 469.97 318.70 470.45 319.30 470.80 319.90 470.82 320.50 470.97 321.10 471.56 321.70 471.58 322.30 471.76 322.90 471.93 323.50 472.12 324.10 472.51 324.70 472.82 325.30 472.84 325.90 473.25 326.50 473.00 327.10 473.33 327.70 473.15 328.30 473.98 328.90 473.64 329.50 474.19 330.10 474.45 330.70 474.53 331.30 474.47 331.90 474.54 332.50 474.27 333.10 474.37 333.70 474.34 334.30 474.32 334.90 473.98 335.50 474.12 336.10 474.37 336.70 474.65 337.30 474.86 337.90 474.99 338.50 474.93 339.10 474.71 339.70 474.98 340.30 474.91 340.90 475.02 341.50 475.09 342.10 474.94 342.70 475.06 343.30 475.07 343.90 474.96 344.50 475.14 345.10 475.66 345.70 475.48 346.30 475.85" fill="none" stroke="#ff5cff" stroke-width="1.00" stroke-linejoin="round" clip-path="url(#ce3)"/><path d="M245.50 482.44 246.10 482.31 246.70 482.44 247.30 482.68 247.90 482.25 248.50 481.65 249.10 482.00 249.70 481.11 250.30 481.15 250.90 481.19 251.50 481.63 252.10 481.53 252.70 481.86 253.30 481.85 253.90 482.21 254.50 481.81 255.10 482.03 255.70 481.51 256.30 481.19 256.90 480.55 257.50 480.77 258.10 480.21 258.70 480.19 259.30 480.36 259.90 480.31 260.50 480.37 261.10 480.25 261.70 480.17 262.30 480.32 262.90 480.25 263.50 479.95 264.10 480.21 264.70 479.81 265.30 479.42 265.90 478.83 266.50 478.77 267.10 478.63 267.70 478.28 268.30 478.54 268.90 478.70 269.50 478.34 270.10 478.01 270.70 477.84 271.30 477.21 271.90 476.73 272.50 476.13 273.10 475.44 273.70 475.17 274.30 474.68 274.90 474.20 275.50 474.01 276.10 473.77 276.70 473.11 277.30 472.84 277.90 472.21 278.50 471.67 279.10 471.22 279.70 470.36 280.30 470.49 280.90 470.23 281.50 469.39 282.10 468.56 282.70 468.29 283.30 467.21 283.90 466.40 284.50 465.69 285.10 464.83 285.70 463.97 286.30 463.30 286.90 462.24 287.50 461.85 288.10 460.92 288.70 460.26 289.30 459.09 289.90 458.43 290.50 457.20 291.10 456.56 291.70 455.48 292.30 455.22 292.90 454.50 293.50 453.97 294.10 453.23 294.70 453.00 295.30 452.47 295.90 451.95 296.50 451.88 297.10 451.69 297.17 451.75 297.67 451.58 297.70 451.71 298.17 451.43 298.30 451.75 298.90 452.15 299.50 452.16 300.10 452.72 300.70 453.29 301.30 453.98 301.90 454.10 302.50 454.98 303.10 455.55 303.70 456.51 304.30 457.15 304.90 457.84 305.50 459.15 306.10 459.80 306.70 460.15 307.30 460.96 307.90 461.99 308.50 462.42 309.10 463.49 309.70 464.54 310.30 465.29 310.90 466.16 311.50 467.03 312.10 467.46 312.70 468.29 313.30 468.98 313.90 470.04 314.50 470.91 315.10 471.71 315.70 472.07 316.30 473.02 316.90 473.31 317.50 473.96 318.10 474.68 318.70 475.31 319.30 475.45 319.90 476.09 320.50 476.19 321.10 476.70 321.70 477.11 322.30 477.01 322.90 477.52 323.50 478.25 324.10 478.12 324.70 478.94 325.30 479.56 325.90 479.55 326.50 479.66 327.10 480.32 327.70 480.45 328.30 480.91 328.90 481.37 329.50 481.36 330.10 481.81 330.70 481.71 331.30 481.59 331.90 481.63 332.50 482.03 333.10 482.03 333.70 482.37 334.30 482.70 334.90 482.95 335.50 482.90 336.10 483.08 336.70 483.00 337.30 483.06 337.90 483.50 338.50 483.53 339.10 483.94 339.70 484.26 340.30 484.55 340.90 484.27 341.50 484.60 342.10 484.34 342.70 484.55 343.30 484.39 343.90 484.59 344.50 484.77 345.10 484.82 345.70 484.63 346.30 484.65" fill="none" stroke="#5555e6" stroke-width="1.00" stroke-linejoin="round" clip-path="url(#ce3)"/><path d="M245.50 490.08 246.10 490.22 246.70 490.04 247.30 490.03 247.90 489.81 248.50 489.68 249.10 489.45 249.70 489.12 250.30 489.19 250.90 488.87 251.50 488.95 252.10 488.67 252.70 489.06 253.30 488.78 253.90 489.13 254.50 489.16 255.10 489.36 255.70 488.96 256.30 488.65 256.90 488.27 257.50 487.99 258.10 487.84 258.70 487.37 259.30 487.57 259.90 487.92 260.50 487.85 261.10 487.78 261.70 487.44 262.30 486.84 262.90 486.58 263.50 486.36 264.10 486.11 264.70 485.81 265.30 486.12 265.90 485.80 266.50 485.71 267.10 485.55 267.70 485.46 268.30 484.73 268.90 484.42 269.50 483.78 270.10 483.66 270.70 483.29 271.30 483.02 271.90 482.36 272.50 482.11 273.10 481.78 273.70 481.74 274.30 481.76 274.90 481.79 275.50 481.68 276.10 481.35 276.70 480.75 277.30 479.87 277.90 479.45 278.50 479.01 279.10 478.26 279.70 478.34 280.30 478.17 280.90 477.89 281.50 477.43 282.10 477.12 282.70 477.04 283.30 476.64 283.90 476.16 284.50 476.13 285.10 475.97 285.70 475.31 286.30 475.36 286.90 475.02 287.50 474.96 288.10 474.66 288.70 475.01 289.30 474.68 289.90 474.85 290.50 474.69 291.10 474.91 291.60 475.02 291.70 474.98 292.10 475.07 292.30 474.92 292.60 474.97 292.90 474.89 293.50 475.06 294.10 475.11 294.70 475.14 295.30 475.18 295.90 475.34 296.50 475.27 297.10 475.28 297.70 475.71 298.30 475.78 298.90 475.66 299.50 476.31 300.10 476.66 300.70 477.28 301.30 477.82 301.90 478.25 302.50 478.34 303.10 478.95 303.70 479.28 304.30 479.85 304.90 479.83 305.50 480.07 306.10 480.28 306.70 480.31 307.30 480.87 307.90 480.85 308.50 481.76 309.10 482.23 309.70 482.52 310.30 482.98 310.90 483.33 311.50 483.55 312.10 484.00 312.70 484.24 313.30 485.09 313.90 485.37 314.50 485.99 315.10 486.38 315.70 486.88 316.30 487.34 316.90 487.56 317.50 487.93 318.10 487.77 318.70 488.13 319.30 488.26 319.90 488.50 320.50 488.72 321.10 489.33 321.70 489.07 322.30 489.41 322.90 489.81 323.50 490.00 324.10 490.49 324.70 490.57 325.30 490.83 325.90 490.88 326.50 491.13 327.10 491.10 327.70 491.33 328.30 491.73 328.90 492.14 329.50 492.21 330.10 492.72 330.70 492.26 331.30 492.40 331.90 492.40 332.50 492.86 333.10 492.60 333.70 492.88 334.30 492.75 334.90 492.87 335.50 492.40 336.10 492.54 336.70 493.27 337.30 493.46 337.90 493.19 338.50 493.62 339.10 493.90 339.70 493.82 340.30 493.77 340.90 493.98 341.50 494.19 342.10 493.87 342.70 494.16 343.30 494.42 343.90 494.27 344.50 494.49 345.10 494.51 345.70 494.61 346.30 494.46" fill="none" stroke="#f25252" stroke-width="1.00" stroke-linejoin="round" clip-path="url(#ce3)"/><path d="M245.50 500.48 246.10 500.43 246.70 500.11 247.30 500.13 247.90 499.78 248.50 499.30 249.10 499.31 249.70 499.62 250.30 499.90 250.90 499.71 251.50 499.94 252.10 499.72 252.70 499.38 253.30 499.05 253.90 498.87 254.50 498.75 255.10 498.70 255.70 498.51 256.30 498.65 256.90 498.80 257.50 498.36 258.10 498.02 258.70 498.21 259.30 497.67 259.90 497.45 260.50 497.21 261.10 497.51 261.70 497.26 262.30 497.04 262.90 497.05 263.50 497.52 264.10 497.28 264.70 497.24 265.30 496.94 265.90 496.66 266.50 496.49 267.10 496.02 267.70 495.76 268.30 495.71 268.90 495.59 269.50 495.58 270.10 495.48 270.70 495.69 271.30 495.27 271.90 494.99 272.50 494.95 273.10 494.75 273.70 494.43 274.30 494.52 274.90 494.55 275.50 494.39 276.10 494.63 276.70 494.60 277.30 494.22 277.90 494.55 278.50 494.44 279.10 494.39 279.70 493.79 280.30 493.98 280.90 493.65 281.50 493.65 282.10 493.22 282.70 493.61 283.30 493.56 283.90 493.93 284.50 493.60 285.10 494.02 285.52 493.83 285.70 493.22 286.02 492.76 286.30 493.16 286.52 493.28 286.90 493.38 287.50 493.59 288.10 494.00 288.70 493.94 289.30 493.89 289.90 494.17 290.50 494.39 291.10 494.33 291.70 494.32 292.30 494.34 292.90 494.33 293.50 494.41 294.10 494.87 294.70 494.83 295.30 495.17 295.90 495.46 296.50 495.26 297.10 495.41 297.70 495.26 298.30 495.61 298.90 495.75 299.50 495.82 300.10 496.23 300.70 496.45 301.30 496.18 301.90 496.16 302.50 496.48 303.10 496.88 303.70 496.72 304.30 497.20 304.90 497.38 305.50 497.25 306.10 497.38 306.70 497.66 307.30 498.03 307.90 498.38 308.50 498.79 309.10 499.00 309.70 499.31 310.30 499.79 310.90 499.76 311.50 499.59 312.10 499.74 312.70 499.77 313.30 499.58 313.90 499.81 314.50 500.04 315.10 500.01 315.70 500.12 316.30 500.29 316.90 500.28 317.50 500.53 318.10 500.83 318.70 501.09 319.30 501.25 319.90 501.44 320.50 501.65 321.10 501.71 321.70 501.66 322.30 502.20 322.90 502.32 323.50 502.35 324.10 502.57 324.70 502.91 325.30 502.74 325.90 502.90 326.50 503.00 327.10 502.74 327.70 502.81 328.30 502.60 328.90 502.55 329.50 502.38 330.10 502.89 330.70 502.88 331.30 502.96 331.90 503.31 332.50 503.53 333.10 503.68 333.70 503.61 334.30 503.71 334.90 503.21 335.50 503.48 336.10 503.51 336.70 503.79 337.30 503.94 337.90 504.23 338.50 503.55 339.10 503.80 339.70 504.02 340.30 503.50 340.90 503.95 341.50 504.32 342.10 504.05 342.70 504.13 343.30 504.65 343.90 505.04 344.50 504.84 345.10 505.20 345.70 505.12 346.30 504.78" fill="none" stroke="#3a3a3a" stroke-width="1.00" stroke-linejoin="round" clip-path="url(#ce3)"/><line x1="245.50" y1="525.10" x2="245.50" y2="523.10" stroke="#777" stroke-width="0.8"/><line x1="258.16" y1="525.10" x2="258.16" y2="523.70" stroke="#777" stroke-width="0.8"/><line x1="270.82" y1="525.10" x2="270.82" y2="523.10" stroke="#777" stroke-width="0.8"/><line x1="283.49" y1="525.10" x2="283.49" y2="523.70" stroke="#777" stroke-width="0.8"/><line x1="296.15" y1="525.10" x2="296.15" y2="523.10" stroke="#777" stroke-width="0.8"/><line x1="308.81" y1="525.10" x2="308.81" y2="523.70" stroke="#777" stroke-width="0.8"/><line x1="321.48" y1="525.10" x2="321.48" y2="523.10" stroke="#777" stroke-width="0.8"/><line x1="334.14" y1="525.10" x2="334.14" y2="523.70" stroke="#777" stroke-width="0.8"/><line x1="346.80" y1="525.10" x2="346.80" y2="523.10" stroke="#777" stroke-width="0.8"/><rect x="245.50" y="375.00" width="101.30" height="150.10" fill="none" stroke="#8c8c8c" stroke-width="1.20"/><text x="245.00" y="532.80" font-size="7.70" fill="#3a3a3a" stroke="#3a3a3a" stroke-width="0.20" text-anchor="middle" font-weight="normal" font-family="Liberation Serif">39.5</text><text x="269.32" y="532.80" font-size="7.70" fill="#3a3a3a" stroke="#3a3a3a" stroke-width="0.20" text-anchor="middle" font-weight="normal" font-family="Liberation Serif">40.0</text><text x="294.15" y="532.80" font-size="7.70" fill="#3a3a3a" stroke="#3a3a3a" stroke-width="0.20" text-anchor="middle" font-weight="normal" font-family="Liberation Serif">40.5</text><text x="318.98" y="532.80" font-size="7.70" fill="#3a3a3a" stroke="#3a3a3a" stroke-width="0.20" text-anchor="middle" font-weight="normal" font-family="Liberation Serif">41.0</text><text x="343.80" y="532.80" font-size="7.70" fill="#3a3a3a" stroke="#3a3a3a" stroke-width="0.20" text-anchor="middle" font-weight="normal" font-family="Liberation Serif">41.5</text><text x="291.65" y="544.60" font-size="9.60" fill="#333" stroke="#333" stroke-width="0.20" text-anchor="middle" font-weight="normal" font-family="Liberation Serif">2θ (°)</text><text x="241.50" y="454.00" font-size="9.20" fill="#333" stroke="#333" stroke-width="0.20" text-anchor="middle" font-weight="normal" font-family="Liberation Serif" transform="rotate(-90 241.50 454.00)">Intensity (a.u.)</text><text x="250.50" y="387.60" font-size="12.80" fill="#111" stroke="#111" stroke-width="0.20" text-anchor="start" font-weight="bold" font-family="Liberation Serif">(e3)</text><clipPath id="ce4"><rect x="360.60" y="375.00" width="101.00" height="150.00"/></clipPath><path d="M360.60 474.41 361.20 474.26 361.80 474.07 362.40 474.20 363.00 474.14 363.60 474.39 364.20 474.82 364.80 474.48 365.40 474.28 366.00 474.39 366.60 474.13 367.20 474.18 367.80 473.86 368.40 473.96 369.00 473.69 369.60 474.42 370.20 474.19 370.80 474.17 371.40 474.40 372.00 474.24 372.60 473.87 373.20 473.97 373.80 473.92 374.40 473.17 375.00 473.50 375.60 473.39 376.20 473.38 376.80 473.29 377.40 473.60 378.00 473.60 378.60 473.45 379.20 473.35 379.80 473.70 380.40 473.35 381.00 473.22 381.60 472.85 382.20 472.89 382.80 472.72 383.40 472.59 384.00 472.68 384.60 472.99 385.20 472.92 385.80 473.01 386.40 472.64 387.00 472.39 387.60 471.97 388.20 471.75 388.80 471.32 389.40 471.07 390.00 470.59 390.60 470.74 391.20 470.67 391.80 470.41 392.40 469.85 393.00 469.43 393.60 468.83 394.20 468.33 394.80 468.23 395.40 467.31 396.00 466.43 396.60 465.75 397.20 464.54 397.80 463.36 398.40 462.42 399.00 461.30 399.60 460.20 400.20 459.09 400.80 457.53 401.40 455.93 402.00 454.90 402.60 453.58 403.20 451.83 403.80 450.19 404.40 448.83 405.00 447.27 405.60 445.52 406.20 443.51 406.80 442.11 407.40 440.78 408.00 439.25 408.60 437.44 409.20 436.31 409.80 435.23 410.40 434.32 411.00 433.74 411.60 433.38 411.61 433.74 412.11 433.51 412.20 434.00 412.61 434.12 412.80 434.20 413.40 434.25 414.00 434.98 414.60 436.03 415.20 436.84 415.80 438.06 416.40 439.11 417.00 440.73 417.60 442.42 418.20 444.30 418.80 445.81 419.40 448.23 420.00 450.12 420.60 451.63 421.20 453.32 421.80 454.61 422.40 455.79 423.00 457.15 423.60 458.91 424.20 459.93 424.80 461.23 425.40 462.54 426.00 463.42 426.60 464.21 427.20 465.48 427.80 466.11 428.40 467.29 429.00 468.29 429.60 468.72 430.20 469.21 430.80 469.77 431.40 470.03 432.00 470.41 432.60 470.54 433.20 470.91 433.80 471.33 434.40 471.64 435.00 471.78 435.60 472.35 436.20 472.69 436.80 473.27 437.40 473.45 438.00 473.28 438.60 473.66 439.20 473.85 439.80 473.82 440.40 473.98 441.00 474.44 441.60 474.30 442.20 473.97 442.80 474.27 443.40 474.30 444.00 474.03 444.60 474.71 445.20 475.23 445.80 475.46 446.40 475.35 447.00 475.38 447.60 475.22 448.20 475.37 448.80 475.35 449.40 475.56 450.00 475.68 450.60 475.80 451.20 475.74 451.80 476.00 452.40 475.96 453.00 476.51 453.60 476.87 454.20 476.65 454.80 476.43 455.40 476.38 456.00 476.07 456.60 476.03 457.20 476.44 457.80 476.78 458.40 476.50 459.00 476.50 459.60 476.76 460.20 476.69 460.80 476.35 461.40 476.72" fill="none" stroke="#ff5cff" stroke-width="1.00" stroke-linejoin="round" clip-path="url(#ce4)"/><path d="M360.60 482.25 361.20 482.31 361.80 482.21 362.40 482.36 363.00 482.86 363.60 482.74 364.20 482.23 364.80 482.36 365.40 482.45 366.00 482.19 366.60 482.31 367.20 482.46 367.80 482.20 368.40 482.27 369.00 481.95 369.60 481.96 370.20 481.69 370.80 481.80 371.40 481.49 372.00 481.67 372.60 481.44 373.20 481.62 373.80 481.11 374.40 481.19 375.00 480.81 375.60 480.70 376.20 480.97 376.80 480.99 377.40 480.86 378.00 481.24 378.60 481.03 379.20 480.70 379.80 480.39 380.40 480.19 381.00 479.61 381.60 479.92 382.20 479.44 382.80 479.24 383.40 479.51 384.00 479.06 384.60 478.59 385.20 478.44 385.80 478.25 386.40 477.54 387.00 477.77 387.60 477.52 388.20 477.20 388.80 476.77 389.40 476.61 390.00 475.80 390.60 475.64 391.20 475.08 391.80 474.82 392.40 474.19 393.00 473.65 393.60 473.45 394.20 472.95 394.80 472.43 395.40 471.64 396.00 471.29 396.60 470.52 397.20 469.72 397.80 469.17 398.40 468.90 399.00 468.54 399.60 468.15 400.20 467.75 400.80 467.24 401.40 466.52 402.00 465.75 402.60 465.01 403.20 464.24 403.80 463.62 404.40 463.25 405.00 462.80 405.60 462.20 406.20 462.03 406.80 461.96 407.40 461.11 408.00 460.68 408.60 460.66 409.20 459.99 409.80 460.02 410.40 460.03 410.60 460.46 411.00 460.06 411.10 460.10 411.60 460.04 411.60 460.08 412.20 460.00 412.80 460.20 413.40 460.36 414.00 461.05 414.60 461.46 415.20 462.04 415.80 462.72 416.40 463.51 417.00 463.98 417.60 464.43 418.20 464.98 418.80 465.74 419.40 466.15 420.00 466.39 420.60 466.64 421.20 467.15 421.80 467.74 422.40 468.22 423.00 469.28 423.60 469.85 424.20 470.35 424.80 471.08 425.40 471.70 426.00 472.13 426.60 473.07 427.20 473.86 427.80 474.15 428.40 474.68 429.00 475.04 429.60 475.46 430.20 475.91 430.80 476.17 431.40 476.75 432.00 477.66 432.60 478.34 433.20 478.71 433.80 479.30 434.40 479.56 435.00 479.75 435.60 480.10 436.20 480.00 436.80 480.20 437.40 480.31 438.00 480.68 438.60 481.12 439.20 481.63 439.80 481.74 440.40 481.87 441.00 482.23 441.60 482.65 442.20 482.87 442.80 483.16 443.40 483.56 444.00 483.53 444.60 483.26 445.20 483.15 445.80 483.61 446.40 483.53 447.00 483.68 447.60 483.93 448.20 483.99 448.80 483.75 449.40 484.07 450.00 484.11 450.60 484.34 451.20 484.84 451.80 484.99 452.40 484.59 453.00 484.86 453.60 484.67 454.20 484.88 454.80 484.94 455.40 485.13 456.00 485.39 456.60 485.24 457.20 485.50 457.80 485.68 458.40 485.54 459.00 485.62 459.60 485.60 460.20 485.88 460.80 485.88 461.40 485.94" fill="none" stroke="#5555e6" stroke-width="1.00" stroke-linejoin="round" clip-path="url(#ce4)"/><path d="M360.60 490.88 361.20 490.89 361.80 490.38 362.40 490.77 363.00 490.19 363.60 490.26 364.20 490.16 364.80 489.97 365.40 489.87 366.00 489.79 366.60 489.44 367.20 489.72 367.80 489.48 368.40 489.74 369.00 489.64 369.60 489.98 370.20 490.08 370.80 490.17 371.40 489.66 372.00 489.67 372.60 489.35 373.20 488.76 373.80 488.49 374.40 488.46 375.00 488.26 375.60 487.64 376.20 487.92 376.80 487.67 377.40 487.94 378.00 487.73 378.60 487.90 379.20 487.77 379.80 487.68 380.40 487.45 381.00 487.25 381.60 487.16 382.20 486.94 382.80 486.38 383.40 486.36 384.00 486.28 384.60 486.20 385.20 486.19 385.80 486.20 386.40 485.82 387.00 485.54 387.60 485.28 388.20 484.91 388.80 484.69 389.40 484.12 390.00 484.24 390.60 483.81 391.20 483.32 391.80 483.03 392.40 482.81 393.00 482.93 393.60 482.82 394.20 483.04 394.80 482.67 395.40 482.15 396.00 481.74 396.60 481.65 397.20 481.09 397.80 481.05 398.40 480.71 399.00 481.02 399.60 480.36 400.20 480.22 400.80 480.26 401.40 480.31 402.00 479.87 402.60 480.20 403.20 480.10 403.80 480.03 404.40 479.86 405.00 479.59 405.60 479.19 406.20 478.83 406.80 479.06 407.40 478.76 408.00 478.85 408.60 478.79 409.20 478.84 409.59 479.13 409.80 479.62 410.09 479.02 410.40 479.46 410.59 479.11 411.00 479.28 411.60 479.05 412.20 479.25 412.80 479.40 413.40 479.54 414.00 479.40 414.60 479.42 415.20 479.69 415.80 479.82 416.40 480.37 417.00 480.54 417.60 480.63 418.20 481.42 418.80 481.32 419.40 481.37 420.00 481.53 420.60 481.73 421.20 481.99 421.80 482.09 422.40 482.55 423.00 482.98 423.60 483.19 424.20 483.23 424.80 483.62 425.40 483.74 426.00 484.03 426.60 483.98 427.20 483.65 427.80 484.03 428.40 484.64 429.00 484.50 429.60 484.85 430.20 485.82 430.80 485.96 431.40 486.14 432.00 486.46 432.60 486.86 433.20 486.83 433.80 486.98 434.40 487.31 435.00 487.48 435.60 487.68 436.20 488.19 436.80 488.61 437.40 488.91 438.00 489.18 438.60 489.30 439.20 489.36 439.80 489.30 440.40 489.71 441.00 489.55 441.60 489.79 442.20 489.62 442.80 489.74 443.40 490.33 444.00 490.74 444.60 490.95 445.20 491.37 445.80 491.49 446.40 491.50 447.00 491.81 447.60 492.11 448.20 491.98 448.80 492.56 449.40 492.84 450.00 492.78 450.60 493.03 451.20 493.38 451.80 493.42 452.40 493.02 453.00 493.42 453.60 493.63 454.20 493.41 454.80 493.53 455.40 493.82 456.00 493.86 456.60 494.22 457.20 494.27 457.80 494.69 458.40 494.78 459.00 494.72 459.60 494.87 460.20 494.98 460.80 495.17 461.40 494.95" fill="none" stroke="#f25252" stroke-width="1.00" stroke-linejoin="round" clip-path="url(#ce4)"/><path d="M360.60 502.44 361.20 502.05 361.80 502.42 362.40 502.33 363.00 502.15 363.60 502.21 364.20 502.48 364.80 502.34 365.40 502.16 366.00 502.10 366.60 501.75 367.20 501.45 367.80 501.13 368.40 501.37 369.00 501.32 369.60 500.95 370.20 500.81 370.80 500.74 371.40 500.77 372.00 501.10 372.60 501.05 373.20 501.16 373.80 500.84 374.40 500.72 375.00 500.42 375.60 500.28 376.20 500.34 376.80 500.18 377.40 499.90 378.00 499.75 378.60 500.07 379.20 499.56 379.80 499.43 380.40 499.49 381.00 499.36 381.60 498.99 382.20 499.19 382.80 499.69 383.40 499.07 384.00 499.05 384.60 498.75 385.20 498.39 385.80 497.75 386.40 497.57 387.00 497.71 387.60 497.52 388.20 497.62 388.80 497.76 389.40 497.53 390.00 497.81 390.60 497.42 391.20 497.62 391.80 497.21 392.40 497.56 393.00 497.50 393.60 497.31 394.20 497.29 394.80 497.58 395.40 497.53 395.45 497.57 395.95 497.47 396.00 497.35 396.45 497.31 396.60 497.24 397.20 497.49 397.80 497.38 398.40 497.53 399.00 497.41 399.60 497.10 400.20 497.43 400.80 497.41 401.40 497.56 402.00 497.38 402.60 497.63 403.20 497.90 403.80 497.86 404.40 498.24 405.00 498.45 405.60 498.65 406.20 498.70 406.80 499.05 407.40 498.89 408.00 498.42 408.60 498.69 409.20 498.53 409.80 498.74 410.40 498.63 411.00 498.85 411.60 499.06 412.20 499.20 412.80 499.16 413.40 499.57 414.00 500.37 414.60 500.72 415.20 500.68 415.80 500.66 416.40 500.87 417.00 500.56 417.60 500.73 418.20 500.89 418.80 501.39 419.40 501.85 420.00 502.02 420.60 501.72 421.20 502.16 421.80 502.08 422.40 502.38 423.00 502.68 423.60 503.00 424.20 502.99 424.80 502.76 425.40 503.29 426.00 503.35 426.60 503.17 427.20 502.84 427.80 503.21 428.40 503.10 429.00 503.11 429.60 503.01 430.20 503.26 430.80 503.36 431.40 503.77 432.00 503.88 432.60 504.17 433.20 503.94 433.80 503.95 434.40 503.76 435.00 504.11 435.60 504.63 436.20 505.21 436.80 505.06 437.40 504.98 438.00 504.68 438.60 504.26 439.20 504.23 439.80 504.30 440.40 504.74 441.00 504.82 441.60 505.01 442.20 505.01 442.80 504.78 443.40 504.91 444.00 504.84 444.60 504.60 445.20 504.90 445.80 504.86 446.40 505.17 447.00 505.21 447.60 505.23 448.20 505.16 448.80 505.19 449.40 504.91 450.00 504.70 450.60 504.74 451.20 505.15 451.80 505.53 452.40 505.31 453.00 505.44 453.60 505.49 454.20 505.24 454.80 505.09 455.40 505.15 456.00 505.07 456.60 504.79 457.20 504.85 457.80 505.06 458.40 505.06 459.00 505.32 459.60 505.32 460.20 505.17 460.80 505.44 461.40 505.65" fill="none" stroke="#3a3a3a" stroke-width="1.00" stroke-linejoin="round" clip-path="url(#ce4)"/><line x1="360.60" y1="525.00" x2="360.60" y2="523.00" stroke="#777" stroke-width="0.8"/><line x1="373.23" y1="525.00" x2="373.23" y2="523.60" stroke="#777" stroke-width="0.8"/><line x1="385.85" y1="525.00" x2="385.85" y2="523.00" stroke="#777" stroke-width="0.8"/><line x1="398.48" y1="525.00" x2="398.48" y2="523.60" stroke="#777" stroke-width="0.8"/><line x1="411.10" y1="525.00" x2="411.10" y2="523.00" stroke="#777" stroke-width="0.8"/><line x1="423.73" y1="525.00" x2="423.73" y2="523.60" stroke="#777" stroke-width="0.8"/><line x1="436.35" y1="525.00" x2="436.35" y2="523.00" stroke="#777" stroke-width="0.8"/><line x1="448.98" y1="525.00" x2="448.98" y2="523.60" stroke="#777" stroke-width="0.8"/><line x1="461.60" y1="525.00" x2="461.60" y2="523.00" stroke="#777" stroke-width="0.8"/><rect x="360.60" y="375.00" width="101.00" height="150.00" fill="none" stroke="#8c8c8c" stroke-width="1.20"/><text x="360.10" y="532.70" font-size="7.70" fill="#3a3a3a" stroke="#3a3a3a" stroke-width="0.20" text-anchor="middle" font-weight="normal" font-family="Liberation Serif">39.5</text><text x="384.35" y="532.70" font-size="7.70" fill="#3a3a3a" stroke="#3a3a3a" stroke-width="0.20" text-anchor="middle" font-weight="normal" font-family="Liberation Serif">40.0</text><text x="409.10" y="532.70" font-size="7.70" fill="#3a3a3a" stroke="#3a3a3a" stroke-width="0.20" text-anchor="middle" font-weight="normal" font-family="Liberation Serif">40.5</text><text x="433.85" y="532.70" font-size="7.70" fill="#3a3a3a" stroke="#3a3a3a" stroke-width="0.20" text-anchor="middle" font-weight="normal" font-family="Liberation Serif">41.0</text><text x="458.60" y="532.70" font-size="7.70" fill="#3a3a3a" stroke="#3a3a3a" stroke-width="0.20" text-anchor="middle" font-weight="normal" font-family="Liberation Serif">41.5</text><text x="406.60" y="544.50" font-size="9.60" fill="#333" stroke="#333" stroke-width="0.20" text-anchor="middle" font-weight="normal" font-family="Liberation Serif">2θ (°)</text><text x="356.60" y="454.00" font-size="9.20" fill="#333" stroke="#333" stroke-width="0.20" text-anchor="middle" font-weight="normal" font-family="Liberation Serif" transform="rotate(-90 356.60 454.00)">Intensity (a.u.)</text><text x="365.60" y="387.60" font-size="12.80" fill="#111" stroke="#111" stroke-width="0.20" text-anchor="start" font-weight="bold" font-family="Liberation Serif">(e4)</text></svg></body></html>
